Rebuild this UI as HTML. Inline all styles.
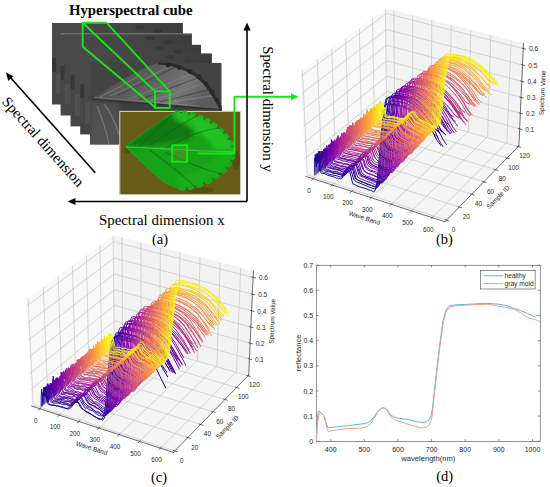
<!DOCTYPE html>
<html><head><meta charset="utf-8"><title>Figure</title>
<style>
html,body{margin:0;padding:0;background:#fff;}
body{width:550px;height:487px;overflow:hidden;position:relative;font-family:"Liberation Sans",sans-serif;}
svg{position:absolute;left:0;top:0;display:block;}
</style></head>
<body>
<svg width="550" height="487" viewBox="0 0 550 487">
<rect width="550" height="487" fill="#fff"/>
<defs>
<filter id="bl2" x="-20%" y="-20%" width="140%" height="140%"><feGaussianBlur stdDeviation="2"/></filter>
<linearGradient id="gl" x1="0" y1="0" x2="1" y2="0.35">
<stop offset="0" stop-color="#4a4a4a"/><stop offset="0.5" stop-color="#5e5e5e"/><stop offset="0.8" stop-color="#767676"/><stop offset="1" stop-color="#5c5c5c"/>
</linearGradient>
<linearGradient id="gd" x1="0" y1="0" x2="0" y2="1">
<stop offset="0" stop-color="#3c3c3c"/><stop offset="1" stop-color="#4a4a4a"/>
</linearGradient>
<radialGradient id="leafg" cx="0.6" cy="0.45" r="0.65">
<stop offset="0" stop-color="#2cb22c"/><stop offset="0.6" stop-color="#219a21"/><stop offset="1" stop-color="#1a861a"/>
</radialGradient>
<clipPath id="c5"><rect x="90" y="62.8" width="131.7" height="81.7"/></clipPath>
</defs>
<g id="layers">
<linearGradient id="gs" x1="0" y1="0" x2="1" y2="0.4"><stop offset="0" stop-color="#4a4a4a"/><stop offset="0.6" stop-color="#434343"/><stop offset="1" stop-color="#3a3a3a"/></linearGradient>
<rect x="52" y="23" width="130.9" height="81.5" fill="url(#gs)"/>
<rect x="60.6" y="33.5" width="131.3" height="82" fill="url(#gs)"/>
<rect x="70.5" y="44.8" width="130.5" height="81.6" fill="url(#gs)"/>
<rect x="80.2" y="53.4" width="131.7" height="81" fill="url(#gs)"/>
<path d="M60.6 33.8H191.9" stroke="#9a9a9a" stroke-width="0.7"/>
<g fill="#333" opacity="0.8">
<path d="M52 58h4v14h-4z"/><path d="M60.6 66h4v14h-4z"/><path d="M70.5 75h4v14h-4z"/><path d="M80.2 84h4v14h-4z"/>
</g>
<g fill="#5a5a5a" opacity="0.5">
<path d="M56 74h4v20h-4z"/><path d="M65 84h5v20h-5z"/><path d="M75 94h5v22h-5z"/><path d="M85 102h5v22h-5z"/>
</g>
<g fill="#2e2e2e" opacity="0.45">
<ellipse cx="140" cy="27" rx="5" ry="2"/><ellipse cx="158" cy="31" rx="5" ry="2"/><ellipse cx="150" cy="38" rx="5" ry="2"/><ellipse cx="168" cy="42" rx="5" ry="2"/><ellipse cx="160" cy="48" rx="4" ry="2"/><ellipse cx="178" cy="52" rx="4" ry="2"/><ellipse cx="170" cy="57" rx="4" ry="2"/><ellipse cx="188" cy="60" rx="4" ry="2"/>
</g>
<g clip-path="url(#c5)">
<rect x="90" y="62.8" width="131.7" height="81.7" fill="#434343"/>
<path d="M92 99 C110 88 135 70 158 63 C180 64 200 74 210 90 C216 99 219 104 222 110 C180 106 130 102 92 99Z" fill="url(#gl)"/>
<path d="M92 99 C130 102 180 106 222 110 L222 145 L90 145Z" fill="url(#gd)"/>
<g stroke="#8a8a8a" stroke-width="1.3" opacity="0.55" fill="none">
<path d="M110 96 C130 88 150 76 168 67"/><path d="M128 99 C150 92 170 83 190 74"/><path d="M150 101 C168 96 186 90 202 84"/><path d="M168 103 C185 100 200 97 212 96"/><path d="M100 97 C115 90 125 84 140 75"/>
</g>
<g stroke="#383838" stroke-width="1.2" opacity="0.6" fill="none">
<path d="M118 95 C140 85 158 75 176 67"/><path d="M138 100 C160 93 178 85 197 78"/><path d="M160 102 C178 98 194 93 208 90"/>
</g>
<path d="M158 63 C180 64 200 74 210 90 C216 99 219 104 222 110" stroke="#2c2c2c" stroke-width="3.2" fill="none"/>
<g fill="#262626">
<circle cx="168" cy="65" r="2.4"/><circle cx="179" cy="67.5" r="2.4"/><circle cx="190" cy="71.5" r="2.4"/><circle cx="199" cy="77" r="2.4"/><circle cx="206" cy="84" r="2.4"/><circle cx="212" cy="92" r="2.4"/><circle cx="217" cy="100" r="2.2"/>
</g>
<path d="M92 99 C130 102 180 106 222 110" stroke="#2f2f2f" stroke-width="1.4" fill="none"/>
<path d="M94 97.5 C130 100 160 103 200 106" stroke="#9a9a9a" stroke-width="0.8" fill="none" opacity="0.5"/>
<path d="M90 100 L120 104 L120 145 L90 145Z" fill="#5a5a5a" opacity="0.6" filter="url(#bl2)"/>
<g stroke="#7a7a7a" stroke-width="1.4" fill="none" opacity="0.8">
<path d="M97 106 C102 118 106 130 109 144"/><path d="M104 104 C111 113 116 123 119 135"/>
</g>
</g>
</g>
<g id="cimg">
<rect x="119.3" y="110.9" width="121" height="83.5" fill="#675b17"/>
<path d="M119.8 194.4V111.4H240" stroke="#d8d8c8" stroke-width="1" fill="none"/>
<g fill="#4f4512" opacity="0.6"><ellipse cx="236" cy="160" rx="4" ry="10"/><ellipse cx="200" cy="190" rx="14" ry="3"/><ellipse cx="128" cy="150" rx="4" ry="4"/></g>
<clipPath id="leafclip"><path d="M125.5 146.8 C135 139 150 128 157.7 123.5 C162 120 168 114.5 173.2 113.5 Q176.2 108.6 181 112.5 Q185.0 108.7 189 113.8 Q193.7 110.3 196.5 115.6 Q202.3 113.2 204.3 118.9 Q210.4 117.2 211 122.6 Q217.7 122.2 217.6 127.6 Q224.7 128.0 224 132.8 Q230.6 134.6 228.7 139.2 Q234.9 142.2 232.2 146.6 Q237.4 150.2 233.6 153.8 Q236.9 158.2 231.4 161.2 Q233.5 166.0 227 167.9 Q227.6 173.3 220.3 174.3 Q220.2 179.5 213.2 179 Q211.5 184.8 204.3 183.4 Q201.6 189.1 195.4 186.6 Q191.7 191.9 186.5 188.3 Q181.8 192.6 177.7 188 C170 186 163 182 159.9 179 C150 171 140 161 125.5 146.8Z"/></clipPath>
<path d="M125.5 146.8 C135 139 150 128 157.7 123.5 C162 120 168 114.5 173.2 113.5 Q176.2 108.6 181 112.5 Q185.0 108.7 189 113.8 Q193.7 110.3 196.5 115.6 Q202.3 113.2 204.3 118.9 Q210.4 117.2 211 122.6 Q217.7 122.2 217.6 127.6 Q224.7 128.0 224 132.8 Q230.6 134.6 228.7 139.2 Q234.9 142.2 232.2 146.6 Q237.4 150.2 233.6 153.8 Q236.9 158.2 231.4 161.2 Q233.5 166.0 227 167.9 Q227.6 173.3 220.3 174.3 Q220.2 179.5 213.2 179 Q211.5 184.8 204.3 183.4 Q201.6 189.1 195.4 186.6 Q191.7 191.9 186.5 188.3 Q181.8 192.6 177.7 188 C170 186 163 182 159.9 179 C150 171 140 161 125.5 146.8Z" fill="#17a217" stroke="#1fb01f" stroke-width="0.8"/>
<g clip-path="url(#leafclip)"><g filter="url(#bl2)">
<path d="M125 147 L160 118 L200 112 L190 140 L150 146Z" fill="#0e6e0e" opacity="0.8"/>
<path d="M175 110 C200 112 225 125 236 150 L215 150 C205 135 190 125 175 120Z" fill="#26c626" opacity="0.85"/>
<path d="M236 150 C230 170 210 185 180 192 L175 178 C200 172 215 162 220 150Z" fill="#20b020" opacity="0.7"/></g>
<g stroke="#136413" stroke-width="1.2" fill="none" opacity="0.55">
<path d="M150 145 C170 132 185 122 200 114"/><path d="M165 148 C185 138 205 128 222 128"/><path d="M150 150 C170 165 185 176 196 188"/><path d="M165 152 C185 162 205 170 222 174"/><path d="M140 146 C150 136 160 126 172 115"/>
</g>
<path d="M126 147 C160 148 195 151 233 152" stroke="#4fd04f" stroke-width="1.3" fill="none" opacity="0.7"/>
</g>
<g fill="#0f5a0f" opacity="0.6"><circle cx="181" cy="112.5" r="1.1"/><circle cx="189" cy="113.8" r="1.1"/><circle cx="196.5" cy="115.6" r="1.1"/><circle cx="204.3" cy="118.9" r="1.1"/><circle cx="211" cy="122.6" r="1.1"/><circle cx="217.6" cy="127.6" r="1.1"/><circle cx="224" cy="132.8" r="1.1"/><circle cx="228.7" cy="139.2" r="1.1"/><circle cx="232.2" cy="146.6" r="1.1"/><circle cx="233.6" cy="153.8" r="1.1"/><circle cx="231.4" cy="161.2" r="1.1"/><circle cx="227" cy="167.9" r="1.1"/><circle cx="220.3" cy="174.3" r="1.1"/><circle cx="213.2" cy="179" r="1.1"/><circle cx="204.3" cy="183.4" r="1.1"/><circle cx="195.4" cy="186.6" r="1.1"/><circle cx="186.5" cy="188.3" r="1.1"/></g>
<path d="M174 147h12v13h-12z" fill="#6a8a2a" opacity="0.45"/>
</g>
<g fill="none" stroke="#14e814" stroke-width="1.9" stroke-linejoin="miter">
<path d="M82.7 46.8V22.8H106.7"/>
<path d="M82.7 22.8L155 91.4"/><path d="M82.7 46.8L155 107.3"/><path d="M106.7 22.8L169.7 91.4"/>
<rect x="155" y="91.4" width="14.7" height="16.5"/>
<rect x="172.2" y="145.2" width="14.9" height="16.5"/>
<path d="M197.7 153.5H234.4V96.8H292"/>
</g>
<path d="M298.5 96.8l-7.5-3.5v7z" fill="#14e814"/>
<g stroke="#000" stroke-width="1.6" fill="none">
<path d="M247 201.5V28"/><path d="M247 201.5H73"/><path d="M95.3 172.7L10 77"/>
</g>
<g fill="#000">
<path d="M247 22.5l-3.6 8h7.2z"/>
<path d="M67.5 201.5l8-3.6v7.2z"/>
<path d="M6 72.5l2.2 8.5 5.2-4.7z"/>
</g>
<g font-family="Liberation Serif" fill="#000">
<text x="130.8" y="14.5" font-size="14.8" font-weight="bold" text-anchor="middle">Hyperspectral cube</text>
<text x="161.8" y="225.3" font-size="14.9" text-anchor="middle">Spectral dimension x</text>
<text transform="translate(263.2,109) rotate(90)" font-size="14.9" text-anchor="middle">Spectral dimension y</text>
<text transform="translate(39.5,145) rotate(48.2)" font-size="14.9" text-anchor="middle">Spectral dimension</text>
<text x="160" y="243.5" font-size="14.5" text-anchor="middle">(a)</text>
</g>

<g id="pb"><g font-family="Liberation Sans"><path d="M305.6 176.3l81.9-68.7-1.2-98.9-85.8 62.6" fill="#f2f2f2" stroke="#f2f2f2" stroke-width="0.54" stroke-linejoin="miter" opacity="0.5"/>
<path d="M387.5 107.6l131.4 38.2 4.6-102.4-137.2-34.7" fill="#e6e6e6" stroke="#e6e6e6" stroke-width="0.54" stroke-linejoin="miter" opacity="0.5"/>
<path d="M305.6 176.3l139.3 45.5 74-76-131.4-38.2" fill="#ececec" stroke="#ececec" stroke-width="0.54" stroke-linejoin="miter" opacity="0.5"/>
<path d="M313.1 178.8l81.5-69.1-0.8-99.1" fill="none" stroke="#b8b8b8" stroke-width="0.55"/>
<path d="M332.2 185l80.5-70-0.1-99.7" fill="none" stroke="#b8b8b8" stroke-width="0.55"/>
<path d="M351.6 191.3l79.4-71 0.8-100.1" fill="none" stroke="#b8b8b8" stroke-width="0.55"/>
<path d="M371.3 197.8l78.3-72.1 1.6-100.6" fill="none" stroke="#b8b8b8" stroke-width="0.55"/>
<path d="M391.3 204.3l77.2-73.1 2.3-101.1" fill="none" stroke="#b8b8b8" stroke-width="0.55"/>
<path d="M411.6 210.9l76-74.2 3.2-101.6" fill="none" stroke="#b8b8b8" stroke-width="0.55"/>
<path d="M432.2 217.6l74.7-75.2 4.2-102.1" fill="none" stroke="#b8b8b8" stroke-width="0.55"/>
<path d="M302.4 69.9l4.9 104.9 139.2 45.3" fill="none" stroke="#b8b8b8" stroke-width="0.55"/>
<path d="M317.2 59.1l4.3 103.8 137.8 44.1" fill="none" stroke="#b8b8b8" stroke-width="0.55"/>
<path d="M331.7 48.5l3.5 102.9 136.5 42.8" fill="none" stroke="#b8b8b8" stroke-width="0.55"/>
<path d="M345.7 38.3l2.9 101.9 135.2 41.6" fill="none" stroke="#b8b8b8" stroke-width="0.55"/>
<path d="M359.3 28.4l2.3 100.9 134 40.4" fill="none" stroke="#b8b8b8" stroke-width="0.55"/>
<path d="M372.5 18.7l1.8 100 132.7 39.3" fill="none" stroke="#b8b8b8" stroke-width="0.55"/>
<path d="M385.4 9.3l1.2 99.1 131.5 38.2" fill="none" stroke="#b8b8b8" stroke-width="0.55"/>
<path d="M519.6 128.9l-132.3-37.6-82.6 67.6" fill="none" stroke="#b8b8b8" stroke-width="0.55"/>
<path d="M520.3 113.3l-133.2-37.2-83.1 66.8" fill="none" stroke="#b8b8b8" stroke-width="0.55"/>
<path d="M521.1 97.4l-134.2-36.6-83.7 65.9" fill="none" stroke="#b8b8b8" stroke-width="0.55"/>
<path d="M521.8 81.3l-135.1-36.1-84.3 65" fill="none" stroke="#b8b8b8" stroke-width="0.55"/>
<path d="M522.6 65l-136-35.5-85 63.9" fill="none" stroke="#b8b8b8" stroke-width="0.55"/>
<path d="M523.3 48.5l-136.9-35-85.6 63" fill="none" stroke="#b8b8b8" stroke-width="0.55"/>
<path d="M305.6 176.3l139.3 45.5" fill="none" stroke="#222" stroke-width="0.65" stroke-linecap="square"/>
<path d="M313.8 178.2l-2.1 1.8" fill="none" stroke="#222" stroke-width="0.65" stroke-linecap="square"/>
<text x="309.1" y="191.4" font-size="6.39" text-anchor="middle" fill="#262626" dy="1.2">0</text>
<path d="M332.9 184.4l-2.1 1.8" fill="none" stroke="#222" stroke-width="0.65" stroke-linecap="square"/>
<text x="328.2" y="197.7" font-size="6.39" text-anchor="middle" fill="#262626" dy="1.2">100</text>
<path d="M352.3 190.7l-2.1 1.9" fill="none" stroke="#222" stroke-width="0.65" stroke-linecap="square"/>
<text x="347.6" y="204.1" font-size="6.39" text-anchor="middle" fill="#262626" dy="1.2">200</text>
<path d="M372 197.1l-2.1 1.9" fill="none" stroke="#222" stroke-width="0.65" stroke-linecap="square"/>
<text x="367.3" y="210.6" font-size="6.39" text-anchor="middle" fill="#262626" dy="1.2">300</text>
<path d="M392 203.6l-2.1 2" fill="none" stroke="#222" stroke-width="0.65" stroke-linecap="square"/>
<text x="387.3" y="217.2" font-size="6.39" text-anchor="middle" fill="#262626" dy="1.2">400</text>
<path d="M412.2 210.3l-2 1.9" fill="none" stroke="#222" stroke-width="0.65" stroke-linecap="square"/>
<text x="407.6" y="223.9" font-size="6.39" text-anchor="middle" fill="#262626" dy="1.2">500</text>
<path d="M432.8 217l-1.9 1.9" fill="none" stroke="#222" stroke-width="0.65" stroke-linecap="square"/>
<text x="428.2" y="230.7" font-size="6.39" text-anchor="middle" fill="#262626" dy="1.2">600</text>
<text x="364.1" y="218.9" font-size="6.39" text-anchor="middle" transform="rotate(-341.9 364.1 218.9)" fill="#262626" dy="1.2">Wave Band</text>
<path d="M518.9 145.8l-74 76" fill="none" stroke="#222" stroke-width="0.65" stroke-linecap="square"/>
<path d="M445.3 219.7l3.5 1.2" fill="none" stroke="#222" stroke-width="0.65" stroke-linecap="square"/>
<text x="453.5" y="231.5" font-size="6.39" text-anchor="middle" fill="#262626" dy="0.6">0</text>
<path d="M458.1 206.6l3.5 1.1" fill="none" stroke="#222" stroke-width="0.65" stroke-linecap="square"/>
<text x="466.2" y="218.3" font-size="6.39" text-anchor="middle" fill="#262626" dy="0.6">20</text>
<path d="M470.6 193.8l3.4 1.1" fill="none" stroke="#222" stroke-width="0.65" stroke-linecap="square"/>
<text x="478.5" y="205.4" font-size="6.39" text-anchor="middle" fill="#262626" dy="0.6">40</text>
<path d="M482.7 181.4l3.4 1.1" fill="none" stroke="#222" stroke-width="0.65" stroke-linecap="square"/>
<text x="490.5" y="192.9" font-size="6.39" text-anchor="middle" fill="#262626" dy="0.6">60</text>
<path d="M494.4 169.4l3.4 1" fill="none" stroke="#222" stroke-width="0.65" stroke-linecap="square"/>
<text x="502.2" y="180.7" font-size="6.39" text-anchor="middle" fill="#262626" dy="0.6">80</text>
<path d="M505.9 157.7l3.3 1" fill="none" stroke="#222" stroke-width="0.65" stroke-linecap="square"/>
<text x="513.5" y="168.9" font-size="6.39" text-anchor="middle" fill="#262626" dy="0.6">100</text>
<path d="M517 146.3l3.3 1" fill="none" stroke="#222" stroke-width="0.65" stroke-linecap="square"/>
<text x="524.5" y="157.4" font-size="6.39" text-anchor="middle" fill="#262626" dy="0.6">120</text>
<text x="499.2" y="198.3" font-size="6.39" text-anchor="middle" transform="rotate(-45.7 499.2 198.3)" fill="#262626" dy="0.6">Sample ID</text>
<path d="M518.9 145.8l4.6-102.4" fill="none" stroke="#222" stroke-width="0.65" stroke-linecap="square"/>
<path d="M518.5 128.6l3.4 0.9" fill="none" stroke="#222" stroke-width="0.65" stroke-linecap="square"/>
<text x="529.6" y="131.6" font-size="6.39" text-anchor="middle" fill="#262626">0.1</text>
<path d="M519.2 113l3.4 0.9" fill="none" stroke="#222" stroke-width="0.65" stroke-linecap="square"/>
<text x="530.4" y="116.0" font-size="6.39" text-anchor="middle" fill="#262626">0.2</text>
<path d="M519.9 97.1l3.4 0.9" fill="none" stroke="#222" stroke-width="0.65" stroke-linecap="square"/>
<text x="531.2" y="100.2" font-size="6.39" text-anchor="middle" fill="#262626">0.3</text>
<path d="M520.7 81l3.4 0.9" fill="none" stroke="#222" stroke-width="0.65" stroke-linecap="square"/>
<text x="532.0" y="84.1" font-size="6.39" text-anchor="middle" fill="#262626">0.4</text>
<path d="M521.4 64.7l3.4 0.9" fill="none" stroke="#222" stroke-width="0.65" stroke-linecap="square"/>
<text x="532.8" y="67.8" font-size="6.39" text-anchor="middle" fill="#262626">0.5</text>
<path d="M522.2 48.2l3.4 0.9" fill="none" stroke="#222" stroke-width="0.65" stroke-linecap="square"/>
<text x="533.6" y="51.3" font-size="6.39" text-anchor="middle" fill="#262626">0.6</text>
<text x="544.6" y="92.9" font-size="6.39" text-anchor="middle" transform="rotate(-87.4 544.6 92.9)" fill="#262626">Spectrum Value</text></g>
<g fill="none" stroke-width="1.00" stroke-linecap="square" stroke-linejoin="round"><path d="M314.8 175l-0.2-12.9 0.1-3 0.3-1.3 0.3 3.6-0.1-6.9 0.3 1.7 0.2-0.2 0.2 2.4 0.2-1.9 0.2 1.3 0.2-0.4 0.2 1.8 0.4 3-0.1-5.5 0.5 6.8 0-3.7 0.2 0 0.3 1.9 0-3.6 0.3 2 0.2 0.6 0.1-2.1 0.3 2.4 0-4 0.4 4.4 0.6 4.8 0.5 3.3 0.5 2.8 0.2 0.6 0.4 0.3 0.4 0.2 0.3 0 1.9 0.1 1 0.3 1 0.5 0.9 0.6 1 0.4 2.9 0.8 0.9 0.3 1 0.1 1.9 0.9 1 0.4 0.9 0.3 1 0 1 0.3 0.9 0.1 1 0.4 1-0.2 0.9-1 0.8-3.1 0.9-2.6 0.9-1.7 1.9-1.3 2 0.9 1.1 2.5 1 3.9 1.2 5.4 1 2.4 1 0.2 1.9 0.9 1 0.7 1 0.5 1 0.4 1 0.2 1 0.2 0.9 0.1 1 0.4 1 0.3 1 0.5 1 0.1 1 0.5 1 0.4 0.9 0.5 2 0.4 1 0.4 1.6 1 0.6 0 0.6-0.7 0.6-1.4 0.5-1.5 1.1-5.7 0.5-4.2 1.1-10.7 1-12.4 1-13.3 0.5-6.4 1.1-10.2 1.7-14.4 0.5-3.6 0.6-1.7 0.7-1 2.2-0.6 1.5 0 4.4 0.6 2.9 0.6 4.5 0.8 1.5 0.4 1.4 0.5 1.5 0.7 1.5 0.9 4.5 2.4 1.5 0.9 1.5 1 2.9 2.6 4.5 4 1.5 1.3 3 3.3 3 3.6 4.5 6.2 1.5 1.2 1.5 0.9 0.8 0.7 0 0" stroke="#0d0887"/>
<path d="M316 174l-0.1-11.7 0-3.4 0.5 8-0.2-10.2 0.2 0 0-2.7 0.4 5.2 0.2-1.2 0.3 1.9 0.2 1.1 0.3-1.6 0-3.7 0.3 3.1 0.3 1.9 0.1-2 0.2-0.1 0.3 2.1 0-4 0.5 6.9 0-3.6 0.1-1.9 0.4 4.6 0-3.7 0.2-1.6 0.6 6.4 0.8 4.9 0.5 2.4 0.2 0.6 0.4 0.4 0.3 0.2 0.4-0.1 1 0.4 0.9 0.1 1 0.3 0.9 0.1 1 0.6 1 0.5 1.9 0.4 1.9 0.4 0.9 0.2 2.9 0.6 1 0.4 1 0.4 0.9 0.3 1 0 1.9-0.1 0.9-0.5 1.8-4.5 0.9-1.8 1-0.8 0.9-0.6 1 0.2 1 0.3 1 1.9 1.1 2.9 1 4.1 1.1 2.3 2 1.4 0.9 0.5 1 0.4 1 0.2 1 0.6 1 0.3 1 0.5 1.9 0.7 1 0.6 1 0.1 1 0.6 1 0.2 1 0.7 1 0.1 1 0.5 0.9 0.3 1 0.5 1 0.1 0.6 0.2 0.6 0.5 0.6-0.4 0.6-1.2 0.5-1.8 0.6-2.6 0.5-3 0.6-3.8 1-11 1-13.5 1.5-20.7 1.1-11.6 1.7-15.2 0.6-3.7 0.6-1.7 0.6-1.1 0.6-0.2 0.6-0.2 0.6-0.3 0.5-0.1 1.4-0.1 3 0.4 1.4 0.1 1.5 0.2 2.9 0.6 4.5 1.2 1.5 0.5 3 1.5 1.4 0.8 3 1.8 1.5 1 1.5 1.1 3 2.6 1.5 1.3 4.5 4.5 3 3.4 1.5 1.8 1.5 1.9 4.4 6.7 1.5 1.4 1.5 0.9 0.9 0.7 0 0" stroke="#19068c"/>
<path d="M317.2 173l-0.2-12.9 0.1-6.7 0.3 4.2 0.1-2.8 0.2-1.1 0.3 4.3 0.2-1.2 0.2 1.3 0.2 0.6 0.1-3 0.3 2 0-3 0.3 1.6 0.1-0.9 0.3 1.7 0.2 0.9 0.2-1.1 0.1-0.1 0.3 1.6 0.1-2.4 0.1-0.6 0.3 1.4 0-3.3 0.5 5.7 0.1-0.7 0.3 3 0.8 5.3 0.5 2.6 0.2 0.6 0.4 0.4 0.4 0.2 0.4 0.1 1.9 0.8 2.8 0.3 1 0.4 1 0.3 1.9 0.7 1.9 0.3 0.9 0.1 1 0.4 1 0.1 0.9 0.4 1 0.1 2.9 1 1 0.1 0.9-1 0.9-3 0.8-2.9 1-1.5 0.9-0.8 0.9-0.7 1 0.2 1 0.4 1 1.8 1.1 3.4 1.1 4.7 1 2.6 1 0.3 1 0.6 1 0.7 1 0.4 2.9 1.2 1 0.3 1 0.5 1 0.4 1 0.7 1.9 0.5 1 0.2 1 0.3 4 1.7 1 0.2 1.1 0.5 0.6-0.5 0.6-1.4 0.6-1.6 1.1-5.2 0.5-4 1-11.4 1.6-20.3 1-13.5 1.1-11.2 1.1-10 0.6-4.2 0.5-3.2 0.7-1.8 0.6-1.1 2.2-1 1.5 0 1.5 0.2 2.9 0.3 1.5 0.2 2.9 0.6 1.5 0.3 1.5 0.5 1.5 0.4 1.4 0.5 3 1.6 3 1.8 3 2 1.5 1.2 2.9 2.7 3 3 3 3 6 7.6 3 4.7 1.4 2.5 1.5 1.2 1.5 1 0.9 0.8 0 0" stroke="#220690"/>
<path d="M318.3 172l-0.1-13.2 0-3.4 0.1-1.5 0.1-2.7 0.3 2.5 0.2-0.4 0.1-0.9 0.2-1.4 0.2 1 0.3 2 0.2 0.5 0.3 3.3 0-3.3 0.4 3.1 0.1 0 0.1-3.6 0.2 1.8 0.2-1.2 0.3 2.5 0-3.9 0.3 2.4 0.1-2.2 0.5 2.5 0.2 1.8 0.3 0.8 0.8 6 0.7 4.2 0.2 0.6 0.4 0.4 0.8 0.5 0.9 0.2 1 0.3 0.9 0.1 1 0.4 0.9 0.1 1 0.5 2.9 0.9 0.9 0 1 0.3 0.9 0 1 0.5 3.8 1 1 0.4 1 0.2 0.9 0 1-0.7 1.7-6 0.9-2 1-0.7 0.9-0.5 1 0.3 1 0.5 1 2.3 1.1 3.7 1.1 5 1 2.4 1 0.4 1 0.4 1 0.7 0.9 0.4 1 0.7 1 0.2 1 0.4 1 0.1 4.9 1.9 1 0.6 1 0.3 1 0.3 0.9 0.3 2 0.7 1.6 0.5 0.6 0.1 0.6-0.6 0.6-1.2 0.5-1.5 1.1-5.7 0.6-4 1-11 2.6-32.3 0.5-5.3 1.7-14.1 0.6-4.1 0.6-3.3 0.6-1.6 0.6-1 0.6-0.2 0.6-0.3 1.1-0.4 1.4 0 1.5 0.2 1.4 0.3 1.5 0.1 4.4 0.9 1.5 0.3 1.5 0.4 2.9 1.2 3 1.9 1.5 1 2.9 2.3 1.5 1.3 1.5 1.5 3 3.4 2.9 3.6 1.5 1.8 1.5 1.9 3 4.6 1.5 2.3 1.4 2.4 4.5 8.3 1.4 2 1.5 1.7 0.9 1.2 0 0" stroke="#2c0594"/>
<path d="M319.5 171l-0.1-11.2 0.1-3.5 0.1-1.1 0.2 0.1 0.1-1.2 0.2 0 0.2 0.6 0.4 3.1 0-3 0.2-1 0.3 3.3 0-5.5 0.4 5 0.2 1 0.1-2 0.2 1.4 0.3 2.5 0.1-6.4 0.2-0.8 0.4 5.9 0.1-3.2 0.2 1.8 0.2-0.2 0.1-1.7 0.3 2.6 0.4 3.6 0.7 4.8 0.5 2.3 0.2 0.6 0.4 0.4 0.4 0.2 0.3-0.2 1 0.2 1 0.4 0.9 0.6 1.9 0.7 1 0 1.9 0.4 0.9 0 1 0.2 0.9 0.2 1 0.5 1 0.4 0.9 0.1 1 0.4 1 0.2 0.9 0.5 1 0.2 0.9 0 1-0.3 0.9-0.8 1.8-4.8 0.9-1.7 1-0.7 0.9-0.5 1 0.4 1 0.4 1 1.7 1 2.8 1.1 4.1 1 2.2 1 0.7 1 0.4 1 0.7 1 0.3 0.9 0.6 1 0.3 1 0.5 1 0.2 1 0.6 1 0.3 1 0.5 1.9 0.4 2 0.9 1 0.6 1 0.6 1 0.4 1 0.2 0.9 0.4 0.6 0.1 0.6 0 1.2-1.8 0.6-1.4 0.5-2 0.6-3.1 0.5-3.5 1.1-11.2 3.1-39.7 1.1-10.4 0.5-5.4 0.6-4.3 0.6-3.4 0.6-1.7 0.6-1.1 0.6-0.2 1.7-0.5 1.5 0 1.4 0.1 2.9 0.4 5.9 1.1 1.5 0.4 1.5 0.3 1.5 0.6 1.4 0.7 1.5 0.9 1.5 0.7 3 1.9 1.5 1.1 1.5 1.2 2.9 2.7 1.5 1.5 4.5 4.6 3 3.7 2.9 3.7 3 4.6 1.5 2.4 1.5 1.4 1.5 1.1 0.8 0.9 0 0" stroke="#330597"/>
<path d="M320.7 170l-0.1-16 0.4 6.2-0.1-9.1 0.2 1 0.3 3.3 0.2-0.6 0.3-2.4 0.2 1.9 0.1-3.3 0.2 1.7 0.3 2.8 0.2-0.6 0.3-2.5 0.2 0.2 0.2 1.9 0.2-0.4 0.2 0.5 0.1-1.8 0.4 4.1 0-3.4 0.4 5.6 0.1-4.6 1 8.1 0.5 2.9 0.2 1.1 0.2 0.5 0.2 0.3 0.2 0.2 0.4 0.2 0.4 0 0.9-0.1 1 0.5 1 0.3 2.8 0.6 1 0.6 0.9 0.2 1 0 0.9 0.3 1 0.1 0.9 0.3 1 0.3 1.9 1.1 1 0.2 1.9 0 1.9-0.1 1-0.8 1.7-5 1-1.6 0.9-0.9 0.9-0.7 1 0 1 0.4 1 1.5 1 2.6 1.1 4.1 1 2.7 1 0.9 1 0.8 1 0.4 1 0.5 1 0.1 0.9 0.5 1 0.3 2 1.5 1 0.5 1 0.2 1 0.1 0.9 0.5 1 0.6 1 0.6 1 0.3 1 0.2 1 0.4 1 0.5 1.6 0.6 0.5 0 0.6-0.6 1.2-2.6 0.5-2.4 0.6-3 0.5-4 1.6-17.3 2.6-33.1 0.6-5 1.7-13.4 0.6-3.1 0.6-1.7 0.6-1.1 0.6-0.2 0.6-0.3 1.1-0.3 1.4 0.1 1.5 0.2 2.9 0.2 7.4 1.7 1.4 0.5 1.5 0.7 1.5 1 1.5 1.1 1.5 1.2 2.9 2.6 1.5 1.4 1.5 1.8 4.4 6 3 4.2 1.5 2.3 1.5 2.5 4.4 8.2 1.4 3.1 3 6.5 1.4 2.2 1.5 2 0.8 1.4 0 0" stroke="#3a049a"/>
<path d="M321.9 169l0-13.2 0.2-0.6 0.1-0.8 0.3 1.6 0.1-1.5 0.2-0.1 0.1-1 0.3 1.6 0.1-0.3 0.2-2.2 0.3 5.1 0.1-2.1 0.2-0.8 0.1-1.2 0.3 2.6 0.2-0.3 0.2 1.1 0.1-3.4 0.3 3.6 0.1-2.2 0.3 1.9 0.2-0.2 0.3 2.9 0.1-2.3 0.9 5.8 0.5 2.4 0.2 0.9 0.2 0.5 0.2 0.2 0.2 0.2 0.4 0.2 0.4-0.1 0.9 0.2 1 0.3 0.9 0.4 1.9 0.3 1 0.3 0.9 0 1 0.5 2.9 0.6 1.9 0.9 1 0.4 0.9 0.2 1 0.4 0.9 0 1 0.2 1 0.1 0.9 0 0.9-0.6 1.9-3.7 0.9-1.1 0.9-0.7 1-0.8 0.9-0.5 1 0.1 1 1.4 1 2.3 1.1 3.2 1 2.1 1 0.7 1 1 1.9 1 2 0.8 1 0.4 3.9 1.6 1 0.6 1 0.2 1 0.6 1 0.2 0.9 0.5 1 0.3 1 0.6 1 0.4 1.6 0 0.6 0.2 0.6-0.2 0.5-1.1 0.6-1.4 0.6-2.1 0.5-2.6 0.6-3.2 1-10.4 1.1-13.2 1.6-20.6 0.5-6.7 1.1-10.9 0.6-5.4 0.5-4.6 0.6-3.5 0.6-1.7 0.6-1.1 0.7-0.3 1.2-0.4 0.4-0.1 1.5 0 4.4 0.4 2.9 0.6 2.9 0.5 1.5 0.4 1.5 0.5 1.5 0.6 1.5 0.8 2.9 1.8 3 2.1 1.5 1.1 1.4 1.4 3 3.1 1.5 1.5 4.4 5.1 1.5 2 3 4.4 1.5 2.2 1.4 2.5 3 5.2 1.5 1.7 1.5 1.2 0.8 1 0 0" stroke="#43039e"/>
<path d="M323 168l0-11.3 0-3.2 0.2 0.5 0.1-1.8 0.3 1.5 0.1-1.3 0.1-3.2 0.4 5.1 0.2 1.9 0-6.7 0.5 5.2 0.2-0.8 0.2 1.6 0.1-4.1 0.2 0.6 0.2 0.3 0.2 1 0.4 5.1 0.1-1.8 0.1-3.1 0.4 6.6 0-5.6 0.3 2.2 0-3.3 0.4 3.5 0.2 1.3 0.7 4.7 0.5 2.3 0.2 0.6 0.4 0.3 0.4 0.2 0.4 0 0.9 0.4 1 0.3 0.9 0.5 1 0.1 0.9 0.1 0.9-0.1 1 0.2 1 0.3 0.9 0.5 1 0.4 0.9 0.3 1 0.2 0.9 0.1 1 0.4 1 0.3 0.9 0.4 1 0 1 0.4 0.9 0.2 1 0 0.9-0.7 0.9-2.7 0.9-2.2 0.9-1.8 1-0.4 0.9-0.6 1 0.3 1 0.6 1 1.7 1 2.9 1.1 4.2 1 2.4 1 0.7 1 0.3 0.9 0.5 3 1 0.9 0.3 1 0.6 1 0.3 1 0.5 2 0.6 0.9 0.3 1 0.7 1 0.5 2 0.9 1 0.1 1 0.2 0.9 0 0.6 0.5 0.6 0.2 0.6-0.4 0.6-1.3 0.6-1.5 0.5-2.3 0.6-2.8 0.5-3.8 1.1-10.7 1-12.7 1.6-19.5 0.6-5.9 1.7-15.3 0.5-4.5 0.6-3.6 0.6-1.6 0.6-1.1 1.9-0.7 0.4-0.1 1.5 0 1.4 0.1 1.5 0.2 4.4 0.9 1.4 0.2 3 0.6 1.5 0.6 1.4 0.6 4.5 2.6 2.9 2.1 1.5 1 1.5 1.3 2.9 3 3 3.3 1.5 1.6 1.5 1.7 1.4 1.9 4.5 6.4 2.9 4.9 1.5 2.5 1.4 1.7 1.5 1.3 0.9 0.9 0 0" stroke="#4903a0"/>
<path d="M324.2 167l-0.1-11.3 0.1-3.1 0.2 0.8 0-4.1 0.4 3.3 0.1-1 0.2 0.4 0-4.3 0.5 8 0.1-1.8 0.1-3.1 0.2-1.1 0.3 5 0-4.8 0.4 3.7 0.2 0.7 0.2-0.1 0.1-2.1 0.2-0.2 0.3 3.1 0.1-2.3 0.2 1.4 0.3 1.9-0.1-6.3 0.4 6.3 0.2-0.7 0.8 5.3 0.7 3.7 0.2 0.5 0.4 0.4 0.3 0.2 0.4 0.1 1 0.5 0.9 0.1 1 0.3 0.9 0.1 1 0.4 0.9 0.2 1 0.5 1.9 0.6 0.9-0.2 1 0.1 0.9 0.1 2 0.5 0.9 0.4 1 0.7 1 0.4 0.9 0.1 1-0.1 0.9 0.1 0.9-0.9 0.9-2.3 0.9-2.6 1-1.5 0.9-0.7 1-0.4 1.9 0.3 1 1.7 1 3.1 1.1 4.3 1 2.2 2 1.2 1 0.7 1 0.6 0.9 0.4 1 0.1 1 0.3 1 0.4 0.9 0.6 3 1 1 0.4 0.9 0.2 2 0.7 1 0.7 2 0.9 1-0.1 1.1 0.4 0.6-0.3 0.6-1 0.6-1.5 0.5-2.5 0.6-2.9 0.5-3.8 1.1-10.5 1.1-12.4 1.6-19.4 1.1-11 0.6-4.8 0.5-5.2 0.6-4.4 0.6-3.5 0.6-1.6 0.6-0.9 1.2-0.5 1.1-0.4 4.3 0.4 1.5 0.1 2.9 0.6 4.4 1 1.5 0.5 1.5 0.8 1.4 0.9 1.5 1.1 3 2.5 2.9 2.7 1.5 1.6 2.9 3.8 3 3.9 1.5 2.1 1.4 2.1 1.5 2.5 4.4 7.9 4.4 9.1 1.4 2.2 1.5 2.1 0.8 1.3 0 0" stroke="#5002a2"/>
<path d="M325.4 166l0-14.2 0-2.9 0.4 3.1 0-2.4 0.4 5.5 0-5.2 0.1-1.9 0.4 3.7 0.2 1.1-0.1-7.3 0.4 6 0.1-2.9 0.4 4.6 0.2 1.3 0.2 0.8 0-5.5 0.4 6 0.2 0.9 0.1-3 0.2-0.3 0.2-0.2 0.2 2.3 0.2-0.9 0.1-1.3 0.4 5.8 0.1-2.7 1 5.6 0.2 0.9 0.2 0.5 0.2 0.3 0.2 0.2 0.4 0.2 0.4-0.1 0.9 0.4 1 0.6 0.9 0.2 1.9 0.1 1 0.3 0.9 0.4 1 0.3 1.9 0.2 0.9 0.3 1 0.1 0.9 0.1 1 0.4 1 0.2 0.9 0.4 1 0.2 0.9 0.3 1 0.1 0.9-0.1 1-0.4 0.9-2.3 0.9-1.9 0.9-1.4 1-0.5 0.9-0.7 1-0.2 0.9 0.2 1 1.2 1.1 2.3 1 3.2 1 2 3 2.6 1.9 0.7 1 0.3 1 0.4 1 0.4 0.9 0.5 1 0.3 1 0.7 2.9 1 1 0.7 1 0.5 1 0.4 1 0.2 1 0.3 1 0.3 0.6 0.2 0.5 0.1 0.6-0.2 1.2-2.5 0.5-2.3 0.6-2.7 0.6-3.3 1-10.7 1.1-13.1 1.6-20.2 0.6-6.2 1.1-10.2 0.6-5.2 0.5-4.3 0.6-3.3 0.6-1.8 0.6-1 1.3-0.6 1-0.3 1.5 0 4.3 0.6 3 0.5 4.4 0.9 1.4 0.4 1.5 0.6 1.5 0.8 2.9 1.8 3 2 1.5 1.1 1.5 1.3 4.4 4.7 2.9 3.3 1.5 1.7 3 3.9 2.9 4.2 2.9 5.1 1.5 2.6 1.5 1.6 1.5 1.2 0.8 0.9 0 0" stroke="#5801a4"/>
<path d="M326.5 165l0-10.6 0.1-3.1 0.3 3.1 0.3-5 0.3 1.9 0.1-1.4 0.4 4.3-0.1-5.9 0.4 3.7 0.2 0.9 0.1-1.8 0.2-0.8 0.2 1.6 0.1-1.9 0.4 5.5 0.1-3.6 0.1-2 0.2 0.9 0.3 1.8 0.1-1.3 0.1-3 0.4 6.5 0.1-2.7 1 6.9 0.5 2.4 0.2 1 0.2 0.5 0.4 0.4 0.4 0.2 0.3-0.1 1 0.3 1.9 0.4 1.9 0.8 0.9 0.3 1 0.1 0.9 0.3 1.9 0.5 2 0.5 0.9 0.4 1 0.3 0.9 0 1 0.1 0.9 0.2 1 0.6 1 0.2 0.9-0.2 0.9-0.7 0.9-2.2 0.9-1.9 1-1.5 1.9-1.4 0.9 0.3 1 0.3 1 1.8 1 2.7 1.1 3.9 1 2.1 1 0.3 2.9 1.9 1 0.3 1 0.2 0.9 0.4 3 1.1 1 0.4 0.9 0.3 2 0.9 1 0.4 1 0.3 0.9 0.3 1 0.5 2 0.6 0.6 0.3 0.6 0.2 0.6-0.6 0.5-1.1 0.6-1.4 0.6-2.2 0.5-2.7 0.6-3.7 1.1-10.6 1-12.8 1.7-20.6 0.5-6.4 1.1-10.8 0.6-5.6 0.6-4.9 0.6-3.9 0.6-1.7 0.6-1.2 0.6-0.3 1.2-0.4 0.5 0 1.4-0.1 4.4 0.5 1.4 0.3 1.5 0.4 5.9 1.2 1.5 0.5 1.4 0.7 5.9 3.5 1.5 0.9 1.5 1.3 4.4 4.3 1.5 1.3 3 3.1 2.9 3.8 3 3.7 2.9 4.6 1.5 2.4 1.5 1.3 1.4 1.1 0.9 0.8 0 0" stroke="#5e01a6"/>
<path d="M327.7 164.1l-0.1-12.1 0-3.8 0.3 0.8 0.2 0.4 0.2-3.6 0.2-1 0.1-0.1 0.5 2.3 0.3 2.1 0.2-4.4 0.3 3.1 0.1-1.3 0.3 1.7 0.1-0.9 0.3 3.2 0.2 0.9 0.2-0.6 0.3 2.3-0.1-6.1 0.1-3.3 0.4 5.9 0.3 1.8 0.1-0.8 0.6 4.2 0.5 3.3 0.4 2.4 0.2 0.5 0.2 0.3 0.2 0.1 0.8 0.5 0.9 0.1 1.9 0.6 2.8 0.4 1 0.6 1 0.4 0.9 0.3 1 0.1 0.9 0.2 1 0 1.9 0.3 0.9 0.4 1 0.4 1.9 0.4 1-0.1 0.9-0.2 0.9-0.6 1.8-4.8 1-1.7 0.9-1 0.9-0.6 1 0.1 1 0.3 1 1.5 1 2.7 1.1 4 1 2.3 1 0.9 1.9 1.6 2 0.8 1.9 0.3 1 0.5 1 0.6 1 0.7 1.9 0.9 1 0.5 1 0.2 1 0.5 1 0.3 0.9 0.5 2 0.5 1 0.1 0.6 0.2 0.6 0.4 0.6-0.3 0.5-1.2 0.6-1.5 0.6-2.5 0.5-2.8 0.6-3.8 1.1-11.1 1-12.8 1.7-20.1 0.5-5.9 0.6-5.1 1.7-13.4 0.6-3 0.6-1.7 0.6-1 1.3-0.6 0.6-0.3 0.4-0.1 1.5 0 2.9 0.4 1.4 0.1 3 0.6 4.4 0.9 1.4 0.5 1.5 0.7 4.4 2.9 3 2.2 1.4 1.2 1.5 1.4 1.5 1.6 5.9 7 1.4 1.9 3 4.4 2.9 4.8 4.4 8.1 1.4 1.8 1.5 1.5 0.8 1.1 0 0" stroke="#6400a7"/>
<path d="M328.8 163.1l0.1-13 0.3 2 0.2-0.2 0.1-1.5 0.2 0 0.1-1.3 0.3 3.2 0.1-1.5 0.4 0.7 0.1-4.4 0.2 2.3 0.1-4 0.3 3.1 0.2 1 0.1-1.9 0.2 0.3 0.4 6.3 0.3-2.9 0.2-1 0.2 0.1 0.3 4.1 0-3.6 0.3 1.1 0.2 2.3 1 5.1 0.2 0.8 0.2 0.5 0.2 0.3 0.2 0.1 0.4 0.2 0.3-0.2 1 0.3 0.9 0.6 1 0.2 0.9 0 1.9 0.6 1 0.4 0.9 0.2 1 0 0.9 0.1 1 0.1 2.8 1.3 1 0.3 1.9 0.2 1 0.4 0.9 0 1-0.2 0.9-0.6 0.9-1.6 0.9-1.5 1-1.2 0.9-0.8 1-0.9 0.9-0.4 1 0.3 1 1.2 1 2.6 1 3 1 2.1 1 0.4 2 1.5 0.9 0.6 3 0.9 0.9 0.3 2 0.9 2 1.3 1.9 0.6 2 0.2 1 0.6 0.9 0.6 1 0.4 1 0 0.6 0.1 0.6 0.3 0.6-0.2 1.1-2.2 0.6-2.1 0.6-2.5 0.5-3.3 1.1-10 1.1-12.4 1.6-19.8 0.6-6.3 1.1-10.4 0.6-5.1 0.6-4.3 0.6-3.4 0.6-1.7 0.6-1.1 2.3-0.7 1.4 0 1.5 0.1 2.9 0.4 1.4 0.4 3 0.5 1.4 0.3 1.5 0.3 1.5 0.5 1.4 0.6 1.5 0.9 2.9 2 1.5 1 2.9 2.4 1.5 1.4 1.5 1.6 2.9 3.4 4.4 5.6 3 4.3 2.9 4.6 2.9 5.4 1.4 2.7 1.5 1.8 1.5 1.5 0.8 1 0 0" stroke="#6c00a8"/>
<path d="M330 162.1l-0.1-12.5 0-3.9 0.3 2.7 0.1-2.8 0.3 3.9 0-6 0.5 4.3 0.1-3.5 0.3 3.3 0-4.5 0.2 0.7 0.1-3.3 0.4 6.7 0.1-3.6 0.3 3.2 0.3 1.7-0.1-6.6 0.4 6.5 0-5.9 0.4 4.6 0.1-2.3 0.2 2.7 0.7 2.4 0.2 0.8 0.7 5 0.5 2.4 0.2 0.5 0.2 0.3 0.2 0.2 0.4 0.2 0.3-0.2 1.9 0.5 1 0.3 1.9 0.7 0.9 0.3 1 0.1 0.9 0 3.8 1.1 1 0.1 0.9 0.4 1 0.4 1 0.4 0.9 0 1.9 0.2 1-0.1 0.9-0.6 0.9-2.6 0.9-2.4 0.9-2 1-0.9 0.9-0.7 1-0.1 0.9 0.5 1 1.7 1.1 2.8 1 4 1 2.4 1 0.8 1 0.6 1 0.8 0.9 0.2 3 1.1 0.9 0.7 1 0.1 1 0.6 1 0.3 1 0.7 0.9 0.5 2 0.8 1 0.4 1 0.6 1 0.3 0.9 0.1 2.2 0.6 0.6-0.5 0.6-1.2 0.5-1.4 0.6-2.6 0.6-2.9 0.5-3.4 1.1-10.7 3.3-39.1 0.6-5.1 1.7-13.3 0.6-3 0.6-1.6 0.6-1.1 1.9-0.7 0.4-0.1 1.5 0 4.3 0.4 1.5 0.4 1.4 0.2 3 0.6 1.4 0.5 3 1.1 2.9 1.9 2.9 2.1 3 2.4 1.4 1.4 3 3.4 2.9 3.7 1.5 1.9 1.4 2 3 4.6 1.4 2.2 1.5 2.5 4.3 8.3 3.8 4.8 0 0" stroke="#7201a8"/>
<path d="M331.1 161.1l-0.1-12.9 0.1-4.1 0.2 0.3 0-4.9 0.2 0.4 0.5 4.8 0.2 0.6 0.2-1.3 0.2-0.2 0.2 2 0.2 0.1 0.1-3.3 0.1-1.5 0.3 2 0.2 0.8 0.1-2.7 0.4 5.8 0.1-2.2 0.2 0.7 0.2 0.4 0.2 1 0.1-4.2 0.2 1 0.3 2.5 0.1-2.2 0.3 5.1 0.8 5.3 0.4 2.3 0.2 0.6 0.2 0.3 0.2 0.2 0.8 0.5 0.9 0 1 0.4 0.9 0.1 1-0.1 0.9 0.2 1 0.2 0.9 0.5 1 0.3 0.9 0.4 1 0.2 2.8 0.3 1.9 0.6 1 0.2 1.9 0.6 1 0.3 0.9-0.4 0.9-0.8 1.8-4.8 0.9-1.7 1-1.2 0.9-0.7 1-0.2 1 0.5 1 1.4 1 2.9 1 4 1 2.7 1 0.9 1 0.4 1 0.8 1 0.2 0.9 0.5 1 0.2 2.9 1.4 1 0.5 1 0.4 1 0.4 0.9 0.4 1 0.3 3 1.2 1 0.6 0.9 0.6 1.6 0.1 0.6-0.1 0.6-0.4 0.6-1.1 0.5-1.5 0.6-2.1 0.6-2.7 0.5-3.4 1.1-11.4 1.6-20.5 1.2-13.5 0.5-5.7 1.2-9.5 0.6-4.8 0.6-3.8 0.6-2.7 0.6-1.8 0.6-1.1 1.2-0.6 1-0.2 5.9 0.4 5.8 1.2 4.4 1.3 2.9 1.3 3 1.4 2.9 1.7 3 2.2 2.9 2.4 1.5 1.3 2.9 2.4 1.5 1.5 4.4 5 4.4 5.9 1.5 1.1 1.5 0.8 0.8 0.5 0 0" stroke="#7801a8"/>
<path d="M332.3 160.2l0.1-13.8 0.2 1.7 0-4.8 0.5 2.4 0.2 1.4 0-5.1 0.4 4.8 0.1-2.3 0.3 4.3 0-5 0.3 1 0.3 3.5 0.1-2 0.3 2.6 0.1-1.5 0.3 2.2 0-3.1 0.2-1.7 0.3 3.8 0.2-0.5 0.1-1.4 0.3 4.7 0.1-3.6 0.3 2.7 0.2 0.2 0.9 5.3 0.2 0.8 0.4 0.8 0.2 0.1 0.4 0.2 0.4 0.1 0.9 0.2 1 0.5 0.9 0.1 0.9 0.2 1 0 0.9 0.3 1 0 0.9 0.3 1 0.3 2.8 0.4 1 0.6 0.9 0.4 1 0.1 0.9 0.2 1 0.1 0.9 0.3 1-0.1 0.9-0.1 1-0.4 1.8-3.6 0.9-1.2 1-0.8 0.9-0.6 1-0.3 1 0.1 0.9 1 1 2.1 1.1 3 1 2.2 1 0.8 0.9 0.6 1 0.4 1 0.6 3.9 2 1 0.4 0.9 0.2 1 0.6 2 1 0.9 0.4 1 0.3 1 0.4 1 0.3 1 0.4 0.9 0.3 1 0.2 0.6 0.3 0.6 0.2 0.6-0.7 1.1-2.2 0.6-1.5 0.6-2.6 0.6-3 1.1-10.7 1-12.9 1.7-20.4 0.6-6.3 0.5-5.5 1.8-14.1 0.6-3.2 0.6-1.6 0.6-1.1 1.3-0.7 1-0.3 1.4 0 5.8 0.8 4.4 0.9 1.5 0.4 1.4 0.5 1.5 0.7 2.9 2 1.5 1 1.5 1.2 2.9 2.5 1.5 1.6 1.4 1.7 4.4 5.7 2.9 4 1.5 2.3 2.9 5 1.5 2.7 2.8 5.8 1.5 2.9 1.4 2.1 1.5 1.7 0.8 1.2 0 0" stroke="#8004a8"/>
<path d="M333.4 159.2l0.1-13.5 0.1-3 0.3 2.9 0-4.6 0.6 6 0.2 0 0.2-0.1 0.2 2.1 0.2-6.6 0.2 2.3 0.2-1.7 0.3 4.1 0.2 0.6 0.2-0.8 0.2 1.2 0-6.3 0.3 5.1 0.1-2.8 0.5 3.7 0.1-3.3 0.5 3.3 0.2 2.3 0.7 4.3 0.5 2 0.2 0.4 0.2 0.3 0.2 0.1 0.7 0.5 1 0.3 0.9-0.2 1 0.4 2.8 1 0.9 0.2 1 0.1 0.9 0 3.8 0.8 1 0.5 0.9 0.2 1 0.4 0.9 0.1 1 0.2 1.9-0.3 0.9-0.4 0.9-1.9 1-1.7 0.9-1.2 1.9-1.6 0.9-0.2 1 0.3 1 1.2 1 2.4 1 3.3 1 2.3 1 0.6 1 0.8 0.9 0.3 1 0.4 1 0.4 1 0.7 0.9 0.6 1 0.5 2 0.6 1.9 0.9 1 0.2 1 0.4 0.9 0.1 1 0.6 1 0.2 1 0.7 1.9 0.4 0.6 0 0.6 0.3 0.6-0.3 0.6-1 0.6-1.5 0.5-2 0.6-2.3 0.6-3.1 1.1-10.1 1.1-12.3 1.7-19.3 0.5-6 1.2-10.1 0.6-4.8 0.6-4 0.6-3.1 0.6-1.6 0.6-0.9 1.2-0.6 0.6-0.3 0.4 0 1.5 0 1.4 0.2 2.9 0.4 2.9 0.5 1.5 0.4 1.4 0.2 1.5 0.4 1.5 0.4 2.9 1.2 1.4 0.8 1.5 0.6 2.9 1.7 1.5 1 1.5 1.1 5.8 5 3 2.7 2.9 3.3 2.9 3.4 4.4 6.3 1.5 1.2 1.4 0.8 0.9 0.7 0 0" stroke="#8606a6"/>
<path d="M334.6 158.2l0.1-13.8 0-4.7 0.3 3.2 0.2 1.2 0.2-0.3 0.3 4.3 0-5.6 0.2 0.9 0.2 0 0.3 2.6 0.2 0 0.2 1.4 0.1-3.1 0-6.1 0.3 5.4 0.1-3.5 0.4 6.4 0.3-3.8 0.1-0.3 0.4 6.6 0.2-5.8 0.2-0.9 0.4 6.6 0.2-0.2 0.9 5.4 0.2 0.9 0.2 0.5 0.2 0.2 0.2 0.2 0.4 0.2 0.3-0.1 3.8 1.1 1 0.3 0.9 0 0.9 0.1 1 0.3 0.9 0.4 1 0.3 1 0.5 0.9 0.1 1 0.2 0.9 0.1 2.9 0.8 0.9 0.1 1 0 0.9-0.1 0.9-0.6 1.9-3.7 0.9-1.2 0.9-0.9 1-0.8 0.9 0.3 1 0.3 1 1.3 1 1.9 1 3.1 1 2 1 0.8 1 0.9 1 0.6 0.9 0.5 1 0.2 1 0.4 0.9 0.2 1 0.4 2 1.3 0.9 0.5 1 0.4 1 0.2 1.9 0.6 1 0.6 3 1 0.9 0.2 0.6-0.1 0.6 0.4 0.6-0.3 0.6-0.7 0.6-1.4 0.5-2.1 0.6-2.4 0.6-3.4 1.1-10.3 0.5-5.8 2.3-26 0.5-5.9 0.6-5.3 1.8-13.5 0.6-3.2 0.6-1.6 0.6-1 0.6-0.1 1.3-0.4 0.4-0.2 1.4 0 5.8 0.7 5.8 1.3 1.5 0.5 1.4 0.6 1.5 0.9 2.9 2.1 2.9 2.3 1.5 1.2 1.5 1.6 4.3 5 1.5 1.8 1.5 1.8 1.4 1.9 1.5 2.2 4.3 7.2 2.9 5.4 1.4 2.8 1.5 1.9 1.4 1.7 0.9 1.2 0 0" stroke="#8b0aa5"/>
<path d="M335.7 157.3l0-15.7 0.3 2.2 0.1-2.9 0.3-1.2 0.3 2.4 0.1-0.7 0.3 2.1 0.2-0.2 0.2-4.3 0.4 5.2 0-5.1 0.3 3 0.2 1.4 0.1-3.4 0.3 2.4 0.1-1 0.2 1 0.4 0.2 0.1-1.5 0.3 3.1 0.1-3.9 0.3 2.4 0.3 3.6 0.9 6.3 0.2 1 0.2 0.5 0.2 0.3 0.2 0.2 0.8 0.4 0.9 0.4 1 0.1 0.9 0.3 0.9 0.1 1 0.2 0.9 0 1.9 0.5 1.9 0.1 1 0.2 0.9 0.5 1.9 0.7 1 0 0.9 0.3 1.9 0.3 1.9-0.4 1-0.5 0.9-1.9 0.9-2.3 0.9-1.7 0.9-1.1 1-0.5 0.9-0.1 1 0.4 1 1.2 1 2.4 1 3.6 1 2.4 1 0.9 1 0.8 1 0.7 0.9 0.2 1 0.2 1 0.5 0.9 0.6 1 0.4 1 0.2 1 0.6 0.9 0.3 1 0.8 2.9 1.3 1 0.3 1 0.6 1 0.3 1 0.4 0.9 0.1 0.6 0.2 0.6 0 0.6-0.4 0.6-1 0.5-1.3 0.6-2.2 0.6-2.7 0.6-3.8 1.1-11.7 3.3-39.2 0.6-5.1 1.2-9.4 0.6-3.9 0.6-2.7 0.6-1.7 0.6-1 1.3-0.5 1-0.5 1.4 0 5.8 0.8 4.4 0.9 1.5 0.4 1.4 0.4 1.5 0.7 2.9 1.8 1.5 1 1.4 1 2.9 2.5 1.5 1.4 5.8 6.7 1.5 1.8 1.5 2 4.3 6.6 1.5 2.3 4.3 8.2 1.4 1.8 1.5 1.6 0.8 1.2 0 0" stroke="#920fa3"/>
<path d="M336.9 156.3l0-16 0.2 0.1 0.1-0.5 0.2-0.1 0.1-2.5 0.2 0.7 0.2 0.3 0.1-2.9 0.3 3.3 0.2 1 0.2-1.3 0.2 0.3 0.3 5.1 0.2-1.3 0-3.9 0.2-0.1 0.3 2.6 0.2 0.5 0.2 2.1 0.1-3.1 0.2-0.3 0.2-0.6 0.2 2.4 0.3 1.1 0.1-1.9 0.3 3.7 0.9 6 0.2 0.9 0.2 0.5 0.2 0.4 0.2 0.1 0.4 0.2 0.4-0.2 1.9 0.7 1.8 0.4 2.9 0.7 0.9 0.2 1 0.4 1.9 0.5 1.9-0.1 0.9 0.2 1.9 0.9 1 0.2 0.9 0.2 1 0 0.9-0.1 1-0.7 0.9-2.2 0.9-2 0.9-1.5 1.9-2 0.9-0.4 1 0.1 1 1.4 1 2.2 1 3.4 1 2.1 1 1.1 1 0.7 0.9 1.1 1 0.3 1 0.6 1 0.3 0.9 0.6 1 0.4 1 0.7 0.9 0.2 1 0.4 1 0.3 1 0.5 0.9 0.3 1 0.3 1 0.6 1 0.7 1.9 0.8 1-0.1 0.6 0.1 0.6 0 0.6-0.2 0.6-0.9 0.5-1.2 0.6-2 0.6-2.7 0.6-3.1 1.1-10.7 2.8-31.5 0.6-5.6 0.6-4.7 1.1-8.5 0.6-3.2 0.6-2.4 0.7-1.5 0.6-1.1 1.2-0.4 1-0.4 1.5 0 2.8 0.3 1.5 0.2 2.9 0.6 1.4 0.4 1.5 0.3 1.5 0.3 1.4 0.3 1.5 0.5 4.3 2 1.5 0.8 4.4 2.7 2.9 2.3 4.4 3.8 1.5 1.2 2.9 3.1 2.9 3.3 2.9 3.8 1.4 2 1.5 1.1 1.5 0.9 0.8 0.6 0 0" stroke="#9814a0"/>
<path d="M338 155.4l0.1-14.1 0-4 0.4 4.8 0.1-1.2 0.2 0.2 0.3 2.3 0-5.2 0.5 5.4 0.2-1.3 0.2 0.4 0-4.6 0.3 1.7 0.1-1.1 0.3 2.3 0.1-0.5 0.3 3.1 0.1-3.4 0.3 2.4 0.1-1.7 0.2 1.4 0.3 2.2 0-5.6 0.3 4.8 0.1-4.2 0.4 6.2 0.9 5.5 0.2 0.8 0.2 0.5 0.2 0.3 0.2 0.1 0.4 0.2 0.4 0.3 0.9 0.2 0.9 0.1 1.9 0.6 2.8 0.8 1.9 0.4 1-0.2 0.9 0.3 1 0.1 0.9 0.4 1 0.3 1.9 0.4 0.9 0.1 1.9 0.5 1-0.1 0.9-0.4 1.8-4.1 1-1.3 1.8-1.3 1-0.4 1 0.2 0.9 1.3 1 2.4 1.1 3 1 2.1 0.9 0.9 1 1 1 0.5 1.9 0.6 1 0.6 4.8 2 1 0.3 1 0.6 1 0.2 0.9 0.4 3 1.4 0.9 0.1 1 0.3 0.6 0 0.6 0.5 0.6-0.6 0.6-0.7 0.5-1.4 0.6-2.2 0.6-2.6 0.6-3.3 1.1-10.6 1.1-12.6 1.7-20.2 0.6-6.1 0.6-5.5 1.8-14.2 0.6-3.3 0.6-1.7 0.6-1.1 1.8-0.7 0.4-0.1 1.5 0 2.9 0.4 1.4 0.1 1.5 0.2 2.9 0.5 1.4 0.4 1.5 0.3 1.4 0.3 1.5 0.5 2.9 1.6 5.9 3.3 1.4 1.2 4.4 4 2.9 2.8 1.5 1.4 2.9 3.4 2.9 3.5 2.9 4.3 1.5 2.3 1.4 1.2 1.5 0.9 0.8 0.7 0 0" stroke="#9d189d"/>
<path d="M339.1 154.4l0.1-14.1 0.2 0.2 0.2 1.2 0.2-0.1 0.1-4 0.3 3.1 0.2 0.4 0.1-0.2 0.3 1.4 0.1-1.1 0.2 0.8 0-5.6 0.2 0.9 0.3 2.9 0.1-2.4 0.3 1.2 0.2 2 0.2-0.2 0.2 0.4 0.1-4 0.2 1.7 0.3 3.1 0.2 1.5 0.2 0.5 0.2-0.9 0.9 6 0.4 1.9 0.4 0.8 0.2 0.1 0.4 0.2 0.4-0.1 0.9 0 0.9 0.5 1.9 0.8 1 0.1 0.9 0.4 2.8 0.3 1 0.2 0.9 0.3 1.9 0.2 1 0.2 0.9 0.3 1 0.4 1.9 0.5 1.9-0.4 0.9-0.5 1.8-3.4 1-1 0.9-0.7 1-0.9 0.9-0.5 1 0.1 1 1.2 0.9 1.9 1 2.7 1 1.7 1 0.8 1 1 1 0.9 0.9 0.7 1 0.2 1 0.4 0.9 0.3 2 1 1.9 0.6 1 0.5 1 0.6 1 0.8 0.9 0.3 1 0.5 1 0.2 1 0.8 0.9 0.1 1 0.2 0.6-0.2 0.6 0.3 0.6-0.2 0.5-0.9 0.6-1.2 0.6-2.2 0.6-2.5 0.5-3.1 1.2-10.6 1.1-12.5 2.3-25.8 0.6-5.3 1.8-12.8 0.6-2.8 0.6-1.7 0.6-1 1.9-0.7 0.4-0.1 1.4 0 2.9 0.5 1.4 0.1 2.9 0.5 1.5 0.3 2.9 0.6 1.4 0.3 1.5 0.5 2.9 1.4 1.5 0.7 4.3 2.4 1.5 1.1 2.9 2.4 5.9 5 4.3 4.8 1.5 1.7 4.3 6 1.5 1 2.3 1.4 0 0" stroke="#a31e9a"/>
<path d="M340.2 153.5l0.2-13.5 0.1-1 0.2-0.5 0.1-1.7 0.3 3.6 0.3-2.4 0.3 2.4 0.2-0.2 0.2 0.2 0.2 2.3 0.1-4.1 0.2 0.4 0.2 0.9 0.2 2.1 0.1-2.6 0.2 0.5 0.5 3.8 0.1-4 0.2 1.1 0.2-1.5 0.6 7.9 0-5 0.2 1.9 0.9 5 0.4 1.1 0.2 0.4 0.2 0.1 0.4 0.2 0.4 0 0.9 0.3 1 0.2 0.9 0.4 0.9-0.2 1 0.3 0.9 0.1 1 0.6 0.9 0.2 1 0.3 0.9 0.1 1 0.2 0.9 0.1 0.9 0.5 1 0.1 0.9-0.1 4.8 0.6 0.9-0.3 0.9-1.5 1-1.7 0.9-1.2 0.9-0.9 1-0.7 0.9-0.1 1-0.1 1 0.8 0.9 1.5 1 2.7 1 1.9 1 1.1 1 0.8 1 0.7 0.9 0.1 1 0.3 1 0.8 1.9 1.2 1 0.1 1.9 0.7 1 0.8 1 0.6 0.9 0.5 1 0.3 1 0.5 1 0.1 0.9 0.7 2 0.7 0.6 0 0.6 0 0.6-0.5 1.1-2.2 0.6-1.5 0.6-2.3 0.5-2.8 1.2-10.6 2.2-26 1.2-13.3 0.6-5.5 1.8-14.1 0.6-3.1 0.6-1.6 0.6-1.1 2.3-0.8 1.4-0.1 2.9 0.4 8.7 1.6 2.9 1 1.5 0.6 1.4 0.8 5.9 3.8 1.4 1.1 5.8 5.6 3 2.9 1.4 1.8 4.4 5.8 1.4 2.2 2.9 4.7 1.4 1.4 1.5 1 0.8 0.8 0 0" stroke="#a82296"/>
<path d="M341.4 152.5l0-16.2 0.1-3.2 0.3 4.1 0.1-3 0.2-0.5 0.3 3.7 0.1-1.2 0.1-2.4 0.2 0.4 0.5 4.5 0.2-0.7 0.1-2.8 0.3 2.7 0-4.7 0.9 10.6 0-7.1 0.1-1.2 0.3 2.1 0.2 0.2 0.2 1.2 0.2 0.6 0.2 2.2 0.2-0.8 0.9 6.2 0.2 0.8 0.4 0.9 0.2 0.2 0.8 0.4 0.9 0 1 0.2 0.9 0.2 0.9 0 1 0.4 0.9 0 1 0.4 0.9 0 1.9 0.2 0.9 0.3 1.9 0.6 1 0.3 0.9 0.1 1 0.2 1.9 0.3 0.9-0.2 1-0.1 0.9-0.3 0.9-1.7 0.9-2 1-1.6 0.9-1.3 0.9-1 1-0.5 0.9 0.3 1 1.1 1 2 1 2.8 1 2.1 1 1 1 0.7 0.9 1.2 1 0.4 1 0.6 0.9 0.2 1 0.4 1 0.4 1 0.6 0.9 0.6 4.9 2.2 1.9 1.3 1 0.5 1 0.2 1 0 0.6 0.2 0.5 0 0.6-0.5 0.6-1.2 0.6-0.9 0.6-1.9 0.5-2.6 0.6-3.3 1.1-11.3 1.2-13.6 1.1-13.8 1.2-12.5 0.6-4.9 1.2-8.6 0.6-3.4 0.6-2.4 0.6-1.7 0.6-1.2 0.7-0.3 0.6-0.1 1-0.3 1.4-0.1 5.8 0.6 1.5 0.4 4.3 0.9 2.9 1.1 2.9 1.7 2.9 2.1 2.9 2.5 1.5 1.4 5.8 6.8 2.9 3.7 2.9 4.4 1.4 2.3 1.5 2.4 4.2 8.3 1.5 1.8 1.4 1.5 0.9 1 0 0" stroke="#ad2793"/>
<path d="M342.5 151.6l0.1-13.6 0.2-0.4 0.2 0.8 0.1-3 0.2 0.3 0.1-1.7 0.4 5.6 0-6.8 0.3 5.3 0.2 0.1 0.2-0.5 0.1-0.8 0.3 2 0.2-0.2 0.2 0.3 0-3.9 0.4 6.5 0.2-0.9 0.1-1.6 0.2 0 0.3 2.5 0.1-1 0.2-0.4 0.1-2 0.7 5.2 0.5 2.8 0.2 1 0.4 1.1 0.2 0.3 0.2 0.2 0.7 0.4 1 0.3 0.9-0.1 1.9 0.5 0.9 0.3 1.9 0.1 0.9 0.2 1 0.5 0.9 0.1 1 0.3 0.9-0.1 1.9 0.6 1 0.2 0.9 0.3 1 0.2 0.9 0.4 1 0 0.9-0.2 0.9-0.5 1-1.6 0.9-1.3 0.9-1 0.9-1.2 1-0.9 0.9-0.2 1 0.1 1 0.8 1 1.4 0.9 2.2 1 2 1 1.1 1 1 1 0.6 0.9 0.3 2.9 1.4 1 0.3 1 0.6 1.9 1.2 1 0.1 0.9 0.6 1 0.5 1 0.6 1 0.4 1.9 0.6 2 0.3 0.5 0.2 0.6 0.3 0.6-0.1 0.6-0.8 0.6-1.1 0.6-1.8 0.5-2.3 0.6-2.7 1.1-10.4 1.8-18.6 1.1-12.5 0.6-5.9 0.6-4.9 1.2-9.1 0.6-3.6 0.6-2.6 0.6-1.5 0.7-1 2.2-0.8 1.4 0.1 2.9 0.3 1.5 0.2 1.4 0.2 5.8 1.2 1.4 0.4 1.5 0.6 1.4 0.9 1.5 0.8 2.9 1.9 2.9 2.1 1.4 1.3 2.9 2.9 1.5 1.5 4.3 4.9 2.9 3.9 2.9 4.1 4.3 7.4 1.4 1.5 1.5 1.4 0.8 0.8 0 0" stroke="#b32c8e"/>
<path d="M343.6 150.6l0.1-13.7 0.3 0.6 0.1-1 0.1-4.3 0.2 1.6 0.2 2.2 0.2 0.4 0.1-3.5 0.3 1.4 0.1-0.3 0.4 5.9 0-4.6 0.2-0.5 0.2 1.2 0.2-0.2 0.3 4.4 0.1-2.9 0.4 5.8 0-7.3 0.2 2.9 0.3-3.1 0.2 0.1 0.3 3 0.1-0.5 0.3 2.9 0.9 5.2 0.2 0.8 0.2 0.5 0.2 0.3 0.2 0.1 0.4 0.2 0.4 0 0.9 0.4 0.9 0.3 1 0.1 3.7 0.6 1-0.1 0.9 0.3 0.9 0.2 1 0.6 0.9 0.2 1 0.3 0.9 0.1 1 0.3 0.9 0.1 1 0.2 0.9 0.3 1.9 0.1 0.9-0.6 1-1.6 0.9-1.8 0.9-1.2 1.9-1.7 0.9-0.3 1 0.3 1 1.2 1 2 1 2.5 1 2 1.9 1.8 1 0.7 1.9 0.9 1.9 0.5 2.9 1.7 3.9 1.8 1 0.2 1 0.4 0.9 0.4 1 0.5 1 0.1 0.9 0 1.2 0.3 0.6-0.2 1.2-2.1 0.5-1.8 0.6-2.4 0.6-3 1.1-10.4 1.8-18.4 1.7-19.1 1.2-9.7 0.6-4.8 0.6-4.1 0.6-3 0.7-1.7 0.6-0.9 0.6-0.3 0.6-0.1 1-0.5 1.5 0.1 2.8 0.3 1.5 0 5.7 1.3 2.9 0.8 1.5 0.5 2.9 1.3 2.9 1.6 2.9 1.8 2.9 2.3 1.5 1.2 2.9 2.8 2.9 2.8 1.4 1.6 1.5 1.7 1.4 1.6 1.4 1.8 1.5 2.1 2.9 4.4 1.4 1.2 1.5 0.8 0.8 0.7 0 0" stroke="#b7318a"/>
<path d="M344.7 149.7l0.2-13.4 0.1-1.2 0.2-0.7 0.1-1.5 0.4 6.2 0.1-3.5 0.2 0.3 0.3 3.8 0.1-3.3 0.2 0.3 0.2 1.5 0.1-1.7 0.3 1.7 0.1-0.5 0.1-2.7 0.3 3.6 0.3 1.1 0-4.4 0.2-0.3 0.7 6.7 0.2-5.7 0.3 3.5 0.5 2.3 0.4 2.8 0.2 1 0.4 1.1 0.2 0.4 0.2 0.1 0.8 0.4 0.9 0.2 0.9 0 1.9 0.5 1 0.4 0.9 0.2 1.9 0.1 0.9 0.1 1 0.4 0.9 0.1 0.9 0.3 1 0.2 0.9 0.3 1 0 0.9 0.4 1 0 0.9 0.2 1-0.3 0.9 0 0.9-0.2 1-1.4 0.9-1.5 0.9-1.5 1.9-1.7 0.9-0.3 1 0.1 1 1 1 1.6 1 2.6 0.9 1.8 2 1.6 0.9 1 1 0.5 1 0.3 0.9 0.6 1 0.4 1 0.3 1.9 0.9 1 0.4 0.9 0.4 3.9 2.2 1 0.5 1 0.4 1 0.1 0.9 0 0.6 0.2 0.6 0.5 0.6-0.4 0.6-0.9 0.5-1.2 0.6-1.9 0.6-2.4 0.6-2.9 1.1-9.9 1.8-18.6 1.1-12.4 0.6-5.9 1.2-9.1 0.6-4.5 0.6-3.4 0.6-2.5 0.7-1.6 0.6-1 1.2-0.5 1-0.4 1.4 0.1 4.4 0.5 4.3 0.9 1.4 0.2 1.5 0.4 1.4 0.5 1.5 0.6 2.8 1.9 1.5 1 1.4 1.1 2.9 2.4 1.5 1.4 1.4 1.5 2.9 3.3 2.9 3.6 1.4 1.9 5.7 8.7 2.9 5.2 1.4 2.7 1.4 1.9 1.5 1.6 0.8 1.1 0 0" stroke="#bc3587"/>
<path d="M345.8 148.7l0.2-13 0.2-0.5 0.1-3.1 0.2 0.1 0.1-1.6 0.3 5.2 0.3 1.8 0.1-3.2 0.2 1.8 0.2-1.4 0.2 2.4 0.1-3 0.2-0.7 0.2 0.6 0.2-0.1 0.2 0.6 0.2 1.5 0.3 4 0.2-4.4 0.2-1.1 0.3 5.8 0-7.7 0.3 4.5 0.2-1.2 0.3 3.7 0.8 5 0.3 0.6 0.3 0.8 0.2 0.1 0.4 0.2 0.4 0.6 0.9 0.1 1.9-0.2 0.9 0.3 1.9 0.8 0.9 0 1.9 0.3 1 0.4 1.9 0.7 1.8 0.1 1 0.2 0.9 0.3 1.9 0.4 1 0 0.9-0.2 1-0.4 0.9-1.3 0.9-1.5 0.9-1.4 1-0.9 0.9-0.8 1-0.2 0.9-0.1 1 1.2 1 1.8 1 2.6 0.9 1.6 1 0.7 1 0.9 0.9 0.7 1 0.5 1.9 0.7 3.9 1.8 1 0.6 0.9 0.4 1 0.5 2.9 0.9 2.9 1.3 1 0.2 0.6 0.2 0.6 0 0.5-0.4 0.6-0.5 0.6-0.9 0.6-1.8 1.1-5.2 1.2-9.8 3.5-36.6 0.6-5.1 1.2-9 0.6-3.7 0.7-2.7 0.6-1.7 0.6-1 1.2-0.3 1-0.4 1.5 0 1.4 0.4 7.2 1 1.4 0.3 1.5 0.3 1.4 0.5 1.4 0.6 1.5 0.8 1.4 0.9 2.9 2.1 2.9 2.1 1.5 1.4 4.3 4.6 2.9 3.4 1.4 1.7 2.9 4.1 1.4 2.2 1.4 2.1 2.9 4.9 1.4 2.6 1.4 1.6 1.5 1.4 0.8 1 0 0" stroke="#c13b82"/>
<path d="M347 147.8l0-16.1 0.3-4.9 0.2 0.6 0.2 1.4 0.3 4.3 0.1-2 0.3 3.2 0.2-7 0.2 2.4 0.2 0.5 0.3 0.9 0.2 1.6 0-5.5 0.3 1.8 0.2 3.8 0.2 0 0.2 0.6 0.1-3.2 0.3 2.7 0.2 0.6 0-5.5 0.4 6.1 0.1-1.8 0.3 4.2 0.9 6.1 0.2 0.9 0.4 0.8 0.2 0.2 0.8 0.5 1.8 0.4 1.9 0.2 1 0.3 0.9 0 1.9 0.3 0.9 0.4 1 0.3 1.8 0.1 1 0.2 1.9 0.7 0.9 0.2 1 0.1 0.9 0.2 0.9-0.1 1-0.2 0.9-0.6 1.8-4.2 1-1.6 0.9-1.2 0.9-0.9 1-0.4 1 0.1 0.9 1.3 1 2.3 1 3.3 1 2.1 1 0.8 1.9 1.7 1 0.6 3.8 1.8 1 0.4 1 0.7 0.9 0.4 1 0.4 1 0.2 0.9 0.5 1 0.7 1 0.5 1.9 0.9 1 0.3 2.1 0.1 0.6-0.4 1.2-2.2 0.6-2 0.5-2.5 0.6-3.2 1.8-17 2.3-25.1 0.6-5.5 0.6-4.6 1.2-7.9 0.6-2.9 0.7-2 0.6-1.6 0.6-1 1.8-0.5 0.4-0.2 1.5 0.1 4.3 0.5 1.4 0.2 1.4 0.4 1.5 0.2 2.9 0.7 2.8 1.2 1.5 0.8 1.4 0.9 1.5 0.9 4.3 3.4 1.4 1.4 2.9 3.1 2.9 3.4 2.9 3.6 4.2 6.4 1.5 2.2 4.2 8.1 1.4 1.7 2.3 2.5 0 0" stroke="#c5407e"/>
<path d="M348.1 146.8l0-3.8 0.1-9.6 0.1-4.4 0.3 4.2 0.2 0.2 0.1-3.8 0.2 2 0.1-1.7 0.3 1.5 0.2 1.1 0.2 0.2 0.2 0.8 0.1-1.3 0.5 2.6 0-4.6 0.3 4.1 0.2-2 0.3 4.3 0.1-2.1 0.4 1.4 0.3-3.4 0.2 2.5 0.2-1.8 0.3 4.3 0.9 5.2 0.4 1.1 0.2 0.4 0.2 0.1 0.3 0.2 0.4 0.3 0.9 0.2 1 0.4 0.9-0.2 1.9 0.1 0.9 0.2 1 0.6 0.9 0 0.9 0.2 1-0.1 0.9 0.4 0.9 0.2 1 0.5 0.9 0.1 1 0.3 0.9-0.1 1 0.1 1.9 0.4 0.9 0.1 0.9-0.4 1.9-3.1 0.9-1.1 0.9-1 1-0.8 0.9-0.6 1 0.1 1 0.8 0.9 1.3 1 2.2 1 1.8 1 0.9 0.9 0.8 1 0.9 1 0.6 0.9 0.7 1 0.3 1 0.6 0.9 0.2 1 0.6 0.9 0.4 2 1.1 0.9 0.3 1 0.6 1 0.4 1 0.6 0.9 0.3 2 0.5 0.9 0.1 1.2 0.4 0.6-0.3 0.6-0.9 0.6-1 0.5-1.7 0.6-2.2 0.6-2.8 0.6-5.2 1.1-12.1 3-32.7 0.6-5.5 1.2-9.4 0.6-3.7 0.7-2.6 0.6-1.7 0.6-1.1 0.6-0.3 1.6-0.5 1.5 0 4.3 0.4 1.4 0.3 2.9 0.7 4.3 0.8 1.5 0.4 8.7 4.4 1.4 1.1 4.4 3.5 4.3 3.9 1.4 1.5 4.4 4.9 2.8 3.9 1.5 2 1.4 1.1 1.5 0.7 0.8 0.6 0 0" stroke="#c9447a"/>
<path d="M349.2 145.9l0-4.3 0.1-11 0.1-4.1 0.1-1 0.7 9.4 0.1-2 0.1-4 0.1-0.6 0.3 2.5 0.2 0.3 0.3-2.8 0.2 2.6 0.2 0.8 0.2-2 0.2-0.2 0.2 0.6 0.2 3.2 0.1-4.7 0.2 2.8 0.3 1.7 0.1-2.1 0.3 2.3 0.1-2 0.2 0.5 0.3 3.3 0.9 5.9 0.4 1.3 0.2 0.4 0.1 0.1 0.8 0.5 0.9 0.1 2.8 0.6 1-0.1 1.8 0.1 1 0.5 0.9 0.2 1 0.5 0.9 0 0.9 0.2 1 0 2.8 0.4 0.9 0.4 1 0 0.9 0 1-0.3 0.9-0.2 1.8-3.5 1-1.6 0.9-1.2 0.9-1.5 1-0.6 0.9 0 1 1.1 1 1.8 1 2.7 1 2.3 0.9 1.3 1 0.8 1 1 0.9 0.1 1 0.7 1 0.3 0.9 1 1 0.5 1 0.4 0.9 0.2 1 0.3 1.9 1 1 0.2 1 0.6 0.9 0.6 1 0.6 1 0.4 3.1 0.4 0.6-0.3 0.5-0.8 0.6-1 0.6-1.9 1.2-5.5 1.1-10.8 1.2-13.1 1.2-13 1.2-11.8 0.6-4.7 1.2-7.9 0.6-3 0.6-1.8 0.7-1.6 0.6-0.9 1.2-0.6 1-0.3 2.9 0.2 2.8 0.2 4.4 1 1.4 0.2 2.9 0.8 1.4 0.6 2.9 1.7 2.9 1.9 2.9 2.2 1.4 1.3 2.9 2.9 2.9 3.2 2.8 3.4 2.9 4 2.8 4.2 2.9 5.1 1.4 2.5 1.4 1.6 1.4 1.3 0.9 1 0 0" stroke="#cd4a76"/>
<path d="M350.3 145l0.1-16.7 0.1-2.2 0.3 3.5 0-4.4 0.2 0.1 0.3 1.6 0.3 5 0-6.3 0.2 1.2 0.2-0.9 0.4 7 0-3.5 0.2-1.7 0.2 2.3 0-7.3 0.4 8.6 0.1-4.1 0.3-2.4 0.3 2.4 0.2 0.5 0.2 2.7 0.2-0.6 0.3 5 0.3-1.9 0.9 6.1 0.4 1.3 0.2 0.4 0.2 0.2 0.4 0.2 0.4 0.4 2.8 0.5 0.9 0 0.9 0.3 1 0 0.9 0.5 1.9-0.1 0.9 0.1 1 0.2 0.9 0.2 0.9 0.2 1 0.1 0.9 0.2 1 0.1 0.9 0.5 1 0.2 0.9 0 1.9-0.7 1.8-4.1 0.9-1.7 1.9-2.1 1-0.5 0.9 0 1 1 1 1.9 1 2.9 0.9 2.2 2.9 3.1 1 0.6 1 0.5 0.9 0.2 2 0.8 1.9 1.1 0.9 0.5 2 0.8 1 0.5 2.9 1.8 1.9 0.4 1 0 0.6 0.3 0.5 0.1 0.6-0.4 0.6-0.9 0.6-1.1 0.6-1.9 1.1-5.6 1.2-11 3-32.5 0.6-5.9 0.6-4.8 1.2-8.2 0.6-3 0.6-2.1 0.7-1.7 0.6-1 1.2-0.4 1-0.4 1.4 0 2.9 0.3 1.4 0.2 5.8 1 2.9 0.9 1.4 0.6 2.9 1.8 4.3 3.2 1.5 1 1.4 1.3 1.4 1.6 5.8 6.7 1.4 1.8 2.9 4.2 2.8 4.5 2.8 5.2 1.4 2.6 1.5 1.8 1.4 1.5 0.8 1 0 0" stroke="#d14e72"/>
<path d="M351.4 144l0.3-16.4 0.2 1.4 0.2-0.7 0.2 2 0.3 3 0.2-4.8 0.3 4 0.1-4.2 0.2 2.6 0.2 0.4 0.3-3.5 0.2 2.2 0.2-1.6 0.3 5.1 0-6.6 0.3 3.3 0.1-2.3 0.2 1 0.3 2.3 0.1-3.8 0.3 5.8 0.1-1.5 0.3 2.5 0.9 5.2 0.4 1 0.2 0.4 0.1 0.2 0.4 0.2 0.4 0 1.9 0.4 0.9 0.4 1.9 0.4 0.9 0.1 1.9 0.4 0.9 0.2 0.9 0.4 1 0 0.9 0.1 1 0.1 0.9 0.3 2.8 0.4 1 0.4 0.9 0.1 1-0.3 0.9-0.5 0.9-1.8 1.9-2.6 0.9-0.7 0.9-0.8 1-0.3 0.9-0.1 1 0.7 1 1.4 1 2.2 0.9 1.9 2.9 2.7 1 0.5 3.8 1.7 1 0.4 1 0.6 0.9 0.4 1 0.6 1 0.5 0.9 0.7 2 0.8 1.9 0.1 1 0.1 0.9 0.4 0.6 0.6 0.6 0.1 0.6-0.3 0.6-1.2 0.5-0.8 0.6-1.7 0.6-2.2 0.6-2.7 1.2-10.2 1.2-12.6 1.2-13 1.2-12.3 0.6-5.1 1.2-8.8 0.6-3.3 0.6-2.4 0.6-1.6 0.7-1 0.6-0.2 0.6-0.2 0.6-0.1 0.4-0.2 1.4 0 1.5 0.1 2.8 0.3 2.9 0.5 1.4 0.3 1.5 0.3 1.4 0.3 1.4 0.5 1.5 0.6 1.4 0.8 2.9 1.9 2.9 2 1.4 1.1 1.4 1.4 2.9 3.1 4.3 5.1 1.4 1.7 2.9 4.2 2.8 4.3 2.8 5.1 1.5 2.6 1.4 1.8 1.4 1.4 0.8 1 0 0" stroke="#d5536f"/>
<path d="M352.5 143.1l0.1-3.8 0.1-8.9 0.1-2.3 0.2 1.2 0.2-1.2 0.3 3.4 0.1-2.7 0.3 5 0-6.1 0.3 4.4 0.1-3.2 0.2 1.2 0.2-2.8 0.3 5.7 0.2-4.3 0.2 0.3 0.3 3.9 0.1-3.5 0.2-1.3 0.3 4.4 0.1-3.5 0.3 5.2 0.1-1.7 0.1-5.1 0.3 5.8 0.7 3.7 0.4 2.3 0.4 1 0.2 0.3 0.2 0.2 0.3 0.1 0.4 0.1 1.9 0.4 1.8 0.4 1 0.3 0.9 0 0.9 0.3 1 0.2 0.9 0.4 1.9 0.3 0.9 0.1 1-0.1 0.9 0.1 0.9 0.4 1 0.4 0.9 0.3 1 0.3 1.8-0.4 1-0.4 0.9-1.2 1.9-2.3 0.9-0.8 0.9-1 1-0.6 0.9 0.2 1 0.8 1.9 3.4 1 1.8 1 0.7 0.9 0.9 1 0.8 1 0.5 2.8 1.2 1 0.3 1 0.7 0.9 0.5 1 0.7 1.9 0.9 1 0.2 1.9 1 1 0.7 1 0.4 0.9 0.3 1 0 0.6-0.3 0.6 0.2 0.5-0.2 0.6-0.6 0.6-1.2 0.6-1.6 1.2-4.9 1.1-10.4 1.2-12.5 1.8-19.6 0.6-6.5 0.7-5.4 1.2-9.5 0.6-3.9 0.6-2.9 0.6-1.7 0.7-1 2.2-0.8 1.4 0 1.5 0.2 1.4 0.1 2.8 0.5 1.5 0.3 1.4 0.3 1.5 0.3 2.8 0.7 1.5 0.5 1.4 0.6 2.9 1.5 4.3 2.6 1.5 1.2 1.4 1.3 1.4 1.4 5.8 5.4 1.4 1.6 1.5 1.6 2.8 3.6 2.9 4.4 1.4 2.2 1.4 1.3 1.5 1 0.8 0.8 0 0" stroke="#d9586a"/>
<path d="M353.6 142.2l0.1-4.1 0.1-9.6 0.1-3.4 0.2 2.9 0.1-2.7 0.3 3.4 0.2-1.7 0.5 5 0.1-2 0.2-0.7 0.1-1.2 0.2-0.1 0.2-1 0.2 3 0.2-1.3 0.2 1 0.1-2.9 0.2 1.4 0.2-1.2 0.3 5 0-4.5 0.3 2.6 0.1-2 0.3 3.9 0.2-1.4 0.2 2.2 0.9 5.2 0.4 1.1 0.2 0.4 0.2 0.1 0.3 0.2 0.4-0.3 0.9 0.3 0.9 0 1 0.5 0.9 0.1 1 0.6 0.9 0.1 1.9 0.3 1.8 0.6 1 0.1 0.9 0.4 1.9 0.6 0.9-0.3 1 0 1.8 0.5 1 0 1.9-0.5 2.7-4.2 1.9-2 1-0.4 0.9 0.1 1 0.8 0.9 1.7 1 2.3 1 2 1.9 1.6 1 0.9 0.9 0.4 1 0.5 1 0.3 0.9 0.5 1 0.5 0.9 0.6 1 0.3 1 0.6 1.9 0.7 1 0.2 0.9 0.4 1 0.7 1 0.5 0.9 0.4 2 0.5 0.5 0 0.6 0.3 0.6-0.2 0.6-0.8 0.6-1.1 0.5-1.8 0.6-2.5 0.6-2.8 1.2-10.1 1.2-12 1.8-18.4 0.6-5.8 0.6-4.8 1.3-8.4 0.6-3.3 0.6-2.2 0.6-1.6 0.6-0.9 0.6-0.2 0.6-0.1 0.6-0.2 0.5-0.3 1.4 0 1.4 0.2 1.4 0.3 1.5 0.1 8.6 1.8 1.4 0.5 1.4 0.6 2.9 1.5 4.3 2.4 1.5 1 8.6 7.4 4.3 4.7 1.4 1.7 4.2 6.1 1.5 1.1 1.4 0.9 0.9 0.6 0 0" stroke="#dc5d67"/>
<path d="M354.7 141.3l0.2-14.5 0.1-0.9 0.2-0.4 0.1-3.1 0.3 5.7 0.3-4.4 0.2-0.3 0.5 5 0.1-0.2 0.2-2.2 0.2 0.4 0.2 0.7 0.1-2.5 0.5 4.9 0.2-0.4 0.1 0.3 0.2-0.6 0.2-1.5 0.2 2 0.2 0 0.2-0.5 0.2 3.2 0.2-0.9 0.8 5.2 0.4 1.2 0.2 0.3 0.2 0.2 0.4 0.2 0.4 0.3 0.9 0.1 0.9 0 1.9 0.6 0.9 0.3 1 0 1.8 0.2 1 0.3 0.9 0.1 0.9 0.2 1-0.1 0.9 0.3 0.9 0.1 1 0.5 0.9 0.2 1 0.2 0.9-0.1 1.9-0.1 0.9-0.1 1-1.4 0.9-1.5 0.9-1.3 0.9-1.1 1-0.9 0.9-0.7 1-0.1 0.9 0.6 1 1.7 2 4.7 1.9 2.1 0.9 0.8 1 0.3 1.9 0.6 1.9 0.9 1 0.1 1 0.6 0.9 0.3 1 0.8 1.9 0.9 1 0.3 0.9 0.5 1 0.6 1 0.5 3.1 0.8 0.6-0.4 1.1-1.9 0.6-1.7 0.6-2.5 0.6-2.9 1.2-10 1.2-12.6 1.2-12.9 1.2-12.2 0.6-4.8 1.3-8.7 0.6-3.5 0.6-2.4 0.6-1.6 0.6-1 1.2-0.2 1.1-0.4 1.4-0.1 5.7 0.8 4.3 0.8 1.4 0.3 1.5 0.4 1.4 0.5 4.3 2.3 4.3 2.8 1.5 1 2.8 2.5 2.9 2.6 2.9 2.9 5.7 7 4.2 6.4 1.4 1.2 1.5 1 0.8 0.8 0 0" stroke="#df6263"/>
<path d="M355.8 140.3l0.1-3.6 0.1-9.7 0.2-0.6 0.1-2.1 0.2 1.4 0.1-4.4 0.3 6.8 0.2-2.5 0.1-0.4 0.2-0.1 0.2-1.3 0.3 6.4 0-8.2 0.4 8.2 0.2 0.3 0.1-3.6 0.2 1.1 0.1-4.5 0.3 6.5 0.1-4.4 0.2 1.3 0.2-0.3 0.3 4.3 0.1-1.5 0.3 2.7 0.2 1.5 0.1-2.5 0.4 2.6 0.5 2.4 0.3 1 0.2 0.3 0.2 0.2 0.4 0.2 1.3 0.3 0.9 0.2 1.9 0.3 0.9 0 1 0.3 0.9 0.3 0.9 0.3 1 0.2 1.8-0.1 1 0.1 0.9 0.3 1.9 0.4 0.9 0.4 1 0.2 0.9 0.3 0.9-0.3 1-0.2 0.9-0.6 1.9-2.3 0.9-1 0.9-1.2 1-0.8 0.9-0.5 1 0.1 0.9 0.4 1 1.2 1 2.1 0.9 1.8 1 1.1 0.9 0.9 1 1 1 0.3 0.9 0.7 1.9 1 1 0.3 1.9 0.9 1 0.4 0.9 0.4 1 0.4 1 0.5 0.9 0.3 2.9 1.6 1 0.3 1 0.2 0.5 0.2 0.6 0 0.6-0.3 0.6-0.7 0.6-1 0.6-1.6 1.1-4.8 1.2-10.2 1.2-12.5 1.2-12.9 1.3-12.2 0.6-5.2 1.2-8.7 0.6-3.3 0.7-2.3 0.6-1.6 0.6-1 1.2-0.5 1-0.4 1.4 0.1 5.8 0.8 4.2 0.9 2.9 0.5 1.5 0.5 4.3 2.5 1.4 0.9 2.9 1.9 1.4 1.2 1.4 1.4 1.5 1.3 2.8 2.7 2.9 3 2.8 3.7 1.4 1.9 1.5 1.8 4.2 6.7 1.4 1.3 1.5 1.1 0.8 0.7 0 0" stroke="#e3685f"/>
<path d="M356.9 139.4l0-4.2 0.1-10.9 0.1-3.9 0.3 3.9 0.1-3.9 0.4 9.3 0-6.7 0.2-1.9 0.2 0.9 0.1-2 0.4 6.6 0.1-0.9 0.1-3.3 0.2 1.8 0.4 7 0.2-8.7 0.3 5.6 0-8.9 0.3 7.9 0.1-3.2 0.2 0.3 0.3 1.7 0.2 0.8 0.1-0.4 0.3 4.8 0.2-2.4 0.4 2.9 0.4 2.6 0.4 1.1 0.2 0.4 0.2 0.2 0.4 0.2 0.3-0.2 1 0.1 0.9 0.4 2.8 0.7 0.9 0.3 1 0.2 0.9 0 0.9 0.2 1 0.1 0.9 0.2 2.8 0.3 1.9 0.3 2.8 0.5 0.9-0.2 1-0.3 2.7-4.9 1.9-2.2 1-0.4 0.9-0.1 1 0.6 0.9 1.3 2 4.1 0.9 1.2 1 0.9 1 0.8 0.9 0.5 1 0.5 0.9 0.7 1 0.5 1 0.4 1.9 1 0.9 0.6 2 1 0.9 0.6 1 0.8 2.9 1.2 0.9 0.6 1 0 0.6-0.1 0.6-0.1 0.6-0.5 1.1-1.9 0.6-1.6 1.2-4.9 1.2-10.6 3-31.8 0.6-6 0.7-4.8 1.2-7.9 0.6-2.9 0.6-1.9 0.7-1.5 0.6-0.9 1.8-0.8 0.4 0 1.4 0 1.4 0.2 1.5 0.1 2.8 0.4 1.5 0.3 4.3 0.8 1.4 0.4 1.4 0.4 2.9 1.6 1.4 0.7 1.5 0.7 2.8 1.6 1.5 0.9 2.8 2.4 2.9 2.6 2.9 2.6 2.8 3.2 2.9 3.4 2.8 3.8 1.4 2.1 1.4 1.1 1.5 0.9 0.8 0.7 0 0" stroke="#e66c5c"/>
<path d="M357.9 138.5l0.1-3.8 0.2-9.3 0.1-2.2 0.3 3.2 0.1-3.6 0.2 2.2 0.1-1.8 0.2-0.1 0.3 1.9 0.1-1.6 0.2 1.9 0.2 0.8 0.1-4.7 0.2 0.1 0.3 5.6 0.2-1.2 0.1-3.7 0.2 2.8 0.5 2.9 0.1-2.5 0.2-0.2 0.2 0 0.2 1.7 0.2 0 0.2 1.8 0.2 0.7 0.8 4.9 0.4 1 0.2 0.3 0.2 0.2 0.7 0.3 1 0.2 0.9 0.3 0.9-0.1 1.9 0.3 0.9 0.3 1 0.3 1.8 0.5 1 0.1 0.9 0 0.9 0 1 0.4 0.9 0.4 1.9 0.4 0.9 0 1 0.3 1.8-0.3 1-0.4 1.8-2.5 1.9-2.1 0.9-1.2 1-0.6 0.9 0.2 1 1 0.9 1.6 2 3.8 2.8 2.5 1.9 0.8 1 0.6 1 0.4 1.9 0.7 0.9 0.6 1 0.5 1 0.6 1.9 0.6 0.9 0.3 2 1.6 0.9 0.2 1 0.1 1-0.2 0.5 0.3 0.6 0 0.6-0.1 1.2-1.6 0.5-1.5 1.2-5.1 1.2-10.4 1.8-18.8 1.9-18.6 0.6-5.3 1.3-9.2 0.6-3.6 0.6-2.6 0.6-1.5 0.6-0.9 1.3-0.5 1-0.5 1.4 0.1 4.3 0.5 7.1 1.4 1.5 0.4 1.4 0.5 5.7 3.4 2.9 1.9 2.8 2.5 5.7 5.9 1.5 1.5 2.8 3.7 2.8 3.9 4.2 6.8 1.5 1.5 1.4 1.1 0.8 0.8 0 0" stroke="#e97158"/>
<path d="M359 137.6l0.1-4.5 0.1-10.5 0.3-2.9 0.2 1.3 0.2-0.7 0.2 1.6 0.2 0.2 0.2-1.6 0.2 3.1 0.1-5.9 0.4 9.2 0.2 0.2 0.2-5.5 0.3 3.5 0-4.7 0.7 5.9 0.1-6.7 0.2 1.9 0.2 2.5 0.1-3.1 0.4 5.2 0.2 0.8 0.1 0 0.9 5.5 0.4 1.2 0.2 0.4 0.2 0.1 0.7 0.4 0.9 0.3 1 0.1 0.9 0 1.9 0.2 0.9 0.2 0.9 0.3 0.9 0 1.9 0.3 0.9 0.3 1 0.4 1.9 0.5 0.9-0.1 1.9 0.3 0.9 0.3 1.9-0.1 0.9-0.3 0.9-1.8 1-2 0.9-1.4 0.9-1 1-0.9 0.9-0.4 1 0 0.9 0.6 1 1.3 0.9 2.5 1 2.1 1 1.2 0.9 0.9 1 1.1 0.9 0.5 2 0.5 2.8 1.6 1 0.3 0.9 0.3 3.9 2 1 0.5 1.9 1.2 0.9 0.4 1-0.2 0.6 0.1 0.6 0.2 0.5-0.3 0.6-0.9 0.6-1.1 0.6-1.7 0.6-2.5 0.6-2.7 1.2-11 3.7-38.4 0.6-5 1.3-8.7 0.6-3.2 0.6-2.3 0.6-1.6 0.6-1.1 1.9-0.5 0.4-0.2 2.8 0.1 2.9 0.3 4.2 0.9 1.5 0.2 2.8 0.8 1.5 0.5 1.4 0.7 1.4 0.8 5.8 3.9 1.4 1.2 2.8 3 2.9 3 1.4 1.6 1.4 1.7 4.3 5.9 1.4 2.1 2.8 4.7 1.4 2.5 1.4 1.5 1.4 1.3 0.8 0.9 0 0" stroke="#ec7754"/>
<path d="M360.1 136.7l0.1-4.6 0.1-10.5 0.2-0.5 0.2-0.3 0.2 0.4 0.1-1.9 0.2 2.7 0.5 3.6 0.1-2.5 0.2 1.5 0.1-4.8 0.3 4.5 0.3-3.3 0.2 2.3 0.2-2.2 0.4 1.1 0.2 1 0.2 1.7 0.2 2.9 0.3-6 0.3 5.9 0.1-1.8 0.2 0 0.4 2.8 0.5 2.6 0.4 1 0.2 0.4 0.1 0.2 0.8 0.5 0.9 0.1 0.9 0 1-0.1 1.8 0.4 1 0.4 0.9 0.2 0.9 0.3 1.9 0 0.9 0.1 0.9 0.3 1 0.1 0.9 0.2 1 0.3 0.9 0.4 0.9 0.1 1 0 0.9-0.1 0.9-0.3 1-0.4 1.8-2.9 1-1.1 0.9-1 0.9-1.3 1-0.9 0.9-0.3 1 0.7 0.9 1.6 2 4.4 0.9 1.1 1 0.9 0.9 1.1 2 0.9 0.9 0.3 1.9 1.2 1 0.9 0.9 0.3 1 0.4 1 0.2 0.9 0.5 1 0.3 1.9 1.1 1 0.6 0.9 0.4 1 0.1 2.1 0.6 0.6-0.6 1.2-1.8 0.5-1.6 1.2-5 1.2-10.7 2.5-25.6 1.2-12.2 0.7-4.9 1.2-8.2 0.6-3.1 0.7-2.1 0.6-1.6 0.6-1 0.6-0.2 1.6-0.5 1.4 0 4.3 0.4 4.3 0.8 5.7 1.3 1.4 0.7 4.3 1.9 1.5 0.8 1.4 0.7 1.4 0.8 1.5 1 2.8 2.2 4.3 3.4 4.3 4.1 1.4 1.5 2.9 3.6 1.4 1.8 1.4 0.9 1.5 0.6 0.8 0.4 0 0" stroke="#ef7c51"/>
<path d="M361.2 135.8l0.1-3.7 0.2-9 0.1-1.1 0.2-1.8 0.1-0.1 0.2 1.1 0.3 3.7 0.1-3.9 0.3 3.7 0.1-3.5 0.2 3.4 0.2-1.4 0.2 1.9 0.2 0.5 0.1-5.2 0.3 4.9 0.1-2.5 0.3 4.2 0.1-4 0.1-0.9 0.3 2.6 0.2 0.1 0.1-2.4 0.2 1.8 0.2-0.7 0.3 4.4 0.1-0.9 0.5 2.5 0.4 2.2 0.4 0.9 0.2 0.3 0.1 0.2 0.4 0.2 0.4-0.2 0.9 0.1 0.9 0.2 1 0.6 0.9 0.4 2.8 0 0.9 0.2 0.9 0.3 1 0.2 0.9 0.2 0.9 0 1 0.3 1.8 1 1.9 0.1 1-0.1 2.8-0.8 1.8-2.1 0.9-1 1-0.8 0.9-1.2 1-0.6 0.9 0.1 1 0.8 0.9 1.4 1.9 3.5 2.9 2.6 1 0.4 0.9 0.1 1.9 1 1 0.8 0.9 0.4 2 0.9 1.9 0.9 0.9 0.3 1.9 1.2 1 0.4 1 0.6 0.9 0.1 1 0 0.6-0.2 0.5 0.3 0.6-0.4 0.6-0.7 0.6-1 0.6-1.5 1.2-4.7 1.2-9.8 1.2-12.1 1.9-19.2 0.6-6.2 0.6-5.2 1.3-9 0.6-3.6 0.6-2.5 0.6-1.6 0.7-1 1.2-0.5 0.6-0.2 1.8 0 1.4 0.2 1.4 0 2.9 0.4 1.4 0.3 1.4 0.1 2.9 0.7 2.9 0.9 1.4 0.8 2.8 1.7 1.5 0.9 2.8 2 1.4 1.2 1.5 1.3 7.1 7.3 1.4 1.8 4.2 5.9 2.8 4.5 1.4 2.3 1.4 1.4 1.4 1.3 0.9 0.8 0 0" stroke="#f1814d"/>
<path d="M362.3 134.9l0.1-4.3 0.1-9.9 0.1-3 0.3 2 0.2 1.2 0.1-2 0.3 3.9 0.1-1.5 0.2-0.9 0.1-2.2 0.2-1.1 0.2 2.4 0.2-1.1 0.3 4.6 0.1-0.7 0.2-0.2 0.2-1.5 0.2 1.2 0.2 1.5 0.3 6.4 0-8.2 0.2 1.7 0.1-4.3 0.2 1.2 0.2-0.4 0.4 9.3 0.1-4.3 0.4 2.7 0.4 2.3 0.4 1 0.2 0.4 0.2 0.2 0.7 0.3 1.9 0.4 0.9 0.3 1.9 0.2 0.9 0 0.9 0.1 1 0 0.9 0.2 0.9 0.2 1 0.4 0.9 0.1 0.9 0.4 1 0 0.9 0.2 0.9 0.1 1 0.3 0.9 0.1 0.9-0.1 1-0.3 0.9-0.1 1.9-2.3 0.9-1.4 1.9-2.1 0.9-0.6 1-0.1 0.9 0.7 1 1.3 1.9 3.4 0.9 1 1 1.1 1 0.8 0.9 0.6 1 0.4 0.9 0.5 1.9 0.8 1 0.5 0.9 0.4 1 0.6 1 0.4 0.9 0.5 1 0.4 0.9 0.4 1 0.6 0.9 0.7 1 0.4 1 0.4 0.9-0.2 0.6 0.2 0.6-0.1 0.6-0.2 0.5-0.5 0.6-0.8 0.6-1.5 1.2-4.8 1.2-10.6 1.2-12.4 1.9-19.3 0.7-5.9 0.6-5.1 1.2-8.6 0.7-3.3 0.6-2.4 0.6-1.5 0.6-1 1.2-0.4 0.6-0.2 0.5-0.1 1.4 0 5.7 0.7 2.8 0.5 2.9 0.5 1.4 0.4 1.4 0.5 1.4 0.7 2.9 1.4 1.4 0.7 2.9 1.7 1.4 0.9 2.9 2.4 4.2 3.8 1.5 1.3 2.8 3.3 2.8 3.4 2.8 3.9 1.5 2 1.4 1.1 1.4 0.8 0.8 0.7 0 0" stroke="#f48849"/>
<path d="M363.3 133.9l0.1-4.3 0.2-11.3 0.1-1.9 0.1-2.8 0.3 5.4 0.2-2.3 0.2 4.1 0.2-2.7 0.2 1.7 0.1-4.4 0.2 4.6 0.2-2.5 0.2 0.2 0.1-1 0.5 4.3 0.1-2.8 0.2-1.7 0.2 1.5 0.2 3.5 0.1-8.1 0.5 9.7 0.1-5.9 0.3 6.1 0.1-2.5 0.5 3.3 0.4 3.3 0.2 1.1 0.4 1.1 0.2 0.4 0.2 0.2 0.3 0.2 3.2 0.7 0.9 0.1 2.8 0.7 2.8 0.2 0.9 0 0.9 0.1 1 0.2 0.9 0.5 1.9 0 0.9 0.2 1.9 0 0.9-0.2 1-0.1 0.9-1.5 0.9-1.6 0.9-1.5 1-1.3 0.9-1.4 0.9-0.9 1-0.1 0.9 0.8 1 1.5 1.9 4.5 1 1.2 0.9 0.7 1 0.9 0.9 0.3 1 0.6 1 0.8 0.9 0.6 1 0.6 0.9 0.4 1 0.3 1.9 0.8 1 0.7 0.9 0.3 1 0.6 0.9 0.5 1 0.6 1.9 0.7 1 0.1 1.1-0.1 0.6-0.4 0.6-0.8 0.6-0.9 0.6-1.5 0.5-2.4 0.6-2.8 1.3-10.9 3.7-36.3 0.6-4.4 1.3-7.3 0.6-2.6 1.2-2.9 0.7-1 2.2-0.7 1.4 0 2.8 0.3 2.9 0.5 1.4 0.3 1.4 0.2 4.3 0.9 1.4 0.5 1.4 0.7 1.5 0.6 1.4 0.7 1.4 0.6 1.4 0.9 1.5 0.6 2.8 2.1 4.3 3.4 2.8 2.4 1.5 1.4 4.2 4.5 1.4 1.8 2.8 3.9 1.5 1 1.4 0.6 0.8 0.6 0 0" stroke="#f68d45"/>
<path d="M364.4 133l0.4-16.8 0.2 2.3 0.2-0.6 0.2-0.8 0.2 0.6 0.2 1 0.1-1.1 0.2 0 0.2 0.7 0.2-0.2 0.2-0.4 0.1-1.2 0.5 3.8 0.1-2.8 0.2-0.7 0.2 2.2 0.2 1.5 0.2 2 0.1-4.3 0.3 5.9 0-8.9 0.6 9.9 0.1-2.1 0.5 2.6 0.4 2.3 0.4 0.9 0.2 0.4 0.1 0.1 0.4 0.2 0.4 0 2.8 0.9 5.5 0.7 1 0.3 0.9 0 0.9 0.1 0.9-0.1 1 0.1 2.8 1.1 0.9 0.2 1 0.1 0.9-0.2 0.9-0.5 1.9-2.7 0.9-1 0.9-0.8 1.9-1.7 1-0.2 0.9 0.6 1 1.3 0.9 2 1 1.7 0.9 1.1 2 1.7 2.8 1.7 1-0.1 0.9 0.3 1 0.4 0.9 0.9 1 0.6 1.9 0.8 1.9 1.1 1 0.4 0.9 0.5 1 0.3 0.9 0.3 1 0 1.2 0.3 0.5-0.3 0.6-0.5 0.6-0.9 0.6-1.5 1.2-4.9 1.2-9.9 1.2-12.1 1.3-12.4 1.3-12.2 0.6-5 1.3-8.3 0.6-3.2 0.6-2.3 0.6-1.6 0.6-0.9 2.3-0.8 2.8 0.2 1.4 0.2 1.4 0.1 10 2.1 5.7 2.8 2.8 1.6 2.9 2 4.2 3.5 2.9 2.6 5.6 6.1 2.9 3.7 1.4 2 1.4 1.1 1.4 0.8 0.8 0.6 0 0" stroke="#f79342"/>
<path d="M365.5 132.1l0.1-3.5 0.2-9.7 0.1-1.7 0.1-3 0.5 5.4 0.3-4.8 0.3 5.9 0.1-5.6 0.2 4.6 0.2 0.7 0.2-1.5 0.2 1.9 0.2-1.8 0.2 1.5 0.1-2.5 0.1-3.3 0.3 5 0.2-1.6 0.2 3.1 0.1-5.1 0.3 6.1 0.1-3.2 0.2-0.5 0.3 4.8 0.1-0.4 0.5 2.5 0.4 2.3 0.3 0.9 0.2 0.4 0.2 0.2 0.8 0.4 0.9 0.2 0.9 0 0.9 0.3 1 0 0.9 0.3 0.9-0.3 0.9 0.4 1 0.1 0.9 0.3 0.9 0 1 0.1 0.9 0.3 0.9 0.1 2.8 0.7 0.9-0.1 1 0.2 1.9 0.1 0.9-0.3 0.9-1.1 0.9-1.2 1-1 1.8-2.4 1-0.7 0.9 0.2 1 0.5 0.9 1.3 1 1.6 0.9 1.7 1.9 2.1 1 0.9 0.9 0.2 1 0.4 1 0.6 0.9 0.7 1 0.6 0.9 0.3 1 0.5 0.9 0.4 1.9 1 1 0.4 0.9 0.6 1 0.3 1 0.5 0.9 0.3 1 0.3 0.9 0 1.2 0.3 0.6-0.3 0.5-0.9 0.6-0.8 0.6-1.4 0.6-2.3 0.6-2.7 1.2-10.2 1.3-12.6 1.2-12.8 1.3-12.5 0.7-5.2 1.2-9 0.7-3.4 0.6-2.4 0.6-1.6 0.6-1.1 1.8-0.6 0.4-0.1 1.5 0 1.4 0.1 2.8 0.4 2.8 0.5 2.9 0.5 1.4 0.4 1.4 0.3 1.5 0.4 1.4 0.6 2.8 1.4 1.5 0.7 2.8 1.5 1.4 1 2.9 2.3 5.7 4.8 1.4 1.5 2.8 3.1 1.4 1.5 2.8 3.9 1.4 1.9 1.5 1 1.4 0.7 0.8 0.6 0 0" stroke="#f99a3e"/>
<path d="M366.6 131.2l0.3-20 0.3 6.4 0-8.3 0.3 4.1 0.2-0.5 0.2 4.4 0.2-1.1 0.1-1.9 0.3 3.2 0.1-3.7 0.2 0.8 0.2-0.2 0.2 2.8 0.1-3.6 0.2 1 0.2-0.8 0.2 1.3 0.1-3.3 0.2 1.3 0.3 6.3 0.2-2.8 0.2 3.9 0.1-3.6 0.2 0.2 0.3 2.2 0.4 2.8 0.2 1.6 0.2 1 0.6 1.5 0.2 0.1 0.3 0.2 2.2 0.4 1 0.3 1.8 0.3 0.9 0.2 1.9 0.2 0.9-0.1 1 0.1 0.9 0 0.9 0.2 2.8 0.9 0.9-0.1 1 0.2 1.9 0.1 0.9-0.1 0.9-0.5 3.7-5.2 1-1.4 0.9-0.8 1 0 0.9 0.8 1 1.2 0.9 1.7 1 2 0.9 1.2 1 0.8 0.9 0.8 1 0.4 0.9 0.8 1.9 0.8 1 0.3 0.9 0.6 1 0.5 1 0.7 1.9 1.1 0.9 0.4 1.9 0.9 2 1.3 0.9 0.6 1 0.1 1.1-0.5 0.6-0.8 0.6-0.4 0.6-0.7 0.6-1.3 1.1-4.7 1.3-10.2 2.5-25.2 1.3-11.8 0.6-4.6 1.3-7.2 0.6-2.5 1.2-3.2 0.6-1 1.2-0.5 0.7-0.2 0.4-0.1 1.4 0.1 1.4 0.3 4.2 0.5 4.3 0.8 1.4 0.3 2.9 0.8 2.8 1.5 2.8 1.7 2.9 1.9 1.4 1.1 2.8 2.6 1.4 1.3 4.3 4.4 2.8 3.4 2.8 3.7 4.2 6.6 1.4 1.3 1.4 1.2 0.8 0.8 0 0" stroke="#fb9f3a"/>
<path d="M367.6 130.3l0.1-4.5 0.2-11.5 0.1 0.5 0.2-1.8 0.3 5.7 0-6.7 0.3 1.7 0.2 4.2 0.1-6.1 0.2 3.4 0.2-0.2 0.1-3.2 0.3 1.5 0.1-0.1 0.2-1.1 0.3 3.9 0.2 0.6 0.1-1.7 0.1-3.2 0.3 4 0.1-2.7 0.2 1.9 0.4 1.2 0.3 2.7 0.1-1 0.2 0.9 0.4 2.9 0.3 1.6 0.2 1.1 0.5 1.5 0.2 0.1 0.4 0.2 0.4-0.1 0.9 0.1 0.9 0.1 0.9 0.3 1 0.1 0.9 0.3 0.9 0.3 0.9 0.1 1 0 0.9-0.1 0.9 0.3 0.9 0.1 1 0.4 0.9 0.2 0.9 0 1-0.1 0.9 0.1 0.9 0.3 1 0.2 0.9-0.3 0.9-0.4 1-0.1 1.8-2.5 1-1.7 0.9-1.3 0.9-1.3 1-0.7 0.9 0 1 0.5 0.9 1 1 1.9 0.9 2.2 1 1.1 0.9 1 1 1.1 0.9 0.7 1 0.5 0.9 0.2 1 0.6 0.9 0.2 1 0.7 0.9 0.4 1 0.9 1.9 1 1 0.3 4.7 2.7 1 0.3 0.6 0 0.6-0.2 0.5-0.3 1.2-2 0.6-1.7 0.6-2.2 0.6-2.5 1.2-10.8 1.3-12.9 1.2-12.9 1.3-11.8 0.7-4.5 1.2-7.5 0.7-2.5 1.2-3 0.6-1 0.6-0.2 1.6-0.6 1.4 0 4.3 0.3 2.8 0.6 1.4 0.4 2.9 0.5 1.4 0.4 1.4 0.5 1.4 0.7 2.9 1.2 1.4 0.7 2.9 1.7 1.4 1 7.1 6 1.4 1.2 5.6 6.2 4.2 6.1 1.4 1 1.5 0.8 0.8 0.6 0 0" stroke="#fca537"/>
<path d="M368.7 129.4l0.1-4.3 0.1-10.8 0.3 1.7 0.1-3.6 0.2 0.6 0.1-1 0.2 0.1 0.3 7.1 0.1-8.1 0.2 2.2 0.1-1.6 0.3 3.7 0.1-4.6 0.3 6.1 0.1-3.3 0.2 1 0.2 2.2 0.2-1 0.1-3.5 0.2 0.9 0.3 3.2 0.1-1.1 0.2-2.6 0.2 0 0.3 8.1 0.3-2.3 0.4 2.8 0.2 1.5 0.2 1 0.6 1.4 0.2 0.2 0.4 0.2 0.3 0.2 1-0.1 0.9 0.1 0.9 0.3 0.9 0.4 1.9 0.1 0.9 0 0.9 0 0.9 0.4 1 0.1 0.9 0.4 0.9 0 1 0.4 1.8 0.1 1.9 0.4 0.9 0.2 1-0.1 0.9-0.3 0.9-0.5 0.9-1.6 1-1.4 0.9-1.1 1.9-2 0.9-0.8 1-0.1 0.9 0.4 1 1.1 1.9 4 0.9 1.3 1.9 1.7 1 0.3 0.9 0.4 2.9 1.7 0.9 0.4 1 0.5 0.9 0.6 1 0.4 0.9 0.7 1.9 1.3 1 0.2 0.9 0.4 1 0.2 1 0.4 0.9 0 0.6 0.3 0.6-0.1 0.6-0.3 1.1-1.4 0.6-1.5 1.2-5 1.2-10.4 3.9-38.1 0.6-4.9 1.3-8.1 0.6-2.9 0.6-1.9 0.6-1.6 0.7-1 1.8-0.7 0.4-0.1 1.4 0.1 1.4 0.1 1.4 0.1 2.9 0.4 1.4 0.4 4.2 0.7 1.5 0.3 1.4 0.6 2.8 1.3 2.9 1.6 2.8 1.6 1.4 1.2 4.3 3.8 4.2 4.1 1.4 1.6 1.4 1.8 1.4 1.6 1.4 1.9 1.4 1.9 2.8 4.2 1.4 1.2 1.4 0.9 0.8 0.7 0 0" stroke="#fdac33"/>
<path d="M369.7 128.5l0.3-16.4 0.2 0.2 0.3 5.7 0-5.5 0.2-3.3 0.1-1 0.3 6.1 0.1-4.6 0.2 1.8 0.2 0.1 0.5 4.7 0.2 0 0.1-3.8 0.2 1 0.1-3 0.2 0 0.2 3 0.2-1.9 0.2 0.7 0.1-2.8 0.3 4.9 0.2 0.8 0.1-3.9 0.2 3.4 0.7 4.7 0.2 1.5 0.2 1.1 0.6 1.5 0.1 0.1 0.8 0.4 0.9 0.3 2.8 0.3 0.9 0.2 0.9-0.1 1.9 0.4 1.8 0.5 0.9 0 1 0.3 0.9 0.1 0.9 0.1 1 0.1 0.9 0.2 0.9 0 1 0.2 0.9-0.1 0.9 0 1-0.7 0.9-1.3 0.9-1.5 2.8-4 1-0.7 0.9-0.2 0.9 0.5 1 1.1 0.9 1.8 1 2.4 0.9 1.2 1 1.1 0.9 0.7 1 0.4 1.9 1.4 0.9 0.5 1 0.1 1.9 1.1 1 0.8 0.9 0.4 1 0.6 0.9 0.3 1 0.6 0.9 0.4 1 0.6 1.9 0.6 1-0.2 1.1 0.4 0.6-0.1 1.1-1.4 0.6-1.5 1.2-5.2 1.3-10.5 1.2-12.9 1.3-12.8 1.3-12 0.7-4.6 1.2-7.5 0.7-2.6 1.2-3.1 0.6-0.9 0.6-0.2 0.6-0.3 0.6-0.1 0.4-0.2 1.4-0.1 2.9 0.3 1.4 0.3 1.4 0.2 1.4 0.3 2.8 0.5 1.5 0.2 1.4 0.3 1.4 0.4 2.8 1.3 4.3 2 1.4 0.7 2.9 1.8 5.6 4.2 1.5 1.1 1.4 1.3 4.2 4.2 1.4 1.7 2.8 3.5 1.4 0.9 1.5 0.5 0.8 0.5 0 0" stroke="#fdb22f"/>
<path d="M370.8 127.6l0.3-15.3 0.1-1 0.2-0.5 0.2-1.3 0.2 4 0.2-1.1 0.1-4.3 0.3 5.1 0.1-5.2 0.5 8.5 0.1-4.5 0.2-0.2 0.2 1.1 0.1-1.4 0.2 1.5 0.2-0.5 0.2 0 0.1-1.7 0.2 0.6 0.3 2.3 0.1-3.7 0.3 6 0.1-3.8 0.2 0.8 0.2 3.4 0.4 2.7 0.2 1.5 0.2 1 0.6 1.3 0.2 0.2 0.4 0.2 0.3 0.1 1 0.2 1.8 0.4 0.9 0.2 1.9-0.1 0.9 0.3 1.8 0.4 1 0.1 0.9 0.3 0.9 0.1 1 0.1 0.9 0 0.9 0.4 0.9 0.1 1 0.1 0.9 0 1.9-0.1 0.9-0.5 0.9-1.2 1-1.4 0.9-1.3 0.9-1.1 1-1.1 0.9-0.5 0.9 0 1 0.6 0.9 1.1 1.9 3.1 2.9 3 0.9 0.5 1 0.5 0.9 0.3 1 0.7 0.9 0.5 1 0.8 2.8 1.4 1 0.3 0.9 0.6 1 0.3 0.9 0.4 1 0.4 1 0.5 0.9 0.4 1.5 0.2 0.6 0.2 0.6-0.3 1.2-1.6 0.5-1.4 0.6-2.1 0.6-2.4 1.3-10.5 1.3-12.7 1.3-13.1 1.3-12.2 0.6-4.8 1.3-8 0.6-2.9 0.6-2 0.6-1.5 0.7-1.1 0.6-0.3 0.6-0.3 1-0.4 1.4 0.1 1.4 0.1 2.8 0.4 1.4 0.4 5.7 0.8 1.4 0.5 1.4 0.4 8.6 4.4 1.4 1 1.4 1.2 7 6.4 4.3 4.6 1.4 1.6 2.7 4.1 1.4 2 1.5 1 1.4 0.9 0.8 0.7 0 0" stroke="#feb82c"/>
<path d="M371.9 126.8l0.3-14.1 0.1-1.6 0.2 1.8 0.2 0.9 0.2-2.1 0.2 1.6 0.1-5.8 0.2 4.4 0.2-2.2 0.2 2.3 0.2-0.9 0.2 3.1 0.1-5.3 0.2 2 0.2 0.1 0.1-1.9 0.5 3 0.2 1.9 0.1-0.4 0.2 0.5 0.4-0.3 0.1-2.7 0.3 6.6 0.2-1.1 0.4 2.4 0.2 1.4 0.2 0.9 0.6 1.2 0.2 0.2 0.3 0.2 1.3 0.1 0.9 0.4 1 0.2 0.9 0.3 3.7 0.5 0.9 0.3 2.8 0.2 0.9 0 0.9 0.1 1 0.3 0.9 0.3 2.8 0.3 0.9 0 1-0.3 0.9-1.2 0.9-1.3 2.8-3.2 0.9-0.7 1-0.2 0.9 0.7 1 1 0.9 1.5 1 1.7 0.9 0.9 1 1.1 1.9 1.5 0.9 0.4 1 0.6 0.9 0.1 1 0.4 0.9 0.7 4.8 2.7 0.9 0.3 2.9 1.3 0.9 0.3 1.6 0 0.5 0.3 1.2-1 0.6-0.9 0.6-1 1.1-4.4 1.3-9.7 1.3-12 1.9-17.9 0.6-5.9 0.7-4.7 1.3-7.9 0.6-2.9 0.6-1.8 0.6-1.5 0.6-1 1.2-0.4 1.1-0.2 1.4-0.1 2.8 0.3 2.8 0.5 1.4 0.4 1.4 0.2 2.8 0.5 1.5 0.4 1.4 0.6 1.4 0.7 2.8 1.6 2.8 1.6 1.4 1 1.5 1.1 2.8 2.5 4.2 4.2 1.4 1.5 2.8 3.4 2.7 3.6 4.2 6.5 1.4 1.2 1.4 1.1 0.8 0.8 0 0" stroke="#fec029"/>
<path d="M372.9 125.9l0.5-15.9 0.2 1.1 0.1-2.9 0.3 6.8 0.1-4.1 0.2 2.4 0.2-1.7 0.1-3.2 0.2 0.2 0.5 5.5 0.1-3.3 0.2 1.3 0.4 1.4 0.1-2.8 0.3 3.9 0.2 0 0.1-1.7 0.2 2.3 0.2-1.8 0.2 3.8 0.2-3.2 0.2 1.9 0.2 0 0.4 2.4 0.2 1.3 0.2 0.9 0.5 1.3 0.2 0.1 0.4 0.2 0.4 0 0.9 0 0.9 0.3 0.9 0.5 0.9 0 1 0.2 0.9 0 0.9 0.2 0.9 0.1 0.9 0.3 1.9 0.5 1.8-0.2 1 0.1 0.9 0.2 0.9 0.6 1 0.1 0.9 0.2 0.9-0.2 1 0 0.9-0.4 0.9-1.1 0.9-1.4 1-0.8 0.9-0.7 1.9-1.7 0.9-0.3 1 0.4 0.9 0.8 1 1.4 0.9 1.6 1 1.2 1.8 2.1 1 0.5 1.9 0.8 0.9 0.4 1 0.3 0.9 0.5 1 0.8 1.9 1 0.9 0.3 1 0.5 0.9 0.3 2.9 1.7 1.9 0.1 1.1 0.2 0.6-0.4 1.2-1.3 0.6-1.3 1.2-4.4 0.6-4.6 0.6-5.2 1.3-12.2 1.9-19 0.7-6.2 0.6-4.9 1.3-8.6 0.7-3.4 0.6-2.2 0.6-1.6 0.6-0.9 0.6-0.2 0.6-0.3 1-0.4 1.4 0.1 7.1 0.9 4.2 0.9 1.5 0.3 1.4 0.5 2.8 1.1 1.4 0.6 1.4 0.6 2.9 1.5 2.8 2 1.4 1 1.4 1 2.9 2.3 1.4 1.1 2.8 2.7 1.4 1.4 1.4 1.6 4.2 5.2 1.4 0.9 1.4 0.7 0.9 0.5 0 0" stroke="#fdc627"/>
<path d="M374 125l0.3-14.9 0.2 1.7 0.1-3.2 0.2-0.5 0.1-2.3 0.4 3.3 0.2-0.5 0.2 1.1 0.2-0.4 0.2 4.5 0.2-4.8 0.2 1.6 0.1-2.6 0.2-0.4 0.2 5 0.3 1.7 0.1-3.4 0.4 1.2 0.1-0.7 0.2 0.7 0.2-3.6 0.2 4.9 0.4 0.7 0.4 2.6 0.2 1.4 0.2 0.9 0.6 1.4 0.2 0.1 0.7 0.4 0.9 0.1 0.9 0.1 0.9-0.1 1 0.3 0.9 0 0.9 0.3 0.9 0.1 1 0.3 0.9 0 1.8 0.3 1 0.3 0.9 0.1 0.9 0.3 4.7 0.6 0.9-0.1 0.9-0.3 2.8-3.9 1.9-2.2 0.9-0.7 1 0 0.9 0.4 0.9 1.2 1 1.5 0.9 1.8 2.9 2.9 0.9 0.6 1 0.3 0.9 0.6 1 0.2 1.9 1 2.8 1.9 2.8 0.9 1 0.6 1 0.3 1.9 0.8 0.9 0.1 0.6 0.3 0.6-0.1 0.5-0.2 1.2-1.2 0.6-1.3 1.2-4.8 1.2-10 1.3-12.3 1.3-12.2 1.3-12 0.7-4.8 1.3-8 0.6-2.9 0.6-1.8 0.6-1.5 0.6-1 2.3-0.7 1.4-0.1 4.2 0.4 4.2 0.8 5.7 1.3 1.4 0.6 2.8 1.2 4.3 1.9 1.4 0.9 1.4 1 2.8 2.1 1.4 1.2 2.9 2.1 4.2 4.1 1.4 1.4 1.4 1.7 2.8 3.3 1.4 0.9 1.4 0.7 0.8 0.5 0 0" stroke="#fccd25"/>
<path d="M375 124.1l0.1-3.4 0.3-9.2 0.1-2.6 0.2 1.3 0.3 5.6 0-7.1 0.2 1 0.2 0.3 0.2 0 0.2 2.7 0.2 0.8 0.1-6.4 0.2 2.1 0.3 2.9 0.1-0.7 0.2-1.4 0.2 4.1 0.1-10.4 0.3 7.7 0.1 0.4 0.3 2.6 0.1-3.4 0.4 2.9 0.2-1.4 0.2 2.3 0.2 0.4 0.4 2.3 0.2 1.3 0.2 0.9 0.5 1.1 0.2 0.2 0.4 0.2 0.4 0.1 2.7 0.4 0.9 0 0.9 0.1 1 0.4 1.8 0.7 0.9-0.1 1 0.1 0.9 0.1 0.9 0.3 2.8 0.4 0.9 0.3 1 0.4 0.9 0.2 0.9-0.1 0.9-0.5 1-0.2 0.9-1 2.8-3.3 0.9-0.8 1-0.5 0.9 0 0.9 0.3 1 0.9 0.9 1.5 1 1.6 0.9 1.1 1.9 1.8 0.9 0.3 1 0.6 0.9 0.5 1 0.3 0.9 0.3 1.9 1.3 2.9 1.2 0.9 0.6 1 0.2 2.8 1.7 1 0.3 1.5 0 0.6 0.2 0.5-0.5 1.2-1.5 0.6-1.3 1.2-4.3 1.2-9.9 4.6-43 1.3-8.9 0.6-3.5 0.7-2.4 0.6-1.5 0.6-1 2.2-0.9 2.8 0.2 1.4 0.2 1.4 0.1 4.3 0.8 2.8 0.3 2.8 0.8 2.9 1.2 2.8 1.3 1.4 0.5 1.4 0.6 1.4 0.9 5.7 4 1.4 0.9 1.4 1 1.4 1.2 4.2 4.1 4.2 4.9 1.5 0.8 1.4 0.4 0.8 0.5 0 0" stroke="#fbd524"/>
<path d="M376.1 123.2l0.1-4.7 0.2-11.1 0.1-0.8 0.2-0.1 0.1-2.4 0.3 3.3 0.2 0.2 0.2 1.2 0.1-2 0.2 2.6 0.2-1 0.2 2.1 0.1-5.2 0.3 4.5 0.1-2 0.3 3.5 0.1-6.7 0.2 5 0.2 2 0.2-1.9 0.1-0.7 0.2-5.4 0.2 6.6 0.1-4.6 0.3 3.9 0.2 0.8 1 6.6 0.6 1.4 0.1 0.1 0.8 0.5 0.9 0.1 0.9 0.2 0.9-0.1 1 0.3 0.9 0 0.9 0 0.9 0.2 1.9 0.5 0.9-0.1 1.8 0.2 1 0.2 0.9 0.1 1.8 0.4 1 0.3 0.9 0 0.9-0.3 1-0.5 0.9-0.1 0.9-0.9 0.9-1 1-1.6 1.8-2.5 1-0.6 0.9-0.3 1 0.4 0.9 0.9 0.9 1.5 1 1.9 0.9 1.5 1.9 2.2 1 0.1 0.9 0.6 1 0.4 0.9 0.8 2.8 1.3 1 0.6 2.8 1.4 1 0.3 0.9 0.5 1 0.4 0.9 0.9 1 0.5 0.9 0 0.6-0.1 0.6 0 0.6-0.3 0.5-0.9 0.6-0.6 0.6-1.2 1.2-4.4 1.3-10.1 2.6-24.1 1.3-11.1 0.6-4.4 1.3-6.6 0.6-2.2 0.6-1.2 0.6-1.4 0.7-0.9 1.2-0.5 0.6-0.2 0.4-0.1 1.4 0.1 1.4 0.2 2.8 0.3 4.2 0.7 2.8 0.5 2.8 0.8 1.4 0.7 1.4 0.5 2.9 1.3 1.4 0.8 1.4 0.6 2.8 1.7 7 5 2.8 2.7 2.8 2.6 4.2 5 1.4 0.9 1.5 0.6 0.8 0.5 0 0" stroke="#f9dc24"/>
<path d="M377.1 122.3l0.1-3.5 0.2-9.6 0.2 0.4 0.4-2.6 0.2 2 0.1-0.4 0.2-1.7 0.1-3.7 0.3 8.3 0.1-7.3 0.3 5.6 0.1-3.3 0.2 3.1 0.3 4.6 0.4-7.8 0.2 1.7 0.2-0.7 0.4 5.2 0.2-3.3 0.2 2 0.1-1.9 0.3 2.6 0.4 2 0.4 2.7 0.2 0.9 0.5 1.2 0.2 0.1 0.7 0.3 1 0.1 0.9 0.3 1.8 0.4 1.8-0.3 1 0.2 0.9 0.2 0.9 0.5 1.9 0.4 0.9-0.1 2.8 0.7 0.9-0.1 0.9 0.1 0.9 0.2 1 0 0.9 0.1 0.9-0.3 1-1 0.9-1.2 0.9-1 0.9-1 1-1.1 0.9-0.8 1 0 0.9 0.4 0.9 1.1 1 1.5 0.9 1.7 1 1.1 0.9 0.6 0.9 0.9 1 0.4 0.9 0.6 1 0.2 1.9 1.2 0.9 0.8 0.9 0.4 1 0.4 0.9 0.2 1 0.5 0.9 0.4 1 0.7 0.9 0.4 2.9 1.3 0.9 0.2 1.2 0 0.5-0.3 0.6-0.9 0.6-0.8 0.6-1.3 1.2-4 1.3-9.7 3.9-36.2 0.6-4.9 1.3-8.2 0.7-3 0.6-1.9 0.6-1.5 0.6-0.9 0.6-0.2 1.6-0.6 1.4 0 2.8 0.2 2.8 0.5 1.4 0.3 2.9 0.6 2.8 0.6 1.4 0.4 1.4 0.5 2.8 1.2 4.3 1.9 1.4 0.8 1.4 0.9 2.8 2.2 2.8 2 1.4 1 1.4 1.3 4.2 4.2 4.2 4.8 1.4 0.8 1.4 0.6 0.8 0.5 0 0" stroke="#f7e225"/>
<path d="M378.1 121.4l0.4-15.2 0.3-1.8 0.3 6.4 0.1-6.7 0.2 3.2 0.1-5.8 0.2 4 0.2 2.6 0.1-6.4 0.3 2.6 0.1-0.2 0.2-0.4 0.2 1.2 0.2 2.6 0.2 1.5 0.2-4 0.2 4.1 0.2-2.3 0.1-0.4 0.2 0.8 0.3 5.9 0.1-4.4 0.2 2.1 0.2-1.1 0.2 0.5 0.4 2.6 0.2 1.5 0.2 1 0.5 1.3 0.2 0.2 0.4 0.2 0.4 0 0.9 0.2 0.9 0.1 0.9 0.3 0.9-0.1 0.9 0 1-0.2 0.9 0.2 0.9 0.3 0.9 0.5 1 0.1 0.9 0.3 0.9 0 1.9 0.8 1.8 0 0.9-0.2 1 0.2 1.8-0.3 0.9-0.6 1-1 0.9-1.3 0.9-1 1-1.2 0.9-1 0.9-0.7 1-0.4 0.9 0.4 1 0.9 1.8 3.5 1.9 2 1 1 1.8 0.8 1 0.6 0.9 0.8 1.9 1.2 1 0.4 0.9 0.5 1.9 0.8 0.9 0.5 1.9 0.9 1 0.4 0.9 0.6 1 0.4 0.9-0.1 0.6-0.1 0.6 0.2 0.6-0.2 0.5-0.6 0.6-0.6 0.6-1.3 1.2-4.4 1.3-9.9 3.2-29.3 0.7-5.5 0.7-4.2 1.2-6.8 0.7-2.3 1.2-2.7 0.6-0.9 2.2-0.8 1.4 0 2.8 0.3 1.4 0.2 1.4 0.2 2.8 0.6 1.4 0.3 2.8 0.5 1.4 0.4 4.3 1.9 4.2 2 1.4 0.9 4.2 2.8 1.4 1.1 1.4 1 1.4 1 4.2 4.1 1.4 1.2 4.2 5.1 1.4 0.8 1.4 0.5 0.8 0.5 0 0" stroke="#f5eb27"/>
<path d="M379.2 120.6l0.1-4.3 0.2-11 0.1-2.6 0.3 1.6 0.1-1.4 0.2 0.1 0.2 2.3 0.2-0.8 0.1-3.5 0.3 4 0.1-1.7 0.5 5 0.1-5.7 0.2 2 0.2 0.7 0.1-1.2 0.2 1.3 0.2 0.4 0.2 1.4 0.2-3 0.2 0.9 0.1-1.1 0.3 6 0.1-2.6 0.3 3 0.1-1 0.4 2.7 0.2 1.5 0.2 1 0.6 1.4 0.2 0.1 0.3 0.2 0.4 0 0.9 0.4 1.9 0.2 0.9-0.1 1.8 0.3 1.8 0.3 1 0 0.9 0.1 0.9 0.4 0.9 0.2 1 0.2 0.9 0.1 0.9 0.4 0.9 0.1 1.9 0.2 0.9-0.2 1.9-1 0.9-1.1 0.9-1.3 1.9-2.2 0.9-1 1-0.7 0.9-0.3 0.9 0.1 1 0.9 0.9 1.6 1 2.1 1.8 2.2 1 0.9 0.9 0.5 1 0.4 0.9 0.5 0.9 0.2 1 0.6 0.9 0.4 1 0.6 0.9 0.4 1 0.6 0.9 0.8 1 0.7 0.9 0.6 0.9 0.3 1.9 1.1 1 0.4 1.5-0.3 0.6-0.1 0.6-0.3 1.1-1.4 0.6-1.1 1.2-4.5 1.3-10.3 1.3-12.3 1.3-12.2 1.4-11.9 0.6-4.5 1.3-7.1 0.6-2.4 0.6-1.3 0.7-1.5 0.6-0.9 0.6-0.3 1.6-0.5 1.4-0.1 5.6 0.6 1.4 0.4 5.6 1.2 1.4 0.5 1.4 0.6 1.4 0.6 4.2 2.2 1.4 0.8 1.5 0.9 4.1 3.4 4.2 3.6 2.8 2.9 2.8 3.1 2.8 3.8 1.3 1.8 1.5 1 1.4 0.7 0.8 0.6 0 0" stroke="#f2f227"/>
<path d="M380.2 119.7l0.2-3.9 0.2-9.9 0.2 0.6 0.1-3.2 0.2 0.8 0.2 2.7 0.2-2.5 0.4 4.2 0.1-4.1 0.2 0.1 0.2 4.1 0.2-2.1 0.2 2.8 0.1-3 0.2-0.4 0.2-0.6 0.1-3 0.3 6.9 0.2 0.4 0.2-1.1 0.1-0.1 0.4-0.8 0.2 1.5 0.2-2.1 0.2 2.7 0.4 2.5 0.2 1.4 0.2 0.9 0.5 1.2 0.2 0.1 0.4 0.2 0.3 0 1 0.5 0.9-0.1 0.9 0.1 0.9 0 1.8 0.2 1 0 1.8 0.6 0.9 0.3 1.9 0.2 0.9 0.3 1.8 0.3 1 0.3 1.8 0.3 0.9-0.4 1 0 0.9-0.4 0.9-1 0.9-1.3 2.8-2.9 1-0.8 0.9-0.1 1 0.5 0.9 0.9 0.9 1.3 1 1.5 0.9 1.1 0.9 0.9 1 1.1 0.9 0.7 1 0.5 0.9 0.2 2.8 1.7 1 0.2 1.9 0.7 0.9 0.7 1 0.4 0.9 0.6 2.8 1.5 1 0.3 2.1 0.3 0.6-0.3 1.1-1.2 0.6-1.2 1.2-4.4 1.3-9.6 3.9-35.1 0.7-4.5 1.3-7.3 0.6-2.5 1.2-3.2 0.6-1 1.8-0.4 0.4-0.2 1.4 0 1.4 0.1 2.8 0.3 5.6 1.2 1.4 0.2 1.4 0.4 1.5 0.4 1.4 0.7 4.2 2.1 2.8 1.7 1.4 1 5.5 4.8 2.8 2.6 2.8 3 2.8 3.2 4.1 5.9 1.4 1.1 1.4 0.9 0.8 0.6 0 0" stroke="#f0f921"/></g></g>
<g id="pc"><g font-family="Liberation Sans"><path d="M31.7 406.1l83.3-69.8-1.2-100.7-87.2 63.7" fill="#f2f2f2" stroke="#f2f2f2" stroke-width="0.54" stroke-linejoin="miter" opacity="0.5"/>
<path d="M115 336.3l133.7 38.8 4.7-104.1-139.6-35.4" fill="#e6e6e6" stroke="#e6e6e6" stroke-width="0.54" stroke-linejoin="miter" opacity="0.5"/>
<path d="M31.7 406.1l141.7 46.3 75.3-77.3-133.7-38.8" fill="#ececec" stroke="#ececec" stroke-width="0.54" stroke-linejoin="miter" opacity="0.5"/>
<path d="M39.8 408.8l82.9-70.3-0.8-100.9" fill="none" stroke="#b8b8b8" stroke-width="0.55"/>
<path d="M59.2 415.1l81.8-71.2 0-101.4" fill="none" stroke="#b8b8b8" stroke-width="0.55"/>
<path d="M78.8 421.5l80.8-72.2 0.8-101.9" fill="none" stroke="#b8b8b8" stroke-width="0.55"/>
<path d="M98.8 428l79.6-73.3 1.6-102.3" fill="none" stroke="#b8b8b8" stroke-width="0.55"/>
<path d="M119 434.6l78.5-74.3 2.5-102.9" fill="none" stroke="#b8b8b8" stroke-width="0.55"/>
<path d="M139.6 441.3l77.3-75.4 3.3-103.3" fill="none" stroke="#b8b8b8" stroke-width="0.55"/>
<path d="M160.5 448.2l76-76.6 4.2-103.8" fill="none" stroke="#b8b8b8" stroke-width="0.55"/>
<path d="M28.1 298.2l5.1 106.7 141.5 46.1" fill="none" stroke="#b8b8b8" stroke-width="0.55"/>
<path d="M43.3 287.1l4.4 105.6 140.1 44.8" fill="none" stroke="#b8b8b8" stroke-width="0.55"/>
<path d="M58.1 276.3l3.6 104.7 138.9 43.5" fill="none" stroke="#b8b8b8" stroke-width="0.55"/>
<path d="M72.4 265.8l3 103.7 137.5 42.3" fill="none" stroke="#b8b8b8" stroke-width="0.55"/>
<path d="M86.4 255.7l2.3 102.6 136.3 41.2" fill="none" stroke="#b8b8b8" stroke-width="0.55"/>
<path d="M99.9 245.8l1.7 101.7 135 40" fill="none" stroke="#b8b8b8" stroke-width="0.55"/>
<path d="M113.1 236.2l1.1 100.7 133.8 38.9" fill="none" stroke="#b8b8b8" stroke-width="0.55"/>
<path d="M249.4 359l-134.6-38.3-83.9 68.9" fill="none" stroke="#b8b8b8" stroke-width="0.55"/>
<path d="M250.1 343.2l-135.5-37.9-84.5 68.1" fill="none" stroke="#b8b8b8" stroke-width="0.55"/>
<path d="M250.9 327.1l-136.4-37.3-85.2 67" fill="none" stroke="#b8b8b8" stroke-width="0.55"/>
<path d="M251.6 310.7l-137.3-36.7-85.8 66.1" fill="none" stroke="#b8b8b8" stroke-width="0.55"/>
<path d="M252.4 294.2l-138.3-36.2-86.4 65.1" fill="none" stroke="#b8b8b8" stroke-width="0.55"/>
<path d="M253.1 277.4l-139.2-35.6-87 64.1" fill="none" stroke="#b8b8b8" stroke-width="0.55"/>
<path d="M31.7 406.1l141.7 46.3" fill="none" stroke="#222" stroke-width="0.65" stroke-linecap="square"/>
<path d="M40.6 408.1l-2.2 1.9" fill="none" stroke="#222" stroke-width="0.65" stroke-linecap="square"/>
<text x="35.8" y="421.4" font-size="6.39" text-anchor="middle" fill="#262626" dy="1.2">0</text>
<path d="M59.9 414.5l-2.1 1.8" fill="none" stroke="#222" stroke-width="0.65" stroke-linecap="square"/>
<text x="55.1" y="427.8" font-size="6.39" text-anchor="middle" fill="#262626" dy="1.2">100</text>
<path d="M79.6 420.9l-2.2 1.9" fill="none" stroke="#222" stroke-width="0.65" stroke-linecap="square"/>
<text x="74.8" y="434.3" font-size="6.39" text-anchor="middle" fill="#262626" dy="1.2">200</text>
<path d="M99.5 427.4l-2.1 1.9" fill="none" stroke="#222" stroke-width="0.65" stroke-linecap="square"/>
<text x="94.8" y="440.9" font-size="6.39" text-anchor="middle" fill="#262626" dy="1.2">300</text>
<path d="M119.7 434l-2 1.9" fill="none" stroke="#222" stroke-width="0.65" stroke-linecap="square"/>
<text x="115.0" y="447.6" font-size="6.39" text-anchor="middle" fill="#262626" dy="1.2">400</text>
<path d="M140.3 440.7l-2.1 2" fill="none" stroke="#222" stroke-width="0.65" stroke-linecap="square"/>
<text x="135.6" y="454.3" font-size="6.39" text-anchor="middle" fill="#262626" dy="1.2">500</text>
<path d="M161.1 447.5l-2 2" fill="none" stroke="#222" stroke-width="0.65" stroke-linecap="square"/>
<text x="156.5" y="461.2" font-size="6.39" text-anchor="middle" fill="#262626" dy="1.2">600</text>
<text x="91.4" y="449.1" font-size="6.39" text-anchor="middle" transform="rotate(-341.9 91.4 449.1)" fill="#262626" dy="1.2">Wave Band</text>
<path d="M248.7 375.1l-75.3 77.3" fill="none" stroke="#222" stroke-width="0.65" stroke-linecap="square"/>
<path d="M173.5 450.6l3.6 1.2" fill="none" stroke="#222" stroke-width="0.65" stroke-linecap="square"/>
<text x="181.7" y="462.4" font-size="6.39" text-anchor="middle" fill="#262626" dy="0.6">0</text>
<path d="M186.7 437.2l3.5 1.1" fill="none" stroke="#222" stroke-width="0.65" stroke-linecap="square"/>
<text x="194.7" y="448.9" font-size="6.39" text-anchor="middle" fill="#262626" dy="0.6">20</text>
<path d="M199.4 424.1l3.5 1.1" fill="none" stroke="#222" stroke-width="0.65" stroke-linecap="square"/>
<text x="207.4" y="435.7" font-size="6.39" text-anchor="middle" fill="#262626" dy="0.6">40</text>
<path d="M211.8 411.4l3.5 1.1" fill="none" stroke="#222" stroke-width="0.65" stroke-linecap="square"/>
<text x="219.7" y="422.9" font-size="6.39" text-anchor="middle" fill="#262626" dy="0.6">60</text>
<path d="M223.8 399.1l3.4 1.1" fill="none" stroke="#222" stroke-width="0.65" stroke-linecap="square"/>
<text x="231.6" y="410.4" font-size="6.39" text-anchor="middle" fill="#262626" dy="0.6">80</text>
<path d="M235.5 387.1l3.4 1.1" fill="none" stroke="#222" stroke-width="0.65" stroke-linecap="square"/>
<text x="243.2" y="398.4" font-size="6.39" text-anchor="middle" fill="#262626" dy="0.6">100</text>
<path d="M246.8 375.5l3.4 1" fill="none" stroke="#222" stroke-width="0.65" stroke-linecap="square"/>
<text x="254.4" y="386.6" font-size="6.39" text-anchor="middle" fill="#262626" dy="0.6">120</text>
<text x="228.4" y="428.2" font-size="6.39" text-anchor="middle" transform="rotate(-45.7 228.4 428.2)" fill="#262626" dy="0.6">Sample ID</text>
<path d="M248.7 375.1l4.7-104.1" fill="none" stroke="#222" stroke-width="0.65" stroke-linecap="square"/>
<path d="M248.3 358.7l3.4 1" fill="none" stroke="#222" stroke-width="0.65" stroke-linecap="square"/>
<text x="259.4" y="361.8" font-size="6.39" text-anchor="middle" fill="#262626">0.1</text>
<path d="M249 342.8l3.4 1" fill="none" stroke="#222" stroke-width="0.65" stroke-linecap="square"/>
<text x="260.1" y="345.9" font-size="6.39" text-anchor="middle" fill="#262626">0.2</text>
<path d="M249.7 326.7l3.4 1" fill="none" stroke="#222" stroke-width="0.65" stroke-linecap="square"/>
<text x="261.0" y="329.8" font-size="6.39" text-anchor="middle" fill="#262626">0.3</text>
<path d="M250.4 310.4l3.5 1" fill="none" stroke="#222" stroke-width="0.65" stroke-linecap="square"/>
<text x="261.8" y="313.5" font-size="6.39" text-anchor="middle" fill="#262626">0.4</text>
<path d="M251.2 293.9l3.5 0.9" fill="none" stroke="#222" stroke-width="0.65" stroke-linecap="square"/>
<text x="262.6" y="297.0" font-size="6.39" text-anchor="middle" fill="#262626">0.5</text>
<path d="M252 277.1l3.5 0.9" fill="none" stroke="#222" stroke-width="0.65" stroke-linecap="square"/>
<text x="263.4" y="280.2" font-size="6.39" text-anchor="middle" fill="#262626">0.6</text>
<text x="274.4" y="321.3" font-size="6.39" text-anchor="middle" transform="rotate(-87.4 274.4 321.3)" fill="#262626">Spectrum Value</text></g>
<g fill="none" stroke-width="1.00" stroke-linecap="square" stroke-linejoin="round"><path d="M41.2 406.3l0-9.3 0.1-3.2 0.1-2.1 0.1-0.4 0.1-2.3 0.4 3.3 0.2 1.5 0.2-0.7 0.2 0 0.1-0.3 0.2 0.4 0.2-0.3 0.4 3.4 0-4.4 0.3 2.6 0.2 1.2 0.1-3.1 0.1-1.1 0.3 1.5 0.2 0.7 0.3 2.1-0.1-6.7 0.7 7.4 0.1-0.6 0.2-1.3 1.2 6.1 0.2 1.5 0.3 0.8 0.4 0.7 0.4 0.4 0.4 0.6 0.9-0.1 1 0.3 1 0.1 1.9-0.1 1 0.5 0.9 0.2 1 0.3 1-0.2 0.9 0.7 1-0.1 1 0.4 1 0.3 0.9 0.5 1 0.3 1-0.1 1 0.4 1 0.5 0.9-0.1 1-0.3 0.9-0.4 1-1.5 0.9-1.1 1-1.4 0.9-1.2 0.9-1.4 1-0.5 1 0.1 1 0.3 1 0.5 1 2 1.1 2.6 1 1.5 1 1.1 2 1.1 1 0.8 1.1 1 1 0.4 1 0.1 1 0.5 1 0.9 1 0.7 2 1 1 0.7 1 0.7 1 0.7 1 0.4 1 0.9 2.1 0.8 0.6-0.1 0.6-0.1 0.6-0.1 0.5-1.2 0.6-0.6 0.6-1.5 1.1-4.3 1.1-10.3 3.1-38.3 1.1-10.6 0.6-5 0.5-3.8 0.6-2.4 0.7-1.7 0.6-1 0.6-0.1 0.6 0.1 0.7 0 0.4-0.4 1.5 0 2.9 0.9 3 0.6 1.5 0.4 1.5 0.3 4.5 1.2 1.5 0.4 1.5 0.8 3 1.8 4.5 3.5 1.5 1.3 1.5 1.5 3 3.4 3 3.6 1.6 1.9 3 5.3 3 5.6 2.9 6.2 1.5 2.9 3 6.2 0.9 2.1 0 0" stroke="#0d0887"/>
<path d="M42.4 405.3l0.2-10.4 0.1-1 0.3-1.1 0.3 2.3 0.2-0.6 0.1-1.3 0.2-0.8 0.2 1.2 0.1-3.7 0.4 4.8 0.1-1.9 0.1-0.4 0.3 2.6 0.3 1.3 0.2 0.8 0.2-3.9 0.3 1.6 0.2 0.2 0.2 1.1 0.2-1.5 0.3 4.8 0.1-4.1 0.2 0.6 0.9 4 0.5 2.7 0.2 0.7 0.4 0.7 0.8 0.8 1 0 1 0.5 0.9-0.2 1 0.1 0.9 0.2 2 0.8 0.9-0.3 1 0 1 0.6 1 0.4 0.9 0.2 1-0.5 1 0.8 1 0.5 0.9 0.4 1 0.2 1 0.4 1 0.1 0.9-0.6 1-0.2 0.9-1.2 1-1 0.9-1.7 1-0.8 0.9-1.1 1-0.1 1 0 1 0.7 1 0.4 1 1.4 1 2.1 1 1.3 1.1 1 1 0.8 2 1.5 1 0.9 4 1.8 1 1.1 1 0.5 1 1 1-0.1 1 0.7 1 0.3 1 0.7 1 0 1 0.3 1 0.6 0.7 0.6 0.6 0.2 0.6-0.3 0.5-1.1 0.6-0.4 0.6-1.6 1.1-4.4 1.1-10.5 1.6-18.6 1.5-19.6 0.6-5.9 1.1-10.9 0.6-4.2 0.5-3.1 0.7-1.5 0.6-1.1 0.6 0 0.6-0.1 0.7 0 0.4-0.1 1.5 0.1 1.4 0.3 1.5 0.5 3 0.6 3 0.5 1.5 0.3 1.5 0.4 3 1 1.5 0.6 1.5 0.6 1.5 0.7 1.5 0.8 4.5 3 3 2.1 1.5 1 4.5 3.4 3.1 3.7 3 4 4.5 6.4 3.9 5.4 0 0" stroke="#19068c"/>
<path d="M43.7 404.2l-0.1-9.7 0.1-3.2 0.1-0.7 0.1-3.5 0.4 5.1 0.1-1.6 0.2-0.5 0.1-2.2 0.1-0.7 0.4 4.5 0.5 2.2-0.1-5.4 0.4 2.6 0.2 1.1 0.1-0.9 0.4 4.5 0.2-1.4 0-4.6 0.2 1.1 0.2 0.5 0.3 2.2 0.2-4.8 0.4 5.5 0.1-2 0.7 3.1 0.5 2.8 0.2 1.6 0.3 0.7 0.4 0.8 0.4 0.4 0.4 0.1 0.9 0.7 1 0.3 1 0.2 0.9 0 1 0.1 1.9 0 1 0.1 1 0.5 0.9-0.1 1 0.7 1-0.1 1 0.6 0.9-0.3 1 0.3 0.9-0.3 1 0.8 1 0.4 1 0 1 0.3 0.9-0.1 1-1.4 0.9-2.1 0.9-1.9 1-0.8 0.9-1.1 1-0.4 1 0.2 2 1.8 1 1.6 2.1 3.9 1 1.4 1 1.1 1-0.3 1 0.3 1 0.6 1 1.2 1 0 1 0.7 1-0.2 1 0.8 1 0.4 1 1.2 1.1 1 1 0.8 1 0.4 1 0.5 1 0.1 1 0.3 1-0.3 0.6 0.3 0.6 0.1 0.6 0.2 0.6-0.6 0.6-0.4 0.6-1.2 1.1-4.8 2.6-29.7 1.6-19.1 0.5-5.6 1.2-10 0.5-3.7 0.6-2.5 0.7-1.5 0.6-1.1 0.6-0.2 0.6-0.3 0.7 0 0.4 0 1.5 0.3 1.4 0.4 3 0.3 1.5 0.3 5.9 1.7 1.5 0.4 1.5 0.4 1.5 0.6 3 1.7 3 1.9 1.6 1 3 2.2 3 2.9 1.5 1.5 1.5 1.3 1.5 1.5 6 9.2 1.5 2.6 1.5 2.4 1.5 2.6 3.8 6.2 0 0" stroke="#220690"/>
<path d="M44.9 403.2l-0.1-9.6 0.1-3.3 0.2-0.2 0.3-2.3 0.2 1.8 0.1-3 0.4 4.4 0-3.8 0.3 3.9 0.3-2 0.1-2.9 0.6 4.6 0.1-3 0.3 2.8 0.2 1.1 0.1-2.1 0.2 0.8 0.2-1.4 0.3 2.7 0.1-1.5 0.2-0.4 0.4 1.6 0.7 3.1 0.5 2.8 0.3 1.6 0.2 0.8 0.4 0.7 0.4 0.5 0.4 1 0.9-0.3 1-0.1 0.9-0.2 1 0.1 1 0.3 1.9 1.1 1-0.3 0.9-0.3 1-0.1 1 0.8 1.9 0.9 1 0.3 1 0.7 1 0.2 1 0.2 0.9-0.3 1-0.1 0.9-0.5 1-0.1 0.9-1.5 1-0.8 0.9-1.2 1.9-2.7 1-0.9 1 0.1 1 0.4 1 0.7 1 2.3 1 2.4 1.1 1.8 1 1.1 1 0.7 1 0.4 1 0.1 1 0.8 1-0.1 1 0.7 1 0.4 1 1.2 1 0.7 2 1.6 1 0.5 1 0.2 1 0.4 2 1.6 1 0.2 1 0 0.6-0.2 0.7 0.4 0.5-0.7 0.6-0.3 0.6-0.5 0.6-1 0.6-2.3 0.6-1.8 1-11.1 2.1-26.7 1.1-13 0.5-5.8 1.1-10.3 0.6-4 0.6-2.7 0.6-1.5 0.6-1 0.7-0.1 0.6-0.3 0.6-0.2 0.5 0.1 1.4 0.1 1.5 0.4 1.5 0.1 1.5 0.3 1.5 0.1 2.9 0.8 1.5 0.5 1.5 0.5 3 0.7 1.5 0.7 1.5 0.9 4.5 2.3 4.5 3 1.5 1.1 1.6 1.4 3 2.5 1.5 1.1 3 3.7 1.5 2.1 1.5 2.1 6 8.8 2.4 3.5 0 0" stroke="#2c0594"/>
<path d="M46.1 402.2l0-11.8 0.3 0.7 0.1-1.5 0.2-0.3 0.2-0.1 0.2 0.6 0.1-0.7 0.2-0.1 0.2-0.8 0.3 2.4 0.4 1.3 0.1-2.8 0.2 1.2 0.2-1 0.2 0.2 0.1-2 0.3 2.7 0.1-0.8 0.4 3.5 0.1-0.1 0.2-1.2 0.2 1.7 0.1-3.3 0.3 3.8 0.2-1.4 0.7 3.2 0.5 3 0.2 0.7 0.4 0.7 0.4 0.4 0.4 0 0.9-0.2 1 1 1 0.2 0.9 0 1-0.5 0.9 0.1 2 1 1.9 0.4 1 0.1 1 0.4 0.9 0 1 0.6 1 0.1 1 0.8 0.9-0.3 1 0 1-0.5 0.9-0.1 1 0.5 1-1.4 0.9-1.3 0.9-1.6 1-0.6 1.9-1.6 1-0.1 1 0.4 1 1.5 1 1.8 1.1 1.9 1 0.6 2 2.1 1 0.4 1 0.7 1 0.3 1 1.2 1 0.7 1 1.1 1 0.8 1 0.6 1 0.3 1-0.2 2 0.9 1 0.7 1 0.6 1 0.8 1 0.5 1-0.1 0.6 0.4 0.6-0.1 0.6-0.1 0.6-1.2 0.6-0.2 0.6-1.3 0.6-1.8 0.5-2.5 0.6-5.2 1.5-18.3 2.2-26 0.5-5.8 1.2-10.1 0.5-4 0.6-2.7 0.6-1.6 0.7-0.9 0.6-0.1 0.6-0.4 0.6 0 0.5-0.1 1.4 0.4 1.5 0 3 0.6 3 1 1.4 0.5 1.5 0.2 3 0.6 1.5 0.5 1.5 0.8 4.5 2 1.5 1 1.5 1 3 2.3 1.5 1.4 1.5 1.3 1.5 1.1 1.5 1.3 1.5 1.4 1.5 2 1.5 1.8 3 4.1 1.5 2.4 1.5 2 1.5 2.5 1.5 2.2 1.5 2.6 0.9 1.2 0 0" stroke="#330597"/>
<path d="M47.3 401.2l0-13.6 0-3 0.3 2.6 0.2-0.9 0.1-2.7 0.6 5.4 0.2-3.4 0.3 1.6 0.1-2.3 0.2-0.1 0.3 3.5 0.2-0.2 0.1-0.6 0.3 2.1 0.1-2.7 0.2 1.1 0.2-1.6 0.2 2.5 0.3 0.6 0-4.7 0.4 4.9 0.1-0.4 0.2 0.5 0.2-0.1 0.7 3.6 0.5 3.4 0.3 0.8 0.4 0.8 0.4 0.5 0.4 0.6 1 0.6 0.9 0.1 1 0 0.9-0.5 1 0.4 0.9 0.1 1 0.2 1 0.3 1 0.7 0.9 0.2 1 0 0.9-0.4 1-0.2 1 0.2 1 0.6 0.9 0.7 1-0.1 1 0.4 1.9-0.7 1-0.6 0.9-1.1 1.9-3.2 0.9-1.1 1-1.5 0.9-0.6 1-0.4 1 1 1 0.8 1 1.7 1.1 2.5 1 1.8 1 1.5 1 1.3 1 0.4 1 0.5 1 0.3 1 0.2 1 0.7 1 0.6 1 1.1 2 0.5 1 0.6 1 0.6 1 1.2 1.1 1 1 1.1 1 0.8 1 0.2 1-0.1 0.6-0.5 0.6-0.3 0.6-0.5 1.1-0.9 0.6-1.2 1.2-4.6 1.6-17.5 1-12.7 1.1-13 0.5-6.4 0.6-5.3 1.1-9.4 0.6-3.2 0.6-1.9 0.6-1.6 0.7-1.1 0.6-0.2 1.7-0.5 1.4 0.3 3 0.7 1.5 0.2 1.5 0.5 2.9 0.9 3 0.6 3 0.7 3 1.6 1.5 0.8 1.5 0.6 1.5 0.8 1.5 0.9 1.5 1 1.5 0.9 3 1.5 1.5 1 3 2.3 1.5 1.6 1.5 1.8 6 7.8 3 3.7 2.4 3.1 0 0" stroke="#3a049a"/>
<path d="M48.5 400.2l0.1-11.6 0.1-0.3 0.3 2.3 0-5.6 0.4 4.7 0.1-1.6 0.2 0.1 0.2 0.1 0.2 0 0.2 2.2 0.1-3.4 0.2 1 0.2 0 0.1-1.7 0.2 0.1 0.2-0.4 0.2-0.8 0.3 2.6 0.3 3.6 0.1-3 0.2 0.5 0.2 0 0.2 1.3 0.2 0.6 0.1-2.8 0.3 2.5 0.7 3.1 0.5 3 0.2 0.7 0.4 0.7 0.8 0.8 1.9 0.7 1-0.2 0.9 0.4 1-0.3 1 0.1 0.9-0.2 2 0.8 0.9 0.5 1 0.5 1 0 1.9 0.5 1 0.1 0.9 0 1 0.2 1 0.4 1 0 0.9-0.7 1 0.2 0.9-0.7 1-1.1 1.9-2.7 0.9-1 1-0.9 0.9 0 1 0.5 1 0.3 1.1 1.6 2 3.8 1 0.9 1 1.4 1 0.5 1 0.6 2 0.4 1 0.5 1 0.6 1 1.4 1 0.7 2 0.9 2 1.7 1 0.5 1 0.4 1 0.6 1-0.1 1 0.3 0.6 0.1 0.6 0.6 1.2-1.5 1.2-2.2 0.6-2.1 0.5-1.6 1.1-11.5 3.2-39.7 0.6-6.2 1.1-11.1 0.6-4.3 0.6-3.1 0.6-1.8 0.6-0.9 0.6 0 1.3-0.2 0.4-0.2 1.5 0.1 1.5 0.2 1.4 0.2 3 0.7 1.5 0.5 3 0.7 1.5 0.3 1.5 0.4 1.4 0.6 1.5 0.8 1.5 0.6 4.5 2.9 1.5 1 1.5 1.1 3 3 1.5 1.4 1.5 1.6 1.5 1.6 1.5 2 3 4.8 1.5 2.4 1.5 2.6 4.5 8.5 1.5 2.6 2.3 4.5 0 0" stroke="#43039e"/>
<path d="M49.7 399.2l0-12.1 0.2 0.3 0.2-0.4 0.2 0.1 0-4 0.3 2.7 0.2-0.3 0.3 1.3 0.2 0.5 0.2 0.7 0-4.1 0.4 5.8 0.1-3.5 0.4 1.2 0.3 2.4 0.2-0.5 0-3.8 0.3 3.1 0.1-2.7 0.2 0.5 0.2 0.2 0.2-0.2 0.3 3.6 0.2-1.1 0.2 0.2 0.7 3.2 0.5 3 0.2 0.7 0.4 0.7 0.4 0.4 0.4 1 1 0.3 0.9-0.4 1.9 0.6 1 0.2 0.9-0.2 1 0.2 1.9-0.3 1 0.1 1.9 1.4 1 0.5 1 0 1.9 0.3 1 0.5 1-0.1 0.9-0.3 1-0.6 1 0.1 0.9-1.2 0.9-1 1-1.1 0.9-0.8 1-1.4 0.9-0.8 1 0 1 0.6 1 0.7 1 1.5 1.1 2.2 1 1.4 1 1.1 1 1 1 0.6 1 0.3 1 0.1 1 0.2 1 0.6 2 2.1 1 0.9 1 0.4 1 1.2 1 0.5 1 1.2 1-0.1 2 0.5 1 0.9 1 0.1 0.6-0.4 0.6-0.5 0.6-0.3 0.6-0.2 0.6-0.9 0.5-1.3 0.6-2.2 0.6-1.9 1.1-11.1 1-12.2 2.2-26 0.6-5.8 1.1-10.5 0.6-3.9 0.6-2.7 0.6-1.4 0.6-0.9 0.7-0.2 1.6-0.6 1.5 0.1 2.9 0.7 3 0.6 7.4 1.9 1.5 0.2 3 1.5 1.5 1.1 1.5 0.8 1.5 1.1 1.5 0.9 3 2.5 6 5.9 1.5 1.6 1.5 2.2 4.5 7.1 4.4 8.2 1.5 2.5 2.3 4.2 0 0" stroke="#4903a0"/>
<path d="M50.9 398.2l0-8.7 0.1-2.9 0.2 0.5 0.1-1.9 0.2 0.9 0.1-2.3 0.2 1 0.3 1.5 0-3.4 0.3 2.1 0.2 0.2 0.3 2.3 0.1-2.1 0.3 3.4 0.1-3.3 0.3 2.6 0.1-1.9 0.2 0.9 0.2-0.8 0.2-0.1 0.2 0.8 0.2 0.1 0.3 2.7 0.2 0.8 0-5.5 0.2 1.4 0.3 2 0.7 3.1 0.5 2.8 0.2 0.7 0.4 0.7 0.4 0.4 0.4 0.1 0.9 0.5 1 0 1 0.5 0.9-0.1 1 0.2 0.9-0.2 1.9 0.6 1-0.1 1 0.4 0.9 0 1 0.7 4.9 1.5 0.9-0.2 2-0.7 0.9 0.1 1-1.3 0.9-1.4 0.9-1.2 1-0.9 1-0.8 0.9-0.1 1 0 1 0.5 1 0.3 1 1.7 1 1.9 1 1.5 1.1 1 1 0.8 1 0.7 0.9 0.5 1.1 1 0.9 0.2 1 0.7 1 0.4 2 1.7 2 1.4 1 0.3 1 0.6 1 0.4 1 0.6 1 0.5 2 0.4 0.6 0.1 0.6 0.5 1.2-0.8 0.6-1 0.6-1.2 0.6-2.7 0.5-2.3 1.1-10.7 1.6-18.2 2.2-25.9 1.2-11.2 0.6-4.3 0.6-2.7 0.6-1.7 0.6-0.9 0.6-0.3 1.3-0.4 0.4 0 2.9 0.4 1.5 0.3 1.5 0.2 1.5 0.5 4.4 1 1.5 0.3 1.5 0.3 1.5 0.5 1.5 0.8 3 1.8 4.5 3.3 1.5 1.3 4.4 4.2 4.5 5.1 3 4.8 3 4.9 1.5 2.8 1.4 3.1 5.3 10.2 0 0" stroke="#5002a2"/>
<path d="M52 397.1l0.1-8.3 0.1-2.9 0.1-0.6 0.2 0.4 0.2-0.8 0-5.6 0.6 6.4 0.2-1 0.1-1.4 0.4 2 0.3 0.5 0.2 1.7 0.1-3.1 0.1-0.6 0.2-1.9 0.3 5 0.2-2 0.2 1.3 0.1-2.1 0.3 2.4 0.2 1.1 0.3 1.9 0-4.1 0.7 3.4 0.5 2 0.5 2.8 0.2 0.7 0.4 0.7 0.4 0.4 0.4 0.3 0.9 0.4 1 0.6 1 0.1 0.9-0.3 0.9 0 1 0.4 1 0.2 1 0.5 0.9-0.1 1 0.3 0.9-0.1 1 0.5 1 0 1 0.7 1.9 0.6 1-0.1 0.9-0.2 1 0 1-0.2 0.9 0 1-1.1 0.9-1.5 1.9-1.7 0.9-1 1-0.8 1 0 2 1.5 1 1.1 1 2 1 1.2 1 2 1 1.1 1 0.5 1-0.4 1 0.2 1 0.6 1 0.8 1 0.4 1 1 1 0.6 1 0.9 1 0.5 1 0.8 1 0.4 3 1.8 2.6-0.2 0.6 0.1 0.6-0.4 0.6-0.9 0.6-0.2 0.6-1.1 0.5-1.9 0.6-2.3 1.1-10.4 1.1-12.6 0.5-6.5 1.1-12.2 0.6-6.7 0.5-6 1.2-10.8 0.6-4.2 0.6-2.8 0.6-1.6 0.6-0.8 0.6-0.1 0.6-0.3 0.7-0.1 0.4-0.1 1.5 0.3 2.9 0.6 3 0.6 2.9 0.4 1.5 0.4 1.5 0.6 1.5 0.3 1.5 0.5 1.5 0.7 1.4 0.9 1.5 0.6 1.5 1 1.5 1.1 6 5.4 1.5 1.5 1.5 1.7 1.5 1.8 1.5 1.7 1.4 2.4 4.5 7.8 5.9 11.3 2.3 4.5 0 0" stroke="#5801a4"/>
<path d="M53.2 396.1l0.1-12.7-0.1-7.4 0.4 4.9 0.3 2.7 0.1-1.3 0.2 0.8 0.2-1.9 0.1-0.3 0.7 3.2 0.1-4 0.2 1 0.5 7.2 0-5.2 0.2 1.7 0.2-0.7 0-3.5 0.4 5.1 0.2-0.1 0-6.1 0.3 5.3 0.2-0.3 0.1-2.4 0.3 3.2 0.2 0.1 0.7 3.5 0.5 3.1 0.2 0.8 0.4 0.8 0.4 0.4 0.4 0.2 1 0.2 0.9 0 1-0.2 0.9 0.2 1 0.4 1 1 1 0.3 0.9 0.3 1-0.1 1 0.5 0.9 0.2 1.9-0.1 1-0.4 1 0.5 0.9 0.2 1 0.9 1 0.2 1-0.1 0.9-0.5 1-0.2 0.9-1.6 0.9-1.2 1-1.9 0.9-0.9 1-1.5 0.9-0.7 1 0 1 0.5 1 1.4 1 2 1.1 2.4 1 0.7 1 1 1 1.1 1 0.5 1.9 0.9 1 1.1 2 1.1 2 1 1 0.8 1 0.5 2 1.3 1 0.5 1 0.3 1 0.4 1 0.9 1 0.4 0.6 0.2 0.6-0.8 0.6-0.4 0.6-0.5 0.6-0.3 0.6-1.4 1.1-4.3 0.6-5.3 1.6-19 2.2-26.5 1.1-11.2 0.6-5.4 0.6-3.9 0.6-2.6 0.6-1.7 0.6-1.1 1.3-0.2 0.6-0.1 0.4-0.2 1.5 0.2 1.5 0.3 1.5 0.2 1.4 0.4 1.5 0.3 1.5 0.5 1.5 0.3 1.5 0.4 2.9 0.5 1.5 0.4 1.5 0.7 3 1.7 1.5 1 4.5 2.5 3 2.2 4.5 3.7 1.5 1.1 1.5 1.9 1.4 2.3 3 4.2 3 4.2 1.5 2.2 1.5 2.1 2.3 3.6 0 0" stroke="#5e01a6"/>
<path d="M54.4 395.1l0-9.6 0.1-3.4 0.1-2.2 0.2 0.8 0.2 0.1 0.3 2.2 0.2-0.2 0.1-0.4 0.3-2.9 0.4 4.7 0.1-2 0.2 0 0-4.4 0.4 4.4 0.2 0.7 0.1-2.1 0.3 3.3 0.1-2.8 0.3 4 0-6.4 0.3 3.8 0.2 0.7 0.3 1.7 0.1-1.9 0.2-0.2 0.9 4.5 0.5 3.2 0.2 0.8 0.4 0.7 0.4 0.5 0.4 1.3 1 0 0.9-0.2 1-0.5 0.9-0.3 1.9 0.6 1 0.6 1 0.3 0.9 0.1 1-0.1 1 0 0.9 0.8 2 0.6 0.9-0.1 1 0.4 1.9 0.1 1 0.1 1-0.7 0.9-0.1 0.9-1.6 1-1.1 0.9-1.3 1-1.2 0.9-0.7 1-0.9 1 0.2 0.9-0.1 1.1 1.2 1 1.5 1 2.6 1 1.5 1 0.8 1 1.2 1 0.2 1 0.9 4 2.6 1 0.5 1 0.4 1 0.7 2 2.1 1 0.2 1 0 1 0.7 1 1.1 1 0.4 1-0.3 0.6-0.8 0.6 0.5 0.6-0.3 1.1-1.2 0.6-1.4 0.6-2.3 0.6-2.5 1.1-11.4 1.6-19.2 2.2-26.4 1.2-10.7 0.6-4.2 0.6-2.6 0.6-1.9 0.6-0.9 0.6-0.2 0.7 0 1-0.5 1.5 0.1 2.9 0.6 1.5 0.4 1.5 0.2 1.5 0.6 1.4 0.3 1.5 0.4 1.5 0.3 1.5 0.5 1.5 0.5 1.5 0.6 1.5 0.6 1.5 0.7 1.5 0.9 1.4 1 1.5 1 3 2.1 4.5 3.6 3 2.7 3 4.1 3 4.3 4.4 7.1 3.8 5.7 0 0" stroke="#6400a7"/>
<path d="M55.6 394.1l0-10 0.1-3.3 0.1-0.2 0.1-2.2 0.3 1.4 0.2 0.4 0.2-0.2 0.1-1.4 0.3 3.4 0.2-0.3 0.1-3.3 0.3 3.1 0.1-1.5 0.3 2.8 0.2-4.2 0.3 1.9 0.2-0.1 0.2 1.2 0.2-0.8 0.3 3.4 0.2-0.1 0-3.5 0.4 3.9 0-5.3 0.2 1.1 0.3 2.5 0.7 3.4 0.5 3.2 0.2 0.8 0.4 0.7 0.4 0.5 0.4 1.3 0.9 0 1 0.1 0.9-0.5 1.9 0 1 0.5 1 0.4 0.9 0.2 2 0.7 1.9-0.2 1 0.5 0.9 0.2 1 0.3 1-0.1 0.9 0.4 1 0 1-0.5 0.9-0.2 1 0 0.9-0.7 1-1.5 0.9-1.6 0.9-1.5 1-1.3 0.9-0.6 1-0.1 1 0.3 1 0.8 1 2.2 1.1 2.5 1 2.1 1 0.6 1 1.2 1 0.1 0.9 0.2 1 0.4 1 0.2 1 0.7 1 0.4 1 1 1 0.9 1 1.1 1 0.1 1 0.7 1 0.5 1 0.7 1 0.3 1 0.6 1 0.3 1 0.2 0.6-0.4 0.6 0.3 0.6-0.3 0.6-0.3 0.6-0.9 0.6-0.9 1.1-4.3 1.1-11.5 1.1-12.6 1.1-12.9 1.7-18.6 1.2-10.2 0.6-3.8 0.6-2.4 0.6-1.5 0.6-1.2 0.6-0.1 0.7-0.3 0.6 0 0.4-0.1 1.5 0.2 2.9 0.7 4.4 0.9 4.5 0.7 1.5 0.5 1.4 0.6 3 1.4 1.5 0.9 1.5 1 3 2.2 1.5 1.4 1.5 1.2 1.4 1.6 1.5 1.4 3 3.2 1.5 1.9 1.5 2.4 2.9 5.3 4.4 7.9 5.3 10.1 0 0" stroke="#6c00a8"/>
<path d="M56.8 393.1l0.1-10.7 0.3 1.1-0.1-6 0.3 3.1 0.2-0.9 0.2-0.1 0.3 2.5 0.3-1.3 0.2 0.9 0.1-2.7 0.2 1.1 0.3 1.5 0.1-1.8 0.3 2.2 0.1-1.1 0.7 3.3 0.2-0.3 0.1-1.3 0.2-0.5 0.4 4.6 0-2.9 0.2-1.6 0.2 2.2 0.7 3 0.5 2.8 0.2 0.7 0.4 0.6 0.8 0.9 0.9-0.1 1-0.3 1 0.8 0.9 0.5 1 0.3 0.9 0 1-0.4 0.9 0 1 0 1 0.5 0.9 0.6 2.9 0.8 1 0.1 1.9 0.6 1 0.4 1 0 0.9-0.2 1-0.3 0.9-1.8 1-0.9 0.9-0.8 1-0.5 0.9-1.3 1-0.9 0.9-0.5 2 1.7 1.1 2.3 1 1.7 2 2 1 0.7 1 0.9 0.9 0.4 1 1.1 2 1 1 0.1 1 0.8 1 0.4 1 0.7 1 0.4 1 0.5 1 0.8 1 0.4 1 0.7 1-0.2 1 0.6 1 0.1 0.6 0.5 0.6 0.1 0.6-0.4 0.5-0.7 0.6-1 0.6-1.2 1.2-3.9 1.1-11.4 1.1-12.6 1.6-20.2 0.6-6.7 1.1-11.6 0.6-5.7 0.6-4.7 0.6-3 0.6-1.8 0.7-0.9 0.6-0.5 0.6 0 0.6-0.2 0.5 0.1 1.4 0.1 1.5 0.3 4.4 0.4 1.5 0.4 3 1 2.9 0.9 1.5 0.3 3 1.4 4.4 3 1.5 1.1 1.5 1.3 4.5 4.8 1.5 1.5 1.5 1.7 1.4 1.8 3 4.9 2.9 5.4 3 5.5 2.9 5.8 2.3 4.6 0 0" stroke="#7201a8"/>
<path d="M57.9 392.1l0.1-8.5 0.1-2.8 0.5 2.1 0-4.6 0.2 1.8 0.2-0.1 0.2 1 0.1-2.6 0.3 3.2 0.1-4.3 0.2 1.1 0.3 3.2 0.2-0.8 0.3-2.3 0.3 3.7 0.2-0.5 0-5.1 0.3 2.8 0.2 0.2 0.1-1.7 0.3 2.7 0.2 1.7 0.3 2.3 0-4.4 0.3 2.5 0.7 3 0.4 2.7 0.3 0.7 0.4 0.7 0.4 0.4 1.3 0.1 0.9 0.4 1 0.5 1 0.5 0.9-0.2 1 0.3 1.9 0.1 1 0.4 0.9 0.1 1 0.5 0.9-0.2 1 0.8 2 0.8 0.9-0.6 1 0.3 1.9 0.7 1-0.4 0.9-0.3 1-1.2 0.9-0.8 1-1.7 0.9-0.9 1-1.3 0.9-0.8 1 0 1 0.7 1 1.6 1 1.1 1 1.8 1 1.1 1 1.4 1 0.9 1 0.2 1 0.3 1 0.5 1 0.6 1.9 1.8 1 0.7 2 0.7 4 2.7 1 0.8 1 0.6 1 0.2 1 0 0.6-0.4 0.6 0 0.6-0.1 0.6-0.9 0.6-0.6 0.5-1.5 1.2-3.8 1.1-10 4-43 1.1-10.6 0.6-4 0.6-3 0.6-1.5 0.7-1.1 1.2-0.2 0.6-0.2 0.4-0.2 1.5 0 2.9 1 1.5 0.3 1.5 0.2 1.5 0.3 1.4 0.2 3 0.8 2.9 1 4.5 2.2 1.5 0.8 2.9 2 1.5 1.1 6 5 1.5 1.4 1.4 1.4 6 8.4 1.4 2.4 1.5 2.7 1.5 2.4 3.8 5.9 0 0" stroke="#7801a8"/>
<path d="M59.1 391.2l0.2-11.5 0.2 0.5 0-3.4 0.3 0.5 0.3 3.1 0.1-1.1 0.2-0.7 0.2 1.7 0.1-2.5 0.3 2.7 0.2-0.7 0.2 0.1 0.2 2.7 0.2 0 0.2-1.5 0-3.5 0.3 1.1 0.2 0.4 0.2 2 0.2-0.2 0.2-0.8 0.2-0.3 0.3 3.2 0.1-1.3 0.2 0.3 0.2-0.3 0.6 3.1 0.5 2.9 0.2 0.7 0.4 0.7 0.4 0.5 0.4 0.5 1.9 0 1-0.3 0.9 0.4 1 0.2 1 0.4 0.9-0.1 1 0.2 1.9 0.9 1 0 0.9-0.2 1 0.7 0.9 0.3 1 0.4 1 0 1 0.4 0.9 0.1 1-0.1 0.9-0.2 1-0.5 0.9-1.3 1-1.1 0.9-0.6 1.9-1.8 1-1.1 0.9-0.6 1 0.2 1 0.9 2.1 4.3 1 1.8 1 0.9 0.9 0.6 1-0.1 1 0.4 1 0.9 1 0.5 1 0.3 1 0.7 1 0.9 1 1 1 0.7 1 1 1 0.8 1 0.3 0.9 0.2 2 0.5 1 0.6 1 0.4 0.6 0.6 0.6-0.1 0.6-0.5 0.6-0.6 0.6-0.9 0.6-1.6 0.6-2.3 0.5-2 0.6-4.7 0.5-5.4 1.2-12.4 1.1-12.8 1.7-18.4 1.2-10.3 0.6-3.9 0.6-2.7 0.6-1.5 0.6-1 0.6 0 0.7-0.1 0.6 0 0.4-0.4 1.5 0.2 7.3 1.3 1.5 0.4 2.9 0.9 3 0.7 1.5 0.7 1.5 0.8 2.9 1.9 3 2.1 1.5 1.1 2.9 2.5 3 3.1 1.5 1.5 1.5 1.4 1.4 2.1 3 4.6 1.5 2.4 1.4 2.5 3 5.4 3.7 6.4 0 0" stroke="#8004a8"/>
<path d="M60.3 390.2l0-10.4 0.1-3.5 0.2 0.8 0.1-1.6 0.2-0.1 0.2-0.6 0.1-2.9 0.3 5.7 0.1-5 0.2 2.6 0.3 1 0.3 3.4 0-3.3 0.2-1.5 0.3 3.1 0.2 0.9 0.2-0.3 0.1-2.5 0.2 0.4 0.1-2.7 0.3 3.8 0.1-2.2 0.3 3.7 0.2-1.7 0.1-2.2 0.3 2.7 0.2 0.5 0.7 3.6 0.4 3.3 0.3 0.8 0.4 0.7 0.4 0.5 0.4 0.7 1.9 0.1 0.9 0.1 1 0.6 0.9 0.5 1 0.1 0.9-0.6 1 0 0.9 0.3 1 0.4 1-0.1 0.9-0.3 1 0.2 1 0.4 0.9 0.8 1 0.2 1 0.3 0.9 0 1 0.2 1-0.6 0.9-0.1 2.8-4 1-1.6 0.9-1.5 1-1.1 0.9 0 1 0.9 1 1.2 1 1.3 1 1.9 1 1.5 1.1 1.8 1 1.2 1.9 0.7 1 0.5 2 1.6 1 0.6 1 0.4 1 0.6 1 0.9 3 1.9 1 0.9 1 0.4 1 0.6 0.9-0.3 1 0.5 0.6-0.1 0.6 0.3 1.2-1.7 0.6 0 0.6-1.1 0.6-1.8 0.6-2.5 0.5-5.9 3.9-46 1.2-11.2 0.6-5.2 0.6-3.9 0.6-2.4 0.6-1.7 0.7-1.1 0.6-0.1 0.6-0.1 1 0 1.5 0.1 4.4 0.8 1.5 0.2 7.4 2 2.9 0.9 3 1.4 1.5 1.1 1.5 0.9 2.9 2.2 6 5.4 1.5 1.6 1.5 1.4 4.4 6.4 1.5 2.3 8.1 14.2 0 0" stroke="#8606a6"/>
<path d="M61.5 389.2l0-10 0.1-3.4 0.2 1.7 0.1-1.4 0.4-1.5 0.1-1.3 0.3 3.7 0.1-4.6 0.2 1.3 0.2 0.3 0.3 4.6 0.1-3.9 0.3 2 0.1-2.5 0.2 1.5 0.2 0.7 0.2 1 0.2-1.1 0.1-1.5 0.4 4.1 0.1-1.4 0.2-0.8 0.2 0 0.2 0.6 0.1-0.9 0.5 2.5 0.4 2.3 0.5 3.3 0.2 0.8 0.4 0.7 0.4 0.5 0.4 0.8 1-0.2 0.9-0.1 1-0.2 0.9 0.1 1 0.3 1.9 1.1 1 0.2 0.9 0.1 1 0.1 0.9 0.3 1-0.1 1 0.4 0.9 0.3 1 0.1 1-0.2 0.9-0.1 1 0.5 0.9-0.3 1-0.3 0.9-0.5 1.9-2.7 1.9-1.6 1-1.2 0.9-1 1-0.3 1 0.6 1 0.4 1 1.9 1 2.2 1 1.6 1 0.7 1 1.4 1 0.7 1 0.8 1 0.1 0.9 0.4 1 0.7 1 1.1 1 0.5 1 0.9 1 0.6 1 1 1 0.3 3 2 1 0.3 1 0.5 1.6 0.5 0.6-0.2 0.6-0.4 0.5-1.2 0.6-0.8 1.2-3.5 0.6-2.1 1.1-11.3 1.1-12.4 2.3-26.3 1.2-10.6 0.6-5.1 0.6-3.8 0.6-2.4 0.6-1.7 0.6-1 0.6-0.1 0.7 0 1-0.4 1.5 0.1 4.4 1.3 1.4 0.3 3 0.2 1.5 0.3 1.4 0.5 1.5 0.3 1.5 0.5 5.9 2.8 3 1.6 1.5 0.9 1.5 0.7 2.9 2 3 2.2 1.5 1 3 3.4 7.4 8.9 3.8 5 0 0" stroke="#8b0aa5"/>
<path d="M62.6 388.2l0.2-12.6 0.1-2.5 0.2 2.1 0.1-3.6 0.2 0.1 0.2-0.4 0.2 1 0.3 2.9 0-3.1 0.4 4.8 0.3-2.6 0.3 3.5 0-4.8 0.5 2.5 0.3 3.6 0.2-4.9 0.2 0.4 0.3 2.8 0.2 0.8 0.1-2.2 0.3 2.2 0.2 1 0.1-1.6 0.7 3.3 0.5 3.1 0.2 0.8 0.4 0.7 0.4 0.4 0.4 0.1 0.9 0.3 1.9 0.2 1.9 0.2 1 0.3 1 0.2 1.9 0.1 0.9 0.2 1 0.4 1 0 0.9 0.4 1 0.2 0.9 0.3 1-0.1 1 0.6 1 0.5 0.9 0 1-0.7 0.9 0.2 1-1.1 0.9-1.1 0.9-2 1.9-2.8 1-0.6 1.9 0.6 2 2.8 1.1 2.4 1 0.7 1.9 2.3 1 0.5 1 0.7 1 0.5 1 0.7 1 0.4 1 1.3 1 1 1 0.7 1.9 0.5 1 1 1 0.1 1 0.5 1 0.1 2 1.7 1 0.4 0.6 0.1 0.6-0.2 0.6-0.7 1.2-1.9 0.5-1.3 1.2-3.5 1.1-11 2.3-24.7 1.2-12.4 1.7-15 0.6-3.8 0.7-2.2 0.6-1.5 0.6-0.7 0.6-0.1 1.3-0.5 0.4 0 1.4 0.3 1.5 0.5 2.9 0.3 1.5 0.3 1.5 0.4 1.4 0.3 1.5 0.4 1.5 0.2 1.4 0.4 1.5 0.2 1.5 0.7 2.9 1.8 1.5 0.8 1.5 1.2 1.5 1.3 1.4 1.5 3 2.4 1.5 1.4 1.5 1.6 1.4 1.6 1.5 1.6 2.9 4.6 4.4 7.8 2.9 5.3 3.8 7.2 0 0" stroke="#920fa3"/>
<path d="M63.8 387.2l0-10.2 0.1-3.5 0.1-0.7 0.3 1.1 0.2-0.4 0.1-0.6 0.2 0.3 0.2-0.5 0.1-1.9 0.2 0.1 0.2-1 0.3 4.2 0.2-0.8 0.4 0.7 0.1-1.7 0.2-0.2 0.2 1.6 0.2-0.4 0.1-1.8 0.3 2.5 0.1-2 0.3 1.9 0.1-0.7 0.2-2.3 0.3 4.4 0.2 0.2 0.7 3.5 0.4 3.3 0.3 0.8 0.4 0.8 0.3 0.5 0.5 0.8 0.9 0.1 1.9-0.4 0.9 0.1 1 0.4 1 0.5 0.9 0 1 0.4 0.9-0.1 1 0.3 0.9-0.5 1 0 0.9 0.1 1 0.1 1 0.9 1.9 1.1 1 0.3 1 0 0.9-0.4 1-0.6 0.9-1.8 0.9-1.5 0.9-1.9 1.9-2.3 1-0.7 1 0.2 1 0.2 1 1.2 1 1.8 1 2.6 1 1.6 1 0.5 1 0.7 0.9 0 1 1.2 1 1 1 0.7 1 0.5 1 0.8 3 2 2 1.7 1.9 1.2 1-0.1 1 0.4 1 0.2 1 0.4 1.2 0.2 1.2-0.6 0.6-0.7 0.6-1.2 0.5-2.5 0.6-1.9 1.1-11.5 3.5-38.4 1.2-10.3 0.6-5 0.6-3.6 0.6-2.2 0.6-1.6 0.6-0.9 2.3-0.5 2.9 0.4 3 0.5 4.4 1 1.4 0.2 1.5 0.5 1.5 0.4 2.9 1.1 1.5 0.9 1.5 0.8 1.5 0.8 1.4 0.7 1.5 1 1.5 0.8 4.4 3.5 4.5 3.8 2.9 3.7 4.4 6.5 1.5 1.9 1.5 2.1 1.5 2 1.4 2.3 0.9 1.2 0 0" stroke="#9814a0"/>
<path d="M64.9 386.2l0.2-12.3 0.2 1.2 0.4-1.3 0.1-1.6 0.2 1.5 0.2-0.5 0.2 0.8 0.2-1.7 0.2 0.3 0.1-0.1 0.3 2.7 0.2-0.3 0.2 1 0.1-3.4 0.4 6-0.1-7.2 0.3 3.3 0.2 0.7 0.2-1.4 0.2 0.9 0.2 0.3 0.2-1.2 0.1-0.3 0.3 2.2 0.2 0.1 0.7 3.4 0.4 3.1 0.2 0.8 0.4 0.7 0.4 0.5 0.4-0.1 1 0.2 0.9 0.4 1 0.2 0.9 0.2 1.9 0 1 0.5 0.9 0.3 1 0.1 1 0 0.9 0 1 0.7 0.9-0.1 1 0.1 0.9 0.1 2 0.8 0.9 0.2 1-0.2 1 0 0.9-0.1 1-0.9 0.9-1.6 0.9-2.3 1-1.2 0.9-1.1 1-0.1 1-0.3 0.9-0.1 1 1.1 1 1.6 1 2.4 1 1.3 1 1.7 1 1 1 0.4 1 0.5 1 0.6 1 0.1 0.9 0.1 1 0.8 1 1.3 2 1.6 1 1 1 1.1 1 0.6 1 0.4 2 0.7 0.9 0.2 1.6-0.1 0.6 0.3 0.6 0 0.6-1.1 0.6-0.8 0.6-1.3 1.1-4.2 1.2-11.4 3.4-38.6 1.2-10.5 0.6-5.2 0.6-3.8 0.6-2.2 0.7-1.6 0.6-1 0.6 0 1.2-0.4 0.5-0.1 1.4 0 1.5 0.3 1.4 0.2 4.4 1.1 3 0.6 4.4 1.3 2.9 1.2 1.5 0.8 3 1.8 1.5 1 1.4 1.1 1.5 0.9 7.4 6 4.4 6.1 1.5 1.8 1.4 2.2 5.9 9.2 0.8 1.5 0 0" stroke="#9d189d"/>
<path d="M66.1 385.2l0.1-9.6 0-3.2 0.2-0.2 0.1-2.6 0.2 0.5 0.2-2.1 0.4 3.5 0.2-1 0.2 1.5 0.4 0.6 0.2-0.5 0.2 0.8 0.2-1 0.3 2.7 0.2-3.4 0.3 2.5 0.2 0.5 0-4.8 0.4 4.1 0-3.8 0.3 3.3 0.2-0.9 0.2-0.5 0.2 2.7 0.7 3.3 0.5 3.1 0.2 0.8 0.4 0.7 0.4 0.4 0.4 0.6 0.9 0 0.9-0.3 1 0.2 1 0.6 0.9 0.1 1-0.2 0.9-0.2 1.9 0.4 1 0.3 0.9 0.8 2 0.4 0.9-0.3 1 0.2 0.9 0.3 1 0.7 1 0 0.9 0.3 1-0.2 1 0 4.7-7 0.9-0.9 1 0 1 0.5 1 1.2 1 1.9 1 2.3 3.9 3.7 1 0.3 1 0.8 1 0.5 1 0.9 1 0.4 0.9 0.5 1 0.4 1 0.8 1 0.8 1 1.3 1 0.1 1 0.4 1 0.3 1 1.2 1 0.5 1 0.1 0.5-0.4 0.6-0.3 0.6-0.7 0.6-0.4 0.6-0.6 0.6-1.4 1.2-4.5 1.1-11.2 1.1-12.8 3-32 1.2-10.7 0.6-3.9 0.6-2.6 0.6-1.5 0.6-1.1 0.6-0.2 1.3-0.5 0.4-0.1 4.4 0.5 2.9 0.8 1.5 0.4 1.5 0.2 1.4 0.4 3 0.7 1.4 0.3 3 1.4 1.5 0.8 1.4 0.9 1.5 1.1 1.5 0.8 3 2.1 1.4 1.3 1.5 1 1.5 1.2 1.5 1.3 1.5 1.4 1.4 2 1.5 2.2 1.5 1.9 2.9 4.1 1.5 2.6 1.4 2.2 1.5 2.5 2.3 3.5 0 0" stroke="#a31e9a"/>
<path d="M67.3 384.3l0.1-12.4 0.2-0.3 0.2 0.7 0.1-2.2 0.3 1.5 0.1-2.6 0.1-1.4 0.3 4 0.4-1.7 0.2 2.6 0.3 1.5 0-3.3 0.2 0.4 0.4 3.9 0-3 0.3 0.8 0.2 0.3 0.1-1 0.3 2.6 0.2 0 0-4.4 0.5 2.5 0.2-0.1 0.9 4.4 0.4 3.1 0.2 0.8 0.4 0.7 0.4 0.4 0.4-0.2 1 0.4 0.9 0.6 1 0.1 0.9 0.2 1 0 0.9 0.3 1 0.2 0.9-0.1 1 0.3 0.9-0.1 1 0.3 2.9 0.7 0.9 0.1 1 0.8 1-0.1 0.9 0.2 1-0.4 0.9 0.1 1-0.2 0.9-1 1-1.4 0.9-1.1 1.9-2.6 1-0.9 0.9-0.1 1 0.5 1 0.4 1 1.6 1 2.6 1 1.3 1 1.6 1 1 1 0.8 0.9-0.1 1 0.4 1 0.8 1 1 1 0.4 1 0.2 1 0.5 0.9 0.8 1 1.1 1 0.7 1 0.3 2 1.2 1 0.4 1-0.3 1 0 1.2 1.3 0.5-0.3 1.8-3.3 0.6-2.2 0.6-1.9 1.1-10.8 1.2-12.1 1.7-19 1.2-11.8 1.2-10.2 0.6-3.4 0.6-2.3 0.7-1.5 0.6-1 2.3-0.6 2.9 0.4 1.4 0.6 1.5 0.3 1.4 0.4 1.5 0.1 2.9 0.8 1.5 0.3 2.9 0.8 3 1.4 2.9 1.5 1.5 0.8 1.5 1 2.9 2.1 3 2.2 1.4 1.2 3 2.7 4.4 5.9 2.9 4 2.9 4.5 2.9 4.6 0.9 1.2 0 0" stroke="#a82296"/>
<path d="M68.4 383.3l0.2-10.9 0.2 1 0.2-2.2 0.1-1.3 0.2 1.1 0.1-3.1 0.6 6.8 0.1-2.8 0.2 1.1 0.1-2.6 0.3 2.1 0.2-0.9 0.2 3.2 0.3-2.6 0.3 1 0.1-0.6 0.1-2.7 0.4 5.1 0.2 0.1 0-4.3 0.5 3.7 0.2-1.7 0.2 1.5 0.6 2.9 0.5 2.8 0.2 0.7 0.4 0.6 0.4 0.4 0.4-0.1 0.9 0.6 1 0 1.9 0.8 0.9-0.1 1 0.1 0.9 0 1 0.2 0.9 0 1 0.3 1 0.7 0.9 0.4 2.9-0.1 0.9 0.6 1 0 1-0.1 0.9-0.2 1 0.4 1 0.5 0.9-1.6 0.9-2 1-1.3 0.9-0.5 1 0.1 0.9-0.6 1-0.4 1-0.2 0.9 0.5 1.1 2 1 2.4 1 1.4 1.9 1.3 1 0.3 1 0.6 1 0.8 1 0.6 0.9 0.9 1 0.7 1 0.5 1 0.7 1 0.1 2 1.4 0.9 0.9 1 0.7 1 0 1 0.2 1 0.2 1-0.1 1.8 0.6 0.5-0.4 0.6-0.9 0.6-1.6 1.2-4.2 0.6-5.1 1.1-12 1.8-19.5 2.3-25.3 0.6-6.1 0.6-4.4 0.7-3.2 0.6-1.6 0.6-1 0.6-0.4 0.6-0.2 0.7-0.1 0.4 0 4.4 0.9 1.4 0.1 3 0.5 1.4 0.5 1.5 0.3 1.5 0.4 1.4 0.3 1.5 0.5 1.5 0.6 1.5 0.6 1.4 0.8 1.5 0.7 1.5 0.9 1.5 0.6 1.4 0.8 1.5 1 1.5 1.2 1.5 1.3 4.4 3.2 5.9 7.3 8.1 11.5 0 0" stroke="#ad2793"/>
<path d="M69.6 382.3l0.1-8.6 0.1-3 0.1-1.1 0.2 1.5 0.2-2.3 0.3-0.7 0.2 0.3 0.3 4.8 0.3-2.9 0.2-0.4 0.3 2.6 0-3.9 0.3 1.1 0.3 4.1 0.1-0.9 0.1-4.2 0.4 5.4-0.1-6.7 0.3 0.8 0.3 5.2 0.1-2.8 0.2-1 0.3 4.4 0.2 1.1 0.1-2.5 0.7 3.1 0.4 2.8 0.2 0.8 0.4 0.6 0.4 0.4 0.4 0.6 1 0.1 0.9 0.3 1 0 0.9 0 1 0.1 0.9-0.3 0.9 0 1 0.6 1 0.8 0.9 0.4 1-0.3 0.9 0 1.9 0.3 1 0.8 1 0.1 0.9 0.4 1-0.2 1 0.1 0.9-0.1 1 0.1 0.9-0.8 1-1.4 0.9-1.3 0.9-1.4 1-0.5 0.9-0.9 1-0.2 1 0.1 1 0.8 1 1.9 1 2 1 1.3 1.9 1.6 1 0.6 3 1 0.9 0.5 1 0.9 1 1 1 0.7 1 0.5 1 0.7 1 0.8 1 1 1.9 0.3 1 0.1 1 0.6 1 0.2 0.6 0 0.6-0.1 0.6-0.2 0.5-0.6 0.6-0.9 0.6-0.7 0.6-2.2 0.6-1.7 1.7-17.4 3.6-39.9 1.2-11.2 0.6-4.2 0.6-2.8 0.6-1.8 0.6-0.9 0.7-0.3 0.6-0.1 0.6-0.4 0.4-0.1 1.5 0.1 1.4 0.4 3 0.7 1.4 0.2 1.5 0.3 1.5 0.4 1.4 0.4 1.5 0.5 1.5 0.2 1.4 0.4 1.5 0.5 1.5 0.8 2.9 1.7 4.4 2.9 4.5 3.6 2.9 2.7 1.5 1.4 1.4 1.7 1.5 2 4.4 6.8 6.6 10.7 0 0" stroke="#b32c8e"/>
<path d="M70.7 381.4l0.2-13.1 0.1-2.3 0.2 2.1 0.1-3.2 0.2 1 0.2 0.5 0.3 1.1 0.2 1.6 0-5 0.4 4.5 0.1-0.5 0.2-0.1 0.2 0.1 0.2-1.2 0.2 2.5 0.2-1.2 0.1-1.7 0.3 3.7 0.2-1.7 0.2 2.2 0.1-1.8 0.2-0.6 0.3 2 0-4.7 0.4 6.1 0.1-1.5 0.7 3.5 0.5 3.2 0.2 0.8 0.4 0.7 0.4 0.5 0.3-0.4 1 0.6 1.9 0.9 0.9-0.4 1 0.2 0.9-0.2 1 0.3 0.9 0.3 1 0.3 0.9 0.1 1-0.1 1.9 0.5 1 0.6 1.9 0.9 1-0.3 0.9-0.1 1 0 0.9 0 1-0.3 0.9-1.7 0.9-1.4 1-1 0.9-0.9 1-1.4 1.9-0.9 1 0.5 1 0.2 1 1.8 1 2.3 2 3.7 0.9 0.6 1 0.4 1 0.2 1 1.2 2 1 0.9 0.3 1 0.5 1 1 1 0.9 1 0.7 1 0.2 0.9 0.6 2 1.4 1 0.6 1-0.2 1.6-0.2 0.6 0.5 0.6-0.2 0.5-0.5 0.6-1 0.6-1.4 0.6-2.4 0.6-1.9 1.2-10.7 3.5-37.7 1.2-10 0.6-4.8 0.6-3.6 0.6-2.1 0.7-1.5 0.6-0.9 0.6-0.2 1.2-0.2 0.5 0.1 1.4-0.1 1.5 0.3 1.4 0.2 1.5 0.4 2.9 0.6 1.4 0.3 1.5 0.5 1.5 0.5 2.9 0.6 1.5 0.6 1.4 0.8 1.5 0.7 1.5 0.6 2.9 1.8 5.9 4.6 2.9 2.3 1.5 1.3 4.4 5.5 1.4 2 1.5 2.1 5.8 9.2 0.8 1.1 0 0" stroke="#b7318a"/>
<path d="M71.8 380.4l0.1-8.7 0.1-3 0.3 1.1 0.1-0.9 0.2 0.6 0.2-2 0.2 0.2 0.1-1.1 0.2 0.8 0.3 1.8 0.1-0.3 0.2-1.7 0.2-0.2 0.3 3.6 0.1-1.2 0.1-2.3 0.3 2.7 0.2-1.2 0.2 1.7 0.1-3.3 0.2 2.6 0.2 0.3 0.2-1.5 0.2 1.2 0.2-0.7 0.1-1.4 0.3 3.1 0.7 3 0.4 2.9 0.2 0.7 0.4 0.6 0.8 0.9 0.9-0.1 1 0.3 0.9-0.3 1 0.5 1.9 0.7 0.9 0 1 0 1.9 0.6 0.9 0 2 0.9 0.9 0.1 1-0.2 0.9 0.1 1 0.2 1 0.4 0.9-0.5 1 0.3 0.9-0.3 1-0.8 0.9-1.8 0.9-1.3 1-1.1 0.9-0.8 1-0.7 1-0.2 0.9 0.7 1 1.2 1 1.7 1 2.3 1 1.4 1 1 1 0.6 0.9 0.2 2 1.6 1 0.4 1 0 1 0.5 0.9 0.6 1 1 2 1.2 1 1 1.9 1.1 1 0.1 1 0.7 1 0.1 1-0.4 0.6-0.1 0.6 0.2 0.6 0.1 0.5-0.8 0.6-0.2 0.6-1.3 1.2-4 1.2-10.6 3.5-37.9 1.8-15.6 0.7-4 0.6-2.7 0.6-1.6 0.6-1 0.6-0.1 1.3-0.2 0.4-0.4 1.4 0.2 1.5 0.3 1.4 0.5 1.5 0.2 2.9 0.6 1.5 0.4 1.4 0.2 1.5 0.3 2.9 1 1.5 0.8 1.5 0.6 1.4 0.8 1.5 0.9 2.9 2.2 1.5 1 2.9 2.5 4.4 4.3 1.5 1.4 1.4 2 2.9 4.6 2.9 4.6 2.9 5.1 3.7 6.6 0 0" stroke="#bc3587"/>
<path d="M73 379.4l0.1-8.8 0.1-2.9 0.1-1.8 0.3 2.2 0.1-0.8 0.1-3.7 0.3 1.5 0.3 4 0.1-0.8 0.2-2.1 0.2 1.4 0.1-1.4 0.3 2.8 0.1-1.7 0.4-1 0.2 1 0.2 0.4 0.2 0.1 0.2-0.9 0.1-0.2 0.3 2.5 0.2 0.2 0.1-1.4 0.3 2.2 0.1-1.2 0.2 0.5 0.7 3.1 0.5 2.9 0.2 0.7 0.4 0.7 0.3 0.4 0.4 0.6 1 0.2 0.9 0.3 1 0 0.9 0.2 1 0.2 0.9-0.3 1 0.4 0.9-0.4 1 0.9 0.9 0 1 0.3 0.9-0.1 1 0.1 0.9 0 1 0.1 0.9 0 1 0.6 1 0.4 0.9 0.2 1-0.5 1 0.5 0.9-1.3 0.9-1.1 1-1.5 0.9-1 1.9-1.7 1 0 1 0.6 0.9 0.3 2 4 1 1.6 1 0.8 1 0.6 1 0.3 0.9 0.5 1 1.3 1 0.7 1 0.5 1-0.1 0.9 0.7 1 0.6 1 0.9 1 0.6 1 0.8 1 0.4 0.9 0.3 1 0.5 2 0.4 1 0.4 1.2-0.2 0.6-0.7 0.5-0.4 0.6-0.8 0.6-1 0.6-2 0.6-1.6 1.2-11.3 1.7-19.1 1.8-20.2 1.2-11.5 0.7-5.8 0.6-4.3 0.6-2.8 0.6-1.7 0.6-1 1.3-0.4 0.6 0 0.4 0 1.5 0.3 1.4 0.2 1.5-0.1 1.4 0.1 1.5 0.3 1.5 0.6 1.4 0.3 1.5 0.5 1.4 0.3 1.5 0.5 1.5 0.3 1.4 0.7 1.5 0.6 1.5 0.8 1.5 0.7 1.4 0.9 1.5 1.1 1.5 1.1 5.8 4.4 3 2.5 7.3 10.7 5.7 9.1 0.9 1.4 0 0" stroke="#c13b82"/>
<path d="M74.1 378.5l0.1-8.3 0.2-2.9 0.2 1.5 0.1-1.5 0.2-0.7 0.2 0 0.2-0.5 0.1-2.7 0.2 1.4 0.3 2.4 0.1-1.6 0.2 2.1 0.2-2.7 0.2 2.6 0.2-0.4 0.2 2.3 0.2-1.4 0.1-4.4 0.4 8.2 0-4.2 0.3 1 0.1 0 0.2-3.1 0.2 3.7 0.3 1.5 0.1-2.2 0.2 0.6 0.6 2.9 0.5 2.8 0.2 0.7 0.4 0.6 0.4 0.4 0.4 0.2 1.9 0.4 0.9 0.3 1 0.8 0.9 0.1 1 0.1 0.9-0.6 0.9 0.2 1 0.6 1-0.1 0.9 0.5 1 0.1 0.9 0.7 1 0 0.9 0.2 1-0.2 1 0.7 0.9-0.2 1 0.2 0.9-0.9 1 0 0.9-1.1 1-0.8 0.9-0.7 0.9-1 1-0.7 1-0.9 0.9-0.5 1 0.3 1 0.6 2 3.7 1.9 2.5 1 0.5 1 0.4 0.9 0.2 1 1.3 1 0.6 1 1 1 0 1 0.6 0.9 0.6 1 0.9 2 1 1 0.1 0.9 0.3 1 0.4 2 1.4 1 0.4 0.6 0.3 0.6 0.5 0.6-0.8 0.5-0.6 0.6-0.8 0.6-1.1 0.6-2.5 0.6-2.1 1.2-10.1 1.1-12.1 3.1-30.9 1.2-10.2 0.6-4.1 0.6-2.8 0.6-1.6 0.7-1 1.2-0.5 1-0.4 1.5 0.2 2.9 0.9 1.4 0.4 2.9 0.6 1.5 0.1 2.9 0.7 1.5 0.5 1.4 0.4 1.5 0.8 1.5 0.5 2.9 1.6 7.3 5.7 2.9 2.7 1.5 1.5 1.5 1.6 1.4 2.3 1.5 2 1.4 2.4 1.4 2.1 1.5 2.6 1.4 2.4 2.9 5.1 2.3 3.9 0 0" stroke="#c5407e"/>
<path d="M75.3 377.5l0.2-10.3 0.2 0.8 0.2-2.1 0.2 1.1 0.2 0.4 0.1-0.5 0.2-0.7 0.2 1.6 0.1-4.5 0.3 3.7 0.2 0.1 0.1-3 0.2 0.1 0.4 0.9 0.3 5.4 0.1-2.3 0.2-0.3 0.2 0.9 0.1-3.9 0.2 1.1 0.3 3.3 0.2 1 0.2 0.5 0.2-0.4 0.2-1.4 0.6 2.9 0.4 2.7 0.3 0.7 0.3 0.6 0.4 0.4 0.4 0.2 1 0.4 0.9 0.7 1 0.3 0.9-0.2 0.9-0.3 1-0.2 0.9 0.1 1-0.1 0.9 0.6 1.9 0.9 1 0.1 0.9-0.1 1 0 1 0.1 0.9 0.6 1 1.1 1 0.4 0.9-0.2 1-0.4 0.9-0.3 0.9-1.1 1-1.5 1.9-2.5 0.9-0.7 1-0.3 0.9 0.2 1-0.2 1 0.8 1 1.5 1 2.2 1.9 2.1 1 0.8 1 0.4 1 0.4 2.9 2.1 1 0.4 1 0.6 0.9 0.9 1 0.8 1 0.9 1 0.8 1 0.6 1.9-0.4 1 0.3 1 0.9 1 0.6 0.6 0.4 0.6 0 0.6-0.4 1.1-1.8 0.6-1.2 0.6-2 0.6-1.6 1.2-10.5 2.3-25.4 1.3-12.9 1.2-11.4 0.6-5.8 0.6-4.3 0.6-3 0.7-1.6 0.6-0.9 0.6-0.1 0.6-0.1 0.6-0.1 1.9 0 1.5 0.2 1.4 0.2 1.5 0.4 1.4 0.5 1.5 0.3 1.4 0.6 1.5 0.3 1.4 0.4 1.5 0.1 1.5 0.4 1.4 0.7 1.5 0.6 1.5 0.9 1.4 0.7 1.5 1.1 1.5 0.8 1.4 1.3 1.5 1.2 1.4 1.4 1.5 1.2 1.5 1.3 1.4 1.5 1.5 1.5 5.8 8.6 1.4 2.2 2.9 5 1.4 2.6 2.3 4 0 0" stroke="#c9447a"/>
<path d="M76.4 376.5l0.2-13.2 0.2 1.4 0.1-2 0.2 0.7 0.1-3.5 0.3 4 0.1-2.7 0.2 0.2 0.2-2.1 0.2 2.2 0.2 0.8 0.2-0.2 0.2 0.7 0.2 0.2 0.1-1.6 0.4 5.1 0.1-1.3 0.3-4.6 0.2 2.7 0.3 0.9 0.1 0 0.3 2 0.1-2.8 0.2-1.1 0.2 2.9 0.7 3.6 0.4 3.3 0.2 0.8 0.4 0.8 0.4 0.4 0.4 0.7 1 0.3 0.9-0.1 0.9-0.2 1.9 0.4 1 0.5 0.9-0.3 1 0.3 0.9 0 1 0.7 0.9 0 1-0.1 0.9 0.3 1 0 1 0.6 0.9 0 1 0.7 0.9-0.2 1-0.6 1.9-0.5 0.9-1 0.9-2.1 1-1.4 1.9-2.4 0.9-0.8 1-0.3 1 0.5 1 1.1 0.9 1.9 1 2.4 1 1.2 1 1.6 1 1.2 1 0.4 0.9 0 1 0.7 1 0.7 1 0.9 1 0.7 0.9 1 1 0.5 2 0.8 5.9 3.5 1 0.2 0.6 0.3 0.5 0.1 1.8-2.5 0.6-0.2 1.2-4.7 1.8-18.3 2.4-26 0.6-6.2 0.6-5.5 1.2-9.9 0.6-3.5 0.7-2.1 0.6-1.6 0.6-0.9 0.6-0.2 1.3-0.2 0.4-0.2 2.9 0.5 1.4 0.3 1.5 0.2 4.3 1 1.5 0.2 1.5 0.5 1.4 0.3 2.9 1.1 3 1.4 2.9 2 2.9 1.6 3 2.1 2.9 2.4 1.4 1.4 1.5 1.3 1.5 1.9 1.4 2 1.4 2.1 1.5 2 5.8 8.6 2.2 3.7 0 0" stroke="#cd4a76"/>
<path d="M77.5 375.6l0.3-10.9 0.1-3 0.3 4.6 0.1-2.2 0.3 2.1 0.1-0.3 0.1-3.6 0.3 1.7 0.1-3 0.2 1.1 0.2 0.7 0.2 0.4 0.3 2.6 0.1-0.2 0.2-0.5 0.2 0.8 0.2-0.8 0.1-3.3 0.2 2.6 0.3 1.2 0.2 0.4 0.1-1 0.2-2 0.2 2.3 0.2 1 0.2 0.3 0.6 2.9 0.5 2.7 0.2 0.7 0.4 0.6 0.4 0.4 0.4 0.2 0.9 0.1 1.9 0.5 0.9 0.4 1 0.2 0.9-0.1 1-0.2 0.9 0.3 1 0.1 1.9 0.5 1.9 1.1 0.9 0.1 1 0.5 0.9-0.2 1 0.7 1 0 0.9 0.4 1-0.6 0.9-0.2 1-0.9 0.9-1.2 0.9-1.7 1.9-2.4 1 0 1-0.2 0.9 0.2 1 0.6 1 1.9 1 2 1 1 0.9 0.5 1 1.2 2 1.7 0.9 0.5 1 1 1 0.3 2 1 0.9 0.6 1 1 1 0.2 1 0.6 0.9-0.2 1 0.9 2 1.3 1 0.2 1-0.1 0.5 0.3 0.6-0.3 0.6-0.2 0.6-1 0.6-0.5 0.6-1.1 0.6-1.7 0.6-2 1.2-10.7 1.8-18.1 1.8-18.9 1.2-10.7 0.6-5.4 0.7-4.2 0.6-2.9 0.6-1.6 0.6-0.8 0.6 0 0.7-0.2 1-0.5 2.9 0.6 1.4 0.3 1.5 0.1 2.9 0.8 7.3 1.8 2.9 1.2 2.9 1.1 4.4 2.5 2.9 1.8 1.5 1 1.5 0.9 1.4 1.1 1.5 0.9 7.3 8 2.9 3.5 1.4 1.8 2.3 2.8 0 0" stroke="#d14e72"/>
<path d="M78.6 374.6l0.2-12.9 0.2-2.5 0.2 2.5 0.2-1.2 0.1-0.7 0.3 1.3 0.2 0.6 0.1-2.5 0.2-0.6 0.3 4.6 0.3-2.7 0.1-1.8 0.2-1 0.3 4.1 0.1-2.2 0.2-0.2 0.3 3.4 0.1-1 0.2 1 0.2-2 0.2 1.7 0.2-1.2 0.2 2.4 0.2 0.8 0.2-0.9 0.6 3.5 0.5 3.3 0.2 0.8 0.4 0.7 0.4 0.5 0.4 0 0.9 0.7 1.9 0.1 0.9 0.3 1-0.4 0.9 0.2 1.9 0.9 1-0.1 0.9-0.4 1.9 0.6 1 0.6 0.9 0.2 1 0.4 0.9 0.2 1 0.4 1.9-0.2 1-0.5 0.9 0 1.9-2.8 0.9-2 1.9-2.6 1-0.5 0.9-0.2 1 0.4 1 1.3 1 1.6 1 2.3 0.9 1.1 1 1.6 1 0.9 1 0.5 1 0.4 0.9 0.7 1 0.4 1 0.4 1 0.8 0.9 1.2 1 1 1 0.5 1 0.3 1 0.5 0.9 0.7 2 1.4 2 1.2 0.9-0.2 0.6 0 0.6-0.3 0.6 0.1 0.6-1 0.6-0.8 0.6-1.3 0.6-1.9 0.6-2.1 4.8-49 0.6-5.4 1.3-9.6 0.6-3.4 0.6-2.1 0.6-1.5 0.6-1 0.7-0.2 0.6-0.1 0.6-0.2 0.4 0.1 1.4 0.1 1.5 0.3 1.4 0 1.5 0.1 2.9 1 1.4 0.5 1.5 0.3 2.9 0.8 1.5 0.4 1.4 0.5 1.5 0.7 1.4 0.9 1.5 0.9 1.4 1.1 1.5 0.8 2.9 2.2 2.9 2.6 1.5 1.3 2.9 2.8 5.8 8.8 5.7 9.7 2.2 4.2 0 0" stroke="#d5536f"/>
<path d="M79.8 373.7l0.2-12.3 0.2-0.2 0.1-1 0.2-0.6 0.2 0.1 0.2 2.1 0.3 1.1 0.1-1.1 0.2-0.1 0.3-1.2 0.3 1.1 0.1-2 0.5 4.4 0-4.9 0.3 0.7 0.2 2.3 0.1-2.1 0.4 6.6 0.1-4 0.2 2.5 0.1-3.1 0.2 0.6 0.2 0 0.4 1.8 0.5 2.2 0.4 3.1 0.2 0.8 0.4 0.7 0.4 0.4 0.4 1 0.9 0.1 1-0.1 0.9-0.4 1-0.1 1.9 0.8 0.9 0.6 0.9-0.2 1-0.1 1.9 0.3 0.9 0.5 1-0.2 0.9 0.2 1-0.2 0.9 0.3 1 0.4 1 0.9 0.9-0.3 1 0.1 0.9-0.5 1-1.2 0.9-1.8 0.9-1.5 1-1.1 0.9-0.6 1-0.9 1 0.5 0.9 0.1 1 0.8 1 1.2 1 2.1 1 1.8 0.9 1.1 1 1.2 1 0.5 1 0.3 0.9 0.4 1 0.3 1 0.9 1 0.4 0.9 1.1 1 0.9 1 0.9 1 0.7 1.9 0.7 1 0.2 1 0.4 1 0.6 0.9-0.2 1 0 1.2 0.9 0.6 0.1 0.6-1.4 0.6-0.9 0.6-1.2 1.1-3.5 1.2-11.1 3.7-37.5 0.6-5.9 1.3-10.1 0.6-3.5 0.6-2.2 0.6-1.5 0.6-0.9 0.7-0.4 0.6-0.2 0.6-0.4 0.4 0.1 1.5 0.1 1.4 0.3 2.9 0.4 4.3 1.3 5.9 1.5 1.4 0.7 4.4 2.1 2.9 1.8 4.4 3.3 1.4 1.3 1.5 1.2 2.9 2.5 1.5 2 1.4 1.8 2.9 4 2.8 4.7 1.5 2.3 2.9 4.3 0.8 1.3 0 0" stroke="#d9586a"/>
<path d="M80.9 372.7l0.2-12.5 0.2-0.7 0.2 0.5 0.1-2.2 0.3 4.2 0.1-4.7 0.2 3 0.2-1.7 0.2 1.1 0.2 1.9 0.3-5.6 0.3 3.6 0.2 0.6 0.2 1.3 0.1-1.1 0.2-1.8 0.3 4.7 0.1-3.5 0.2 2.9 0.2-3.1 0.1-0.9 0.5 4.7 0.2-1.5 0.2 0.3 0.6 3.3 0.4 3 0.2 0.8 0.4 0.7 0.8 0.8 0.9 0.1 1 0.3 0.9 0.5 1-0.2 0.9-0.2 1 0 0.9 0.3 1 0.6 0.9 0.3 1-0.1 1.9 0.2 0.9 0.4 1 0.2 0.9 0.1 1 0.9 0.9 0.1 1 0.5 0.9-0.3 1-0.1 0.9-0.3 1-1.1 0.9-1.8 0.9-1.3 1-1.9 1.9-2.1 0.9 0 1 0.6 1 0.7 1 2.3 1 2 1 1.6 0.9 0.7 1 1 1 0.2 0.9 0.8 1 0.6 1 0.8 1 0.3 0.9 0.8 1 0.3 1 0.6 1 0.6 1.9 2.1 1 0.6 2.9 1.2 1 0.4 1 0.3 0.6 0.4 0.6 0.1 1.7-2.6 0.6-0.9 1.2-4.2 1.2-11.6 3.7-38.5 1.2-10.8 0.7-5.1 0.6-3.7 0.6-2.4 0.6-1.7 0.7-1 1.8-0.7 0.4-0.1 1.5 0.1 1.4 0.3 1.5 0.2 1.4 0.4 1.5 0.2 4.3 1.3 1.5 0.4 1.4 0.1 1.5 0.4 1.4 0.6 3 1.7 1.4 0.8 1.5 1 1.4 1 2.9 2.4 5.9 5.4 1.4 1.4 1.4 2.1 4.4 6.8 2.8 5 1.4 2.4 1.5 2.3 1.4 2.6 0.8 1.5 0 0" stroke="#dc5d67"/>
<path d="M82 371.8l0.3-11.7 0.2 0 0.1-2 0.2 2.3 0.1-4.3 0.3 5.3 0.2-1.1 0.1-3.9 0.5 4.8 0.1-2.9 0.2 0 0.2 1.3 0.2 0.3 0.1-2.6 0.3 4.4 0.1-2.1 0.2 0.5 0.3 3.5 0.1-3.1 0.3 1.7 0.1-2.4 0.2-0.3 0.1-1.6 0.3 4.5 0.2-0.4 0.6 3.1 0.5 3 0.2 0.7 0.4 0.7 0.3 0.4 0.4-0.4 1 0.3 0.9 0.6 0.9-0.2 1 0.4 0.9 0 1 0.7 0.9 0.1 1 0.3 0.9-0.3 1 0.1 2.8 0.9 1 0.2 0.9 0.4 1.9 0.3 1 0.3 0.9-0.2 1.9-0.5 1-1.4 0.9-1.2 1-1.4 0.9-0.4 0.9-1.3 1-0.4 1 0 1.9 1.1 1 1 1 2 0.9 1.3 1 1.5 1 1.1 1 0.4 1.9 1.1 1 0.7 1 0.3 1.9 1 1 1.3 2.9 1.5 1 0.9 1 0.3 0.9 0.1 1 0.5 1 0.7 1 0.2 0.6-0.5 0.6-0.2 0.5-0.5 0.6-0.7 0.6-0.4 0.6-1.1 0.6-1.7 0.6-2.2 2.4-22.6 1.9-19.5 1.2-11.6 1.3-10 0.6-3.8 0.6-2.7 0.6-1.7 0.7-1 0.6-0.1 0.6-0.3 1-0.1 1.5 0.3 1.4 0.2 1.5 0.3 1.4 0.1 1.4 0.4 1.5 0.3 1.4 0.5 1.5 0.2 1.4 0.4 3 0.6 1.4 0.5 1.5 0.5 2.9 1.5 1.4 0.9 1.5 0.6 5.8 3.2 4.4 3 1.5 1.4 2.9 3.1 1.4 1.5 1.5 1.7 1.4 1.8 1.5 1.7 1.4 1.9 1.5 1.6 0.8 1.1 0 0" stroke="#df6263"/>
<path d="M83.1 370.8l0.2-9.4 0.1-3.2 0.3 0.3 0.2-1.8 0.2 0.8 0.2-0.5 0.2 3.2 0.2-0.5 0.1-4.7 0.2 1.3 0.2 0.6 0.1-1.8 0.3 2.6 0.1-1.8 0.3 2.8 0.1-4.4 0.3 7.8 0.1-3.8 0.3 4.1 0.1-4.4 0.2-0.9 0.2 0.8 0.2 0.5 0.2 0.3 0.2 1 0.2 0.4 0.6 3.3 0.5 3 0.2 0.8 0.4 0.7 0.3 0.4 0.4-0.2 1 0.4 0.9 0.5 1 0.4 0.9-0.1 0.9 0.3 1 0.5 0.9 0 1-0.1 0.9-0.3 1 0.5 0.9 0 1 0.4 0.9-0.3 1 0.5 0.9-0.4 1 0.6 0.9 0.1 1 0.4 0.9 0 1-0.2 0.9-0.1 1-1.1 0.9-1.4 0.9-1.2 1-1.6 1.9-1.9 1 0.2 0.9 0.5 1 1.2 1 1.2 1 2.3 1.9 2.6 1 1 1 0.3 0.9 0.7 1 0.4 1 1 0.9 0.5 1 0.3 1 0.4 1 0.6 0.9 0.7 1 0.5 1 0.8 1 0.5 1.9 0.7 1 0.7 1 0.7 1 0.4 0.5-0.2 0.6 0.3 0.6-0.5 1.2-1.5 0.6-1.2 1.2-4 1.2-10.7 1.2-12.1 1.2-12.7 1.9-17.3 1.3-9.5 0.6-3.4 0.6-2.2 0.6-1.6 0.7-1 0.6-0.2 0.6 0 0.6-0.1 0.4 0.1 1.5 0.1 1.4 0.2 4.3 1.1 1.5 0.2 2.9 0.7 2.9 0.4 1.4 0.5 1.5 0.7 1.4 0.9 1.5 0.6 1.4 0.8 1.5 0.6 1.4 0.8 1.5 0.9 1.4 1.1 1.5 0.8 2.9 2.1 1.5 1.3 1.4 1.1 5.8 7 1.4 1.9 2.9 4 2.9 3.9 0.8 1.3 0 0" stroke="#e3685f"/>
<path d="M84.2 369.9l0.2-8.7 0.1-3 0.4-0.4 0.2 1.6 0.1-3.8 0.3 3.5 0.1-0.6 0.2-0.2 0.3-2.1 0.3 3.7 0.2-0.7 0.1-2.2 0.2 0 0.2 0.3 0.2-1.4 0.1-0.8 0.3 3.8 0.2 1.8 0.2-0.2 0.2-0.9 0.1-1.7 0.3 3.1 0.1-1.6 0.2-0.5 0.4 2.1 0.5 2.1 0.4 2.8 0.2 0.7 0.4 0.7 0.4 0.4 0.3-0.1 1.9 0.8 1 0.8 0.9-0.1 1 0 0.9-0.2 0.9 0 1-0.1 0.9 0.2 1 0.6 0.9 0.3 1-0.1 1.9 0.5 0.9 0.8 1 0.1 0.9 0.3 1 0.1 0.9 0.4 1-0.4 0.9-0.1 1-2 0.9-0.7 1-1.4 0.9-0.2 1-1.4 0.9-1 1-0.2 0.9 0.6 1 1.1 1 1.3 1.9 3.2 1 1.1 1 1.2 1 0.2 0.9 0.2 1 0.5 1 0.3 0.9 0.8 1 0.7 1 0.4 1 1 0.9 0.3 1 1.2 1 0.2 1.9 1.2 2 0.8 1 0.1 0.9 0.2 0.6-0.2 0.6 0.2 0.6-0.1 0.6-0.5 0.6-0.7 0.6-1.3 1.2-3.8 0.6-4.9 1.2-11.5 3.1-31.2 1.2-10.7 0.7-5.2 0.6-3.9 0.6-2.6 0.6-1.6 0.7-1 0.6 0 0.6-0.3 0.6-0.1 0.4-0.2 1.5 0.2 1.4 0.3 2.9 0.4 2.9 0.8 1.4 0.4 1.5 0.2 1.4 0.4 1.5 0.3 1.4 0.4 1.5 0.6 1.4 0.8 2.9 1.3 2.9 1.6 1.5 0.8 1.4 1.1 1.5 1 1.5 1.2 1.4 0.9 1.5 1.3 1.4 1.2 2.9 3.3 1.4 1.8 1.5 1.8 1.4 2.1 1.4 1.8 5.2 7.2 0 0" stroke="#e66c5c"/>
<path d="M85.3 369l0.2-10.2 0.1-3.4 0.2-0.2 0.1-1.2 0.2 1.6 0.3 1 0.1-2.6 0.2-0.4 0.2 0.9 0.2 2.9 0.1-3.8 0.2-0.6 0.2 2.9 0.2-0.7 0.2 0 0.2 0.5 0.2-0.4 0.1-1.6 0.2 0.8 0.3 4.1 0.1-2.4 0.2-0.1 0.3 1.7 0.2 2.5 0.1-5.7 0.2 1 0.2 1.7 0.6 3.5 0.5 3.2 0.2 0.8 0.4 0.7 0.7 0.9 1.9 0 1 0.3 1.8-0.3 1 0.1 2.8 1.5 1 0.1 0.9 0.1 1-0.3 0.9 0.3 1 0.4 0.9 0.4 1 0 0.9 0 2.9 0.2 0.9 0 1.9-3.1 0.9-1.4 1-1 0.9-1.4 1-0.8 0.9 0 1 0.5 1 0.2 0.9 1.5 1 2.5 1 1.8 1 1.1 1 0.5 0.9 0.2 1 0.9 1.9 1.9 2 0.7 1 0.6 0.9 0.7 1 0.5 1 0.7 1 1 0.9 0.8 1 0.6 1 0.2 1 0.1 0.9 0.2 1 0.3 0.6 0.4 0.6 0.1 0.6-0.5 0.6-0.9 0.5-0.5 0.6-1.5 0.6-1.7 0.6-2.1 1.2-11 1.3-12.6 1.2-12.1 1.9-17.9 1.3-10 0.6-3.4 0.6-2 0.6-1.6 0.7-0.9 1.8-0.3 0.4-0.1 1.5 0 2.8 0.5 1.5 0.2 1.4 0.3 1.5 0.6 1.4 0.5 1.5 0.3 1.4 0.2 1.5 0.3 1.4 0.4 1.5 0.7 1.4 0.8 1.5 0.5 4.3 2.4 2.9 1.9 1.5 1 2.9 2.3 1.4 1.2 1.5 1.1 2.9 3.7 1.4 2.1 1.4 1.8 7.2 10.1 0.8 1.3 0 0" stroke="#e97158"/>
<path d="M86.5 368l0.2-11.7 0.2-1.3 0.2 1 0.2 0.2 0.1-3.4 0.2 2.4 0.2 0.1 0.3 4.2 0.1-4.4 0.2 0.6 0.2 1.4 0.2-0.5 0.1-1.5 0.3 2.6 0.1-1.4 0.3 3.2 0.2-1.8 0.1-0.1 0.2-0.9 0.1-4.5 0.2-1.1 0.3 8.1 0.1-4.8 0.2 0.8 0.2-0.4 0.2 3.4 0.7 3.1 0.4 2.9 0.2 0.7 0.4 0.7 0.8 0.8 1.8 0.3 1 0.4 0.9-0.3 1 0.5 0.9-0.2 1 0.5 0.9-0.3 0.9 0.4 1.9 0.6 1-0.3 0.9 0.1 2.9 0.9 0.9 0.1 1 0.7 0.9 0.1 1-0.1 0.9-0.6 1-1.2 0.9-1.1 0.9-1.5 1.9-1.9 1-0.7 0.9-0.5 1 0.3 1 1.2 1 1.7 0.9 2.3 1 0.8 1 1.3 1.9 1.4 1 0.4 1 0.2 0.9 0.7 1 0.4 1 0.6 3.9 3 1.9 1.1 1 0.2 0.9 0.3 1 0.6 1 0.3 1.6 0.9 0.5-0.3 0.6-0.5 0.6-1.3 0.6-0.1 0.6-1.2 0.6-1.7 0.6-2.6 1.8-16.4 3.8-35.8 1.2-10 0.7-4 0.6-2.4 0.6-1.6 0.7-0.9 0.6-0.3 0.6-0.1 1-0.1 1.4 0.1 1.5 0.2 1.4 0.1 2.9 0.8 1.4 0.5 1.5 0.2 2.9 0.6 2.9 1 4.3 1.9 2.9 1.3 2.9 1.7 1.5 1.1 1.4 1 1.5 1.2 1.4 1.1 1.5 1.2 1.4 0.9 2.9 3.4 1.4 1.8 1.5 1.7 1.4 1.9 2.9 4.2 2.8 3.9 0.8 1.2 0 0" stroke="#ec7754"/>
<path d="M87.6 367.1l0.3-15.5 0.3 4.9 0.2-3.6 0.6 2.7 0.2 0 0.1-3.6 0.2 0.4 0.2 3.3 0.2 0.3 0.2-1.1 0.2-0.5 0.1-0.1 0.5 3.4 0.2 0.4 0.1-1.5 0.2-3.1 0.2 3.4 0.2-1.5 0.2 1.4 0.2-0.8 0.1-1.5 0.3 2.7 0.6 3.2 0.4 3 0.2 0.7 0.4 0.7 0.8 0.8 0.9 0.6 1-0.1 0.9 0.1 0.9-0.4 1 0.4 0.9 0.2 1 0.5 1.8 0 1 0.2 0.9 0 1 0.6 0.9 0.2 1 0.4 0.9-0.5 1 0.1 0.9 0.4 1 0.7 0.9 0.2 1-0.6 0.9 0.1 0.9-1.6 1.9-2.6 1-0.9 0.9-1.4 1-0.7 0.9 0 1 0.6 1 0.4 0.9 1.7 1 2.1 1 1.2 2.9 2.9 1 0.2 0.9 0.7 1 0.5 1 1 0.9 0.4 1 0.6 1 0 1 0.8 0.9 0.4 1 0.9 1.9 1.1 1 0.8 1 0.5 1 0.3 0.9-0.1 1.2 0.7 0.6-0.3 0.6-0.9 0.6-0.8 0.6-1.6 0.6-2 0.6-2.2 0.6-5 1.2-11.7 1.9-19 1.9-18.4 1.3-10.4 0.6-3.9 0.6-2.6 0.6-1.4 0.7-1 0.6-0.2 0.6-0.3 1-0.2 1.5 0.1 2.8 0.6 8.7 2.1 1.4 0.2 2.9 1 2.9 1.4 1.5 0.9 2.9 1.6 1.4 0.7 1.5 0.9 2.9 1.9 1.4 0.9 1.5 1.1 1.4 1.2 1.5 1.8 4.3 5 1.4 1.9 5.7 8 0.9 0.9 0 0" stroke="#ef7c51"/>
<path d="M88.7 366.1l0.1-9.2 0.1-3.2 0.2-0.1 0.1-4.2 0.3 4.1 0.3-1.9 0.2 0.9 0.1-3.7 0.3 5.1 0.2-0.4 0.2 0.1 0.2-1.8 0.2 3 0.2-0.6 0.2 0.1 0.1-1.8 0.4 0.8 0.2-0.6 0.2 0 0.2 1.9 0.2-0.4 0.1-0.8 0.2-2.1 0.3 4.6 0.1-0.3 0.7 3.2 0.4 3.1 0.2 0.7 0.4 0.7 0.4 0.4 0.4 0.9 0.9-0.3 0.9 0 1 0.4 0.9 0.2 1 0.1 0.9-0.2 0.9 0.5 1.9 0.4 1 0 0.9 0.2 0.9-0.3 1 0.7 1 0.4 0.9 0.8 1-0.2 0.9 0.3 1 0.3 0.9 0 0.9-0.5 1-0.4 0.9-1.3 1-1.3 0.9-2 0.9-1.4 1-0.8 1-0.2 0.9 0.1 1-0.2 0.9 0.5 1 1.5 1 2.5 1 1.6 0.9 1 1 1 1 0.7 0.9 0.9 1 0.5 1 0.4 0.9 0.6 1 0.3 1 0.3 1 0.7 0.9 0.8 1 1.1 1 0.7 0.9 0.3 1 0.5 1 0 1 0.8 1.9 0.1 0.6-0.4 1.2 0.6 0.5-0.3 0.6-0.7 0.6-1.4 1.2-4.5 1.2-11.1 1.3-12.4 1.3-12.8 1.9-18.6 1.2-10.4 0.7-3.9 0.6-2.7 0.6-1.9 0.7-0.9 1.8-0.3 0.4-0.2 5.8 1 8.6 1.9 1.5 0.5 5.8 2.5 2.9 1.4 2.9 1.7 2.9 2.1 1.4 1 1.5 0.9 1.4 1 1.5 1.7 1.4 1.9 4.3 5.1 1.5 1.9 2.8 3.4 2.3 2.9 0 0" stroke="#f1814d"/>
<path d="M89.8 365.2l0.1-9.5 0.3-6.4 0.2 0.6 0.2 3 0.1-3.8 0.2 1.9 0.3 3.3 0.1-5.3 0.2 4 0.6-2.4 0.2 1 0.1-2.4 0.3 4.7 0.1-0.9 0.2-0.2 0.1-3.5 0.2 0.5 0.3 5 0.1-3.8 0.3 2.1 0.2 4.4 0.1-5.9 0.3 4.8 0.1-2.1 0.7 3.3 0.4 3.1 0.2 0.7 0.4 0.7 0.4 0.5 0.4 0.2 0.9-0.1 1.9 0.3 0.9 0.6 0.9 0.2 1 0.4 0.9-0.1 1-0.2 0.9 0 0.9 0.3 1 0.5 1.9 0.7 0.9 0.2 1 0 0.9 0.1 1.9 1 1-0.1 0.9-1 1-0.3 0.9-1.3 1-0.9 0.9-1.8 1.9-1.8 0.9-0.6 1-0.4 1 0.1 0.9 1.1 1 1.7 1 2.4 0.9 1.2 1 1 1 0.9 0.9 0.1 1 0.5 1 0.7 0.9 1.1 1 0.9 2 0.8 0.9 0.2 2 2.3 0.9 0.6 1-0.6 1-0.1 0.9 0.5 1 1.2 1 0.6 1.6 0.4 0.5 0.2 0.6-0.3 0.6-0.6 1.2-1.5 1.2-4.7 2.5-22.9 1.2-12.5 1.3-12.1 0.6-5.2 1.3-9.7 0.6-3.5 0.7-2.3 0.6-1.6 0.6-0.9 1.9-0.5 0.4-0.2 2.8 0.3 1.5 0.3 1.4 0.3 2.9 0.8 1.4 0.2 1.5 0.3 1.4 0.2 4.3 1.6 1.5 0.7 1.4 0.7 1.5 1.1 4.3 2.5 1.5 1.2 7.1 6.5 4.3 6 1.4 2 1.5 2.2 1.4 2.5 1.4 2.1 1.4 2.3 1.4 2.2 0.8 1.4 0 0" stroke="#f48849"/>
<path d="M90.9 364.3l0.3-10.7 0.2 1.4 0.1-2.8 0.3 1.8 0.1-1.7 0.2 1.3 0.1-2.7 0.3 3.2 0.2-0.2 0.2-0.5 0.2 1.3 0.2-0.1 0.1-1.8 0.2-0.4 0.1-1.8 0.3 4.5 0.1-3.5 0.2 1.2 0.2-0.4 0.2 0.1 0.2 0.7 0.2 0 0.1-1.9 0.3 3.1 0.2-0.1 0.4 2 0.4 2 0.4 2.7 0.2 0.7 0.4 0.6 0.4 0.4 0.4 0.7 0.9-0.3 0.9 0.3 1 0.6 0.9 0 1 0.3 0.9-0.7 0.9 0.2 1-0.2 0.9 0.3 0.9 0.1 1 0.4 0.9 0.7 1 0.4 0.9-0.1 1 0.6 1.9 0.5 0.9 0.1 1 0 0.9 0.2 1-0.3 0.9-1.5 1.9-2.7 0.9-1.1 1.9-1.4 1-0.1 0.9 0 1 0.8 1 2 1 2.1 0.9 1.4 1 1.2 1 0.7 0.9 0.3 1 0.1 1 0.9 3.8 1.9 1 1.1 1 0.6 0.9 1.1 2 0.8 0.9-0.1 1 0 1 0.6 0.9 0.7 1 0.3 1.8-0.6 1.2-0.8 0.5-1 1.2-4.2 0.6-4.7 1.3-11 1.9-18.7 1.9-17.7 1.3-10.3 0.6-3.7 0.7-2.7 0.6-1.7 0.6-1.1 0.6-0.2 0.6 0.1 1-0.2 1.5 0 1.4 0.2 1.4 0.3 2.9 0.8 1.5 0.2 5.7 1.3 1.5 0.5 1.4 0.8 1.4 0.6 1.5 0.4 2.9 1.3 1.4 0.8 1.5 0.8 8.6 5.9 1.5 1.5 1.4 1.4 1.5 1.5 1.4 1.7 2.8 3.8 2.9 3.2 2.2 2.8 0 0" stroke="#f68d45"/>
<path d="M92 363.4l0.1-9.7 0.1-3.3 0.2-1.4 0.2 2.8 0.2-3.4 0.2 0.6 0.1 0.1 0.3 2.2 0.2 0.7 0.1-3 0.2-0.8 0.2 0.6 0.2-0.4 0.4 2.7 0.1-2.9 0.2 1.1 0.2-1.2 0.2 3.5 0.4-2.6 0.2 3.3 0.1-2.5 0.3 1.4 0.2 2.1 0.2 1.2 0.1-2.3 0.7 3.4 0.4 3.2 0.2 0.8 0.4 0.7 0.4 0.4 0.3 0.6 1-0.3 0.9-0.5 0.9 0.3 1 0.8 0.9 0.7 1-0.2 0.9-0.4 0.9-0.1 1 0.4 0.9 0.3 1 0.6 0.9 0.5 1 0.3 1.9 0 1.8 0.5 1.9 0 1-0.5 0.9-0.2 1.9-2.9 0.9-1.2 2.9-2.9 1-0.3 0.9 0.2 1 0.5 0.9 1.7 1 2.2 1 1.9 1 0.8 0.9 1.1 2 1.4 0.9 0.5 1 0.4 0.9 0.6 1 0.6 1 0.6 0.9 0.8 1 0.5 2 1.5 0.9 0.8 1 0.5 1 0.2 0.9 0.2 1 0.4 1 0.1 0.6 0.6 0.5 0.2 0.6-0.4 1.2-1.9 0.6-1.3 1.2-4 0.6-5.2 1.9-18.6 1.3-13.3 1.3-12.8 0.6-5.6 1.3-9.8 0.6-3.6 0.7-2.4 0.6-1.8 0.6-1 1.2-0.3 0.7-0.1 0.4-0.1 1.4 0 4.3 0.6 2.9 0.7 1.4 0.4 4.4 1.2 1.4 0.4 1.4 0.7 2.9 1.2 2.9 1.4 1.5 0.7 1.4 1 2.9 2.1 1.4 1.1 4.4 3.3 2.8 3.5 5.7 7.3 1.5 2.1 1.4 1.8 2.2 3.2 0 0" stroke="#f79342"/>
<path d="M93.1 362.4l0.1-9.4 0.2-3.1 0.2 3.4 0-7.6 0.3 4.8 0.2-1.7 0.1-0.7 0.3 3.6 0.1-2.2 0.3 3.4 0.1-3.3 0.2-0.5 0.2 1.4 0.2-1.1 0.2 2.3 0.2 0.8 0.1-3.4 0.2-0.1 0.2 0.8 0.2 1.9 0.2 0.1 0.2-1.7 0.2 0.3 0.2 1.8 0.2 1.1 0.1-3.2 0.2 1.6 0.7 3.3 0.4 3 0.2 0.8 0.4 0.7 0.4 0.4 0.3 0.1 1 0.2 0.9-0.1 0.9 0.5 1 0.2 0.9 0.2 1 0.6 0.9 0 0.9 0.4 1-0.5 0.9 0.2 1-0.1 0.9 0.5 0.9 0.1 1 0.3 0.9 0.1 1 0.3 0.9 0.4 1-0.2 0.9 0.3 1-0.4 0.9 0 0.9-1.9 1-1.1 0.9-1 1-0.6 0.9-1.6 1-1 0.9-0.2 1 0.7 1 0.7 1.9 3.8 1 1.4 0.9 0.5 1 1.4 1 0.4 0.9 0.9 1 0.4 0.9 0.6 1 0.3 1 0.8 0.9 1.1 1 0.7 1 0.5 0.9-0.1 1 0.7 1 0.1 1 0.7 0.9 1 1 0.8 1 0 0.9-0.5 0.6 0.5 0.6 0.1 0.6-0.4 0.6-1.5 0.6-0.9 0.6-0.8 0.6-1.4 0.6-1.7 1.2-11.3 1.3-12.2 2.5-25.4 1.3-10.4 0.7-5 0.6-3.9 0.6-2.2 0.7-1.5 0.6-0.9 0.6-0.2 0.6-0.2 0.6 0 0.4-0.2 1.5 0.1 1.4 0.2 2.9 0.7 1.4 0.1 1.4 0.2 1.5 0.4 1.4 0.5 1.5 0.4 1.4 0.3 1.4 0.3 1.5 0.7 2.9 1.5 2.9 1.4 1.4 0.8 2.9 2.2 5.7 4.8 1.5 1.4 4.2 5.8 2.9 4.2 4.2 6.4 2.2 3.8 0 0" stroke="#f99a3e"/>
<path d="M94.1 361.5l0.4-10.3 0.2-1 0.2 3.8 0.3-4.7 0.2 0.9 0.2-0.8 0.2 2 0.2-1.2 0.2 2 0.1-2.4 0.2 0.3 0.5 3.4 0.1-0.4 0.2-2.2 0.2 0 0.4 1.5 0.1 0.1 0.3 0.8 0.2 1.6 0.1-4.7 0.2 0.7 0.1-0.2 0.3 2.3 0.6 2.8 0.4 2.7 0.2 0.6 0.4 0.7 0.4 0.3 0.3 0.3 1 0.1 0.9 0.4 1 0.4 0.9-0.1 0.9 0 1 0.2 0.9 0.4 0.9-0.3 1 0.1 1.9 0.5 0.9 0 0.9 0 1 0.5 1.9 0.5 0.9 0.4 1 0.2 1.9 0.1 0.9 0.3 0.9-1.3 1-1.2 0.9-1.4 1-0.9 0.9-1.2 1-0.2 0.9-0.3 1.9 0.4 2 4.4 0.9 1.2 1 1 1 1.2 0.9 0.5 1 0.6 1 0.1 0.9 0.6 1-0.4 1.9 1.4 1 0.8 0.9 0.9 1 0.7 1 0.4 0.9 0.1 1 0.3 1 0.8 0.9 0.3 1 0.5 1 0 0.6 0.2 0.5-0.6 0.6-0.1 0.6-1.1 0.6-0.5 0.6-1.1 0.6-1.4 0.6-1.8 1.2-10.5 2.6-24.5 1.3-13.4 1.3-10.9 0.6-5.6 0.7-4.4 0.6-3.1 0.6-1.7 0.7-0.9 0.6 0.1 0.6-0.2 0.6 0 0.4-0.3 2.9 0.3 1.4 0.3 1.4 0.1 2.9 0.9 1.4 0.5 1.5 0.2 2.9 0.3 1.4 0.3 1.5 0.9 4.3 2 5.7 3.8 5.8 4.2 1.4 1.2 1.5 2 1.4 1.7 2.8 3.6 1.4 2.1 5.7 7.9 0.8 1.2 0 0" stroke="#fb9f3a"/>
<path d="M95.2 360.6l0.2-8.6 0.2-2.9 0.2 3.7 0-8.8 0.3 3.3 0.3 5.9 0.1-2.2 0.2 0.4 0.1-6.6 0.3 5 0.3-2.1 0.2 3 0.2-2.1 0.2 1.6 0.2-1.3 0.2 0.2 0.1-1.9 0.3 4.2 0.1-3.8 0.2 0.9 0.2-0.5 0.2 2.2 0.2 0.4 0.2-0.8 0.2 0.9 0.1 0.2 0.7 3 0.4 2.8 0.2 0.7 0.4 0.6 0.3 0.4 0.4 0 0.9 0.3 1 0.2 0.9-0.1 1 0.6 1.8 1 1.9-0.7 0.9 0.3 1 0.2 0.9 0.3 1-0.1 0.9-0.2 0.9 0.6 1 0.4 0.9 0.9 1-0.1 0.9 0.4 1 0.1 1.9-0.3 2.8-4.1 1.9-1.7 0.9-1.2 1-0.6 0.9 0.7 1 0.8 1 1.7 0.9 1.9 1 1.5 1.9 2 1 0.4 0.9 0.6 1 0.2 1.9 1 1 0.7 1 0.5 0.9 0.5 1 0.7 1 0.7 0.9 0.9 2 0.6 0.9 0 2 1.1 0.9 0.3 1.2 1.1 0.6-0.1 0.6-1.1 0.6-1.4 0.6-1.6 0.6-2 0.6-1.8 0.6-4.8 1.2-11.4 3.9-38.4 1.3-11.2 0.7-4.3 0.6-2.8 0.6-1.6 0.7-1 1.2-0.4 1-0.2 1.4 0.3 4.3 0.5 1.5 0.3 2.9 0.7 1.4 0.3 2.9 0.5 1.4 0.5 2.9 1.2 1.4 0.7 1.5 1 1.4 0.7 1.5 0.5 1.4 0.6 4.3 3.1 1.5 0.8 1.4 0.8 1.5 0.9 1.4 1.5 4.3 5 2.8 3.6 5.1 6 0 0" stroke="#fca537"/>
<path d="M96.3 359.7l0.2-10.1 0.1-3.4 0.2-0.9 0.2 1 0.2-0.9 0.1-0.3 0.1-4.1 0.3 3.9 0.2 1.1 0.1-2.8 0.3 2.8 0.2 0 0.1-1.9 0.2 2.1 0.2-0.4 0.2-0.9 0.2 2.4 0.2-2.3 0.2 0.6 0.2 1.3 0.2-0.1 0.1-0.4 0.3 2.1 0.1-0.8 0.2-1.5 0.2-0.4 0.2 2.3 0.6 3.4 0.4 3.2 0.2 0.8 0.4 0.7 0.4 0.5 0.4 0.1 0.9 0 0.9-0.2 1 0.3 0.9 0.6 1 0.4 1.8 0.2 1-0.1 0.9 0 0.9-0.2 1 0.5 0.9 0 1 0.5 0.9 0 1 0.4 0.9 0.1 0.9 0.5 1 0.5 0.9 0.1 1-1.2 0.9-0.7 1-1.2 0.9-1.2 0.9-1.4 1-1.3 0.9-0.4 1-0.7 0.9-0.2 1-0.1 1 1.2 0.9 1.6 1 2.2 1 1.2 0.9 1.4 1 1 0.9 0.6 1 0.1 1.9 0.8 1 0.5 1 0.9 1.9 1.4 0.9 0.3 2 1.3 0.9 1 2 1.1 2.9 1 1.1 0 0.6-0.8 1.2-0.9 0.6-1.1 1.2-4.4 1.3-10.9 4.5-42.7 1.3-9.6 0.6-3.3 0.7-2.1 0.6-1.4 0.6-1 1.2-0.5 2.5 0 1.4 0 1.4 0.3 1.5 0.4 4.3 0.9 2.8 0.7 1.5 0.2 1.4 0.4 4.3 2 1.5 0.8 2.8 1.8 1.5 0.9 2.8 2.3 4.3 3.4 1.5 1.3 1.4 1.7 2.8 3.7 1.4 2 2.9 4.4 1.4 2.1 2.8 4 0.8 1.2 0 0" stroke="#fdac33"/>
<path d="M97.4 358.8l0.2-10.4 0.2-6.2 0.3 1.7 0.3 1 0.2-2 0.2 3 0.2-3.4 0.1-0.5 0.2 0.7 0.5 3.4 0.1-2.7 0.4 3.1 0.1-4 0.3 3.3 0.2-0.9 0.1-0.1 0.2-3 0.5 6.1 0.1-1.5 0.2 0.2 0.2 2.5 0.2-2.3 0.6 3.5 0.4 3.3 0.2 0.8 0.4 0.7 0.4 0.5 0.4 0 0.9-0.1 2.8 0.4 0.9 0.3 1 0.6 1.8 0.8 1-0.1 0.9 0 1-0.1 0.9 0.2 0.9-0.4 1 0.3 0.9 0.4 1 0.7 0.9 0.2 1 0 0.9 0.1 0.9-0.6 1-0.3 0.9-1.7 1.9-2.6 2.9-2.8 0.9-0.5 1 0 0.9 1.1 1 1.8 1 2.1 0.9 1.1 1 1.2 0.9 1.4 1 0.3 1.9 1.6 1 0.6 0.9 0.5 2 1.4 0.9 0.3 1 1.1 1.9 1.8 1-0.1 1 0.5 0.9 0.7 1 0.4 1 0.2 0.9-0.2 1.2 0.3 1.2-1.3 0.6-0.5 0.5-1.1 0.6-1.8 0.6-2.3 1.3-11 1.3-12.2 1.3-12.8 1.9-16.7 1.3-9.4 0.7-3.1 0.6-1.8 0.6-1.6 0.7-0.9 1.2-0.2 1-0.6 4.3 0.9 1.4 0.1 2.9 0.7 2.8 0.9 1.5 0.3 1.4 0.1 1.4 0.4 1.5 0.5 1.4 0.6 1.4 0.8 1.5 0.8 1.4 0.9 2.9 1.4 5.7 3.6 2.9 2.1 2.9 3.3 2.8 3 5.7 7.6 2.2 2.9 0 0" stroke="#fdb22f"/>
<path d="M98.5 357.8l0.3-12.6 0.2-2.4 0.1 0.2 0.2 0.8 0.2 1.2 0.2-0.4 0.3 2.2 0.1-2.8 0.1-1.3 0.3 1.9 0.1-0.8 0.2 0.6 0.4-1 0.2 3.7 0.2-0.6 0.2-2.5 0.2 3.2 0.1-3.5 0.3 3.3 0.1-2.6 0.2-0.1 0.2 2.5 0.2-0.8 0.2 3.4 0.2-2.3 0.6 3.3 0.4 3.2 0.2 0.8 0.4 0.7 0.4 0.4 0.4 1 0.9-0.3 0.9 0 1 0.3 1.8 0.2 1 0.1 0.9 0.1 1.9 0.6 0.9 0.5 0.9-0.4 1.9 0.1 1 0.8 0.9 0 0.9 0.4 1 0.3 0.9 0.4 1 0.1 0.9-0.3 1-0.6 1.8-3.8 1.9-2.2 1-0.8 0.9-0.9 1-0.1 0.9 0.3 1 1.1 1 2 0.9 1.7 1 1.3 1.9 2.2 1 0.2 0.9 0.5 1.9 1.2 1 0.2 1 0.9 0.9 0.7 1 0.9 0.9 0.2 1 1 1 0.8 0.9 0.9 2 0.7 1.9 0.4 1 0 0.5-0.1 0.6 0.2 0.6-0.7 0.6-0.1 0.6-0.8 0.6-1 0.6-2.4 0.6-2.2 0.6-5.5 0.6-5 1.3-12.1 0.7-6.9 1.9-17.8 0.7-5 1.3-9 0.6-3.4 0.7-2 0.6-1.5 0.6-1 0.6-0.3 0.6-0.2 1.1-0.1 2.8 0.5 1.4 0.4 1.5 0.1 1.4 0.4 1.4 0.1 1.4 0.4 1.5 0.2 1.4 0.4 1.4 0.2 1.5 0.5 1.4 0.7 1.4 0.8 2.9 1.3 1.4 0.8 1.5 0.8 1.4 0.7 1.5 0.9 1.4 1 1.4 1.2 2.9 2.3 1.4 1 1.4 1.8 1.4 1.7 1.5 1.8 1.4 1.7 1.4 1.9 1.4 2 1.4 1.9 1.4 2 1.4 1.9 0.8 1.1 0 0" stroke="#feb82c"/>
<path d="M99.6 356.9l0.3-11 0.2-0.1 0.1-2.6 0.2 0.8 0.2-0.7 0.2 0.8 0.5 3.6 0.1-3.8 0.2 0.7 0.1-0.8 0.3 2.7 0.1-2.3 0.2 0.8 0.2 1.3 0.2-1.1 0.2 3.4 0.1-6.2 0.3 5.5 0.2 0 0.1-4.3 0.2 2.4 0.2-1.3 0.2 2.6 0.2 0.4 0.2 0 0.6 3 0.4 2.7 0.2 0.7 0.4 0.6 0.4 0.4 0.3-0.5 1 0.4 0.9 0.2 0.9 0.8 1 0 0.9 0.2 0.9-0.2 1 0 0.9 0.2 0.9 0.6 1 0.4 0.9 0.2 1-0.1 0.9 0.1 0.9 0.7 1 0.1 0.9 0.5 1-0.4 0.9-0.1 0.9-0.1 1.9 0.4 1-1.1 0.9-1.5 1-0.7 0.9-1.3 0.9-0.6 1-1.3 0.9 0.2 1 0.4 1 0.5 0.9 1.4 1.9 3.6 1 1 1 1.2 4.7 1.8 1 0.4 1 0.6 0.9 0.8 1 0.5 1.9 1.6 1 0.6 1.9 0.2 1.9 1 1-0.1 1.2 0.8 0.5-0.1 1.2-2 0.6-1.2 1.2-3.7 1.3-10.7 4.5-42.5 1.4-10.9 0.6-4.1 0.7-2.7 0.6-1.5 0.6-1 2.2-0.2 1.5-0.1 2.8 0.2 1.5 0.3 1.4 0.5 1.4 0.4 1.4 0.3 1.5 0.4 1.4 0.2 1.4 0.5 1.5 0.2 1.4 0.8 2.9 1.1 1.4 0.7 1.5 0.9 1.4 0.8 2.9 1.9 1.4 1.2 1.4 0.9 1.4 1.2 1.5 1 1.4 1.1 2.8 3.6 1.5 1.8 1.4 1.7 2.8 4 1.4 2.1 1.4 1.8 2.2 3.1 0 0" stroke="#fec029"/>
<path d="M100.6 356l0.2-10.1 0.2-3.4 0.1-0.6 0.2-3.4 0.3 6.1 0.1-4.2 0.2 1.9 0.2 0.4 0.3-2.1 0.3 4.4 0.1-4.5 0.2 0.4 0.1-1.5 0.3 5.6 0.1-5 0.3 3.4 0.2 1.2 0.1-3.3 0.2 0.8 0.2 3.6 0.2 1.1 0.2-1.4 0.2-1.9 0.1-2.6 0.2 1.3 0.2 2.2 0.6 3.4 0.5 3.2 0.2 0.8 0.3 0.7 0.4 0.4 0.4 0.6 0.9 0 1 0.3 0.9-0.1 0.9 0 0.9 0 1.9 0.5 1 0.4 0.9-0.3 0.9 0.3 1-0.2 0.9 0.6 0.9-0.1 1 0.1 0.9 0 1 0.4 0.9 0.8 1 0.2 0.9-0.1 0.9-0.4 1-0.2 1.9-3.3 0.9-1.5 0.9-1 1-1.4 0.9-0.5 1-0.1 0.9 1.1 1 0.5 1 1.7 1.9 3.1 0.9 1.3 1 1.5 1 0.1 0.9 0 1 0.5 0.9 0.9 1 1 1 0.6 1.9 1 0.9 0.5 2 1.3 0.9 0.8 1 0.4 0.9 0.9 1 0 1 0.7 0.9-0.4 0.6 0.5 0.6-0.2 0.6-0.4 0.6-1.1 0.6-0.5 0.6-1.1 0.6-1.7 0.6-2.3 1.2-11.2 4-38.2 0.6-5.6 1.4-10.2 0.6-3.7 0.6-2.3 0.7-1.7 0.6-0.9 0.6-0.2 0.6 0 1-0.2 1.5 0 1.4 0.2 2.8 0.6 1.5 0.3 2.8 0.6 1.5 0.4 4.3 0.8 1.4 0.6 1.4 0.7 2.9 1.6 1.4 0.7 1.5 0.8 1.4 1 2.9 2.3 2.8 2.6 1.5 1.1 1.4 1 2.8 3.7 1.4 2 1.4 1.9 1.4 2.2 1.4 2.1 1.4 2.3 1.4 2.1 1.4 2.2 0.8 1.1 0 0" stroke="#fdc627"/>
<path d="M101.7 355.1l0.2-8.4 0.2-2.8 0.1-1.3 0.2-2.7 0.2 3 0.2-0.5 0.2 0.3 0.2 3.6 0.1-4.2 0.2-0.6 0.5 5.6 0.1-3 0.2-1.5 0.2 0.2 0.1-0.8 0.3 3.7 0.1-2.8 0.2 2 0.2 0.5 0.2 1.3 0.2-4.8 0.2 3.4 0.2-0.5 0.2 2.6 0.1-4 0.2 2.3 0.6 2.9 0.4 2.7 0.2 0.7 0.4 0.6 0.4 0.4 0.4 0.1 0.9 0.2 0.9 0.2 1.9 0.5 1.9 0.1 0.9 0 0.9 0.3 1-0.3 0.9 0.3 0.9 0.3 1 0.8 0.9 0.4 1 0.2 0.9-0.3 0.9 0.1 1 0.2 0.9 0.3 1-0.1 0.9-0.5 0.9 0.3 1-1.3 0.9-1 1-1.3 0.9-0.9 1-0.6 0.9-0.9 1-0.2 0.9 0.3 1 1.2 1.9 4.4 0.9 0.9 1 0.4 0.9 1 1 0.3 1 0 0.9-0.2 1 0.1 0.9 0.8 1 0.5 1 1.1 0.9 0.6 1 1.1 1.9 1.9 0.9 0.4 1 0 2.9 1.2 1 0.5 0.5 0.1 0.6 0.3 0.6-0.6 0.6-0.9 0.6-0.6 0.6-1.4 1.2-3.7 0.6-4.8 0.7-5.3 4.5-41.9 1.4-10 0.6-4 0.7-2.6 0.6-1.7 0.6-0.8 0.6-0.2 1.2-0.2 0.4 0 1.5 0.1 1.4 0.1 2.8 0.7 1.4 0.5 1.5 0.2 1.4 0.3 1.4 0.2 4.3 1.1 1.5 0.6 1.4 0.6 2.8 1.5 1.5 0.6 1.4 0.6 2.9 1.7 4.3 2.8 1.4 0.8 1.4 1 1.5 1.4 2.8 3.2 1.4 1.9 1.4 1.7 1.4 1.6 2.9 3.5 2.2 2.9 0 0" stroke="#fccd25"/>
<path d="M102.8 354.2l0.2-9.6 0.1-3.2 0.2 0.9 0.2-0.4 0.2-1.8 0.2 0.2 0.2 3.2 0.1-2.5 0.2-0.6 0.1-4.3 0.3 6.7 0.2 0.2 0.1-2.9 0.3 1.8 0.1-2.9 0.3 4.9 0.1-3.2 0.4 2.8 0.1-3.2 0.2 0 0.2-0.3 0.2 0.5 0.2 2.7 0.2-1.1 0.2 0.1 0.8 4.4 0.4 3 0.2 0.8 0.4 0.7 0.7 0.9 1 0.2 0.9 0 0.9 0.1 1 0.2 0.9 0.3 1.9 0.3 0.9-0.2 1.9-0.1 0.9 0.7 0.9 0.1 1 0.5 0.9 0.2 1 0.6 0.9 0.2 0.9 0.1 1 0 1.9-0.7 0.9 0 0.9-1.5 1-1.8 0.9-1.7 1-0.7 0.9-0.8 1-0.9 0.9 0.1 1 0 0.9 0.7 1 1.4 0.9 2.6 1 1.5 0.9 0.7 1 0.8 1 0.3 0.9 1.2 1 0.6 0.9 1 1 0.3 0.9 0.5 2 1.3 0.9 0.6 1 0.3 0.9 0.5 1 1 1 0.6 0.9 0.4 1 0.7 0.9 0.2 1 0.4 1.2-0.6 0.6-0.6 0.5-0.7 0.6-0.4 0.6-1 1.2-4.1 1.3-10.8 1.3-11.7 1.3-12.2 1.4-12.1 0.6-5.5 1.3-9.4 0.7-3.1 0.6-2.1 0.6-1.4 0.6-1 0.7-0.1 0.6-0.2 1-0.1 1.4 0.2 4.3 1 1.4 0.1 1.4 0.3 1.4 0.2 1.5 0.5 1.4 0.1 1.4 0.2 1.5 0.4 2.8 1.4 1.4 0.5 2.9 1.2 1.4 0.8 1.5 0.8 2.8 1.8 1.5 0.7 2.8 1.8 1.5 1.1 2.8 3 1.4 1.5 2.8 3.2 1.4 1.7 1.5 1.6 3.6 4.3 0 0" stroke="#fbd524"/>
<path d="M103.9 353.3l0.3-12.3 0.2-2.3 0.2 1.8 0.1-2.2 0.2 0.5 0.2 1.9 0.3 3.2 0.1-3.5 0.2-2 0.2 4 0.1-3.4 0.2 2.1 0.3 1.3 0.1-1.4 0.2 2.8 0.2-4 0.1-2.4 0.2 2.6 0.5 2.7 0.1-0.6 0.2-2.1 0.2 0.6 0.2 1.1 0.1-1.3 0.3 2.5 0.6 3.2 0.4 3.1 0.2 0.7 0.4 0.7 0.3 0.5 0.4 0.1 0.9 0.1 1 0.3 0.9 0.3 0.9 0.2 1 0 0.9-0.1 0.9-0.1 1 0.6 0.9 0 0.9 0.4 1-0.3 1.8 0.9 1 0.4 0.9 0.4 1.9 0 0.9-0.4 1-0.1 1.9 0.5 0.9-1.5 0.9-1.9 1-1.5 0.9-0.8 1.9-1.4 1 0.1 0.9-0.4 1 0.9 0.9 1.4 1 3.1 0.9 0.9 1 1.1 1.9 1.7 0.9 0.4 1 0.2 1 0.5 1.9 1.6 0.9 0.6 1 0.5 1.9 1.1 1 1.3 0.9 0.5 1 0.4 0.9 0.2 1 0.5 1 0.7 0.9-0.1 0.6 0.1 1.2-1.4 0.6-0.7 0.6-0.3 0.5-1 0.6-2.1 0.7-2.5 2.5-22.4 0.7-6.9 2.7-24.3 1.3-10.2 0.7-3.8 0.6-2.3 0.6-1.5 0.6-1 0.7-0.2 1.6-0.2 1.4 0 1.4 0.1 1.4 0.1 1.5 0.2 1.4 0.5 1.4 0.3 1.4 0.5 1.5 0.4 1.4 0.5 1.4 0.1 1.5 0.4 1.4 0.6 1.4 0.7 1.5 0.4 1.4 0.7 1.4 0.5 2.9 1.4 2.8 2.1 1.5 0.9 1.4 1.1 2.9 1.8 1.4 1.5 1.4 1.6 9.8 12.5 0.9 0.8 0 0" stroke="#f9dc24"/>
<path d="M104.9 352.4l0.4-10.6 0.2-0.5 0.2 0.3 0.2 0.1 0.1-2 0.2 1.8 0.2-1.1 0.2 0 0.2-0.2 0.2 0.1 0.1-1.3 0.3 4.8 0.2-0.2 0.1-2.5 0.2-0.5 0.2-0.8 0.2 3 0.2 1.8 0.2-2 0.3 0.5 0.2-0.8 0.2 0.8 0.2-0.7 0.2 1 0.2 0.1 0.6 2.9 0.4 2.7 0.2 0.6 0.3 0.7 0.4 0.4 0.4 0.5 1.8-0.2 1-0.1 0.9 0.4 0.9 0.2 1 0.1 1.8 0.6 1 0.5 0.9-0.1 0.9-0.1 1 0.2 0.9 0.5 0.9 0.8 1 0.2 0.9 0 0.9-0.5 1 0.4 0.9-0.1 1 0.1 0.9-0.6 0.9-1 1-1.2 0.9-0.6 1.9-1.9 1-0.8 0.9-0.1 1 0.3 0.9 0.8 1 1.7 0.9 2.3 1 0.7 0.9 0.7 1 0.9 0.9 0.8 1 0.6 0.9 0.2 1 0.2 1 0.5 0.9 0.7 1 1 0.9 0.5 1.9 0.7 1 0.8 1.9 0.8 1 0.7 0.9 1.4 1 0.6 0.9-0.1 0.6-0.9 0.6-0.2 0.6-0.3 0.6-0.3 0.6-0.8 0.6-1.1 1.2-4.2 1.9-16.3 2-19.2 2-19.7 1.4-11.2 0.6-4.3 0.7-3.1 0.6-1.7 0.6-0.9 0.6-0.2 0.7-0.2 2.4-0.1 2.8 0.2 1.5 0.4 1.4 0.3 1.4 0.4 4.3 1 1.4 0.3 1.5 0.5 5.7 2.5 2.8 1.4 1.5 0.7 2.8 1.9 4.3 3.1 1.5 0.9 2.8 3.3 2.8 3.4 4.2 5.5 1.4 1.7 1.4 1.9 0.8 1.2 0 0" stroke="#f7e225"/>
<path d="M106 351.5l0.2-8.5 0.2-3 0.2 0.6 0.1-4.6 0.2 2.5 0.2-0.5 0.2 0.5 0.2 0.2 0.2 2.5 0.1-2.4 0.2-0.3 0.2 0.5 0.2 1 0.1-2.8 0.3 4.7 0.1-3.7 0.2-1.9 0.2 3.6 0.2-1.3 0.2 1.1 0.2-1.1 0.2 2 0.2 1.1 0.2 1.8 0.3-3.2 0.2 1.5 0.6 3 0.4 2.9 0.2 0.7 0.4 0.6 0.4 0.4 0.3-0.5 1 0.9 0.9 0.1 0.9 0.4 0.9-0.3 1-0.1 0.9 0 0.9 0.1 1 0.9 0.9 0.4 0.9 0.2 1 0.1 0.9-0.1 0.9 0.6 1-0.1 0.9 0.3 1-0.1 0.9 0.1 0.9 0 1 0.3 0.9-0.1 1 0.1 0.9-1.6 0.9-1.2 1-1.5 0.9-0.9 1-1.3 0.9-0.5 1 0.4 0.9 0.8 1 1.1 0.9 1.3 1 2.4 1.9 1.7 0.9 0.3 1 0.6 0.9 0.8 1 0.7 0.9 0.5 1.9 1.4 1 0.5 1 0.1 0.9 0.4 1.9 1.3 1 0.4 1.9 1.1 1 0.7 0.9 0.2 1-0.2 0.6 0 1.1 0.3 0.6-0.3 0.6-0.5 0.6-1.6 1.2-4.1 1.3-10.6 4.6-41.2 1.4-9.8 0.6-3.7 0.7-2.4 0.6-1.7 0.6-0.9 0.6-0.2 0.6-0.1 0.6-0.2 0.4-0.1 1.4 0.2 1.5 0.3 1.4 0.4 1.4 0.3 1.4 0.3 1.4 0.1 1.5 0.2 1.4 0.4 2.8 0.6 2.9 1 1.4 0.5 1.4 0.7 1.5 0.8 4.3 2.1 4.2 2.8 2.9 1.6 1.4 0.8 2.8 2.9 1.5 1.6 4.2 5 1.4 1.5 1.4 1.7 1.4 1.6 0.8 1.1 0 0" stroke="#f5eb27"/>
<path d="M107.1 350.6l0.3-11.6 0.2-1.1 0.2 0 0.2-0.9 0.1 0.2 0.3 1.5 0.1-1 0.3 3.4 0.1-2.6 0.2 2.7 0.2-3.7 0.2 3.4 0.1-2.9 0.2 1.1 0.2-0.3 0.2 3.2 0.2-1.7 0.2-2.4 0.2 2.4 0.4 0.6 0.1-0.5 0.2-2.5 0.2-0.8 0.2 3.3 0.2 0.4 0.6 3.1 0.4 2.8 0.2 0.7 0.3 0.7 0.4 0.4 0.4 0.5 0.9 0 1.9 0.2 0.9 0.2 0.9 0.4 1 0.5 0.9 0 0.9-0.2 1 0 0.9 0.1 0.9 0.6 1 0.3 1.8 0.1 3.8 0.9 0.9-0.3 1 0 0.9-0.7 0.9-1 1-1.8 0.9-0.8 1-1 0.9-1.2 1-0.8 0.9-0.2 1.9 1.2 1 2 0.9 2.2 2.9 2.6 1.9 1.8 0.9 1 1 0.1 0.9-0.3 1 0 0.9 1 1 1.1 0.9 0.5 1 0.6 1 0.3 0.9 0.6 1.9 1.9 1 0.5 0.9-0.2 2.2 0.1 0.5-0.5 1.2-1.2 0.6-1.4 0.6-1.9 0.6-2.3 1.3-10.5 2-17.5 2.7-24.1 1.3-10.2 0.7-3.8 0.6-2.7 0.7-1.4 0.6-1.1 0.6 0 0.6-0.4 0.6-0.1 0.4-0.1 2.8 0.4 2.9 0.7 1.4 0.4 2.8 0.5 1.5 0.2 1.4 0.5 1.4 0.3 1.4 0.5 1.5 0.4 1.4 0.6 1.4 0.8 2.9 1.9 1.4 0.6 2.8 1.7 2.9 2.2 1.4 1 2.8 2.4 1.4 1.9 1.4 1.7 2.8 3.5 1.4 2.2 1.4 2 4.2 5.8 0.8 1.3 0 0" stroke="#f2f227"/>
<path d="M108.1 349.7l0.2-9.8 0.3-5.9 0.2-0.2 0.2 3.2 0.2-3.4 0.2 1.7 0.2-0.2 0.2 4 0.2-2.4 0.1-0.6 0.2 0.7 0.5-3.7 0.2 0.8 0.3 5.5 0.1-4.6 0.2 3.2 0.2 0.2 0.2-3.2 0.2 2.4 0.2-0.6 0.2 2.5 0.1-1.3 0.2-0.4 0.2 0.7 0.6 3.5 0.4 3.2 0.2 0.8 0.4 0.7 0.7 0.9 1-0.1 0.9 0.1 0.9-0.1 0.9 0 1 0.2 0.9 0.3 0.9 0.7 1-0.1 0.9 0 0.9-0.5 1 0.7 0.9 0.3 0.9 0.5 1 0.2 0.9 0.1 0.9 0.2 1-0.3 0.9 0.2 1-0.4 0.9 0 0.9-0.3 1-1 1.9-2.8 0.9-1.5 0.9-1.2 1-0.6 0.9 0.1 1 0.4 0.9 0.9 1 1.8 0.9 2.2 1 1 0.9 0.8 1 1.4 0.9 0.6 1 0.3 1-0.1 0.9 0.8 1.9 2 1 0.6 0.9 0.8 1 0.4 1.9 1.2 0.9 0.1 1 0.5 1 0.7 1.9 1 0.9-0.1 0.6 0.5 0.6 0 0.6-0.5 0.6-0.8 0.5-0.4 0.6-1.1 1.3-4.9 1.3-11 4-36.4 0.6-5.1 1.4-9.5 0.6-3.4 0.7-2 0.6-1.6 0.6-0.9 0.6-0.1 0.6-0.1 0.6-0.2 0.4 0.1 1.5-0.1 1.4 0.3 1.4 0 1.4 0.5 4.3 0.8 1.4 0.3 4.3 0.9 5.7 3 2.8 1.7 1.4 0.6 1.4 0.8 1.5 0.8 1.4 1 1.4 1 1.4 0.9 1.5 1 4.2 5.1 1.4 1.6 2.8 3.9 1.4 1.9 1.4 1.8 1.3 1.9 0.8 1 0 0" stroke="#f0f921"/></g></g>
<g id="pd"><rect x="316.4" y="265.2" width="223.8" height="176.1" fill="#fff" stroke="#262626" stroke-width="0.5"/>
<path d="M330.7 441.3v-2.2M330.7 265.2v2.2M364.3 441.3v-2.2M364.3 265.2v2.2M398.0 441.3v-2.2M398.0 265.2v2.2M431.6 441.3v-2.2M431.6 265.2v2.2M465.2 441.3v-2.2M465.2 265.2v2.2M498.8 441.3v-2.2M498.8 265.2v2.2M532.5 441.3v-2.2M532.5 265.2v2.2M316.4 441.3h2.2M540.2 441.3h-2.2M316.4 416.1h2.2M540.2 416.1h-2.2M316.4 391.0h2.2M540.2 391.0h-2.2M316.4 365.8h2.2M540.2 365.8h-2.2M316.4 340.7h2.2M540.2 340.7h-2.2M316.4 315.5h2.2M540.2 315.5h-2.2M316.4 290.3h2.2M540.2 290.3h-2.2M316.4 265.2h2.2M540.2 265.2h-2.2" stroke="#262626" stroke-width="0.5"/>
<g font-family="Liberation Sans" font-size="7" fill="#262626"><text x="330.7" y="451.8" text-anchor="middle">400</text><text x="364.3" y="451.8" text-anchor="middle">500</text><text x="398.0" y="451.8" text-anchor="middle">600</text><text x="431.6" y="451.8" text-anchor="middle">700</text><text x="465.2" y="451.8" text-anchor="middle">800</text><text x="498.8" y="451.8" text-anchor="middle">900</text><text x="532.5" y="451.8" text-anchor="middle">1000</text><text x="313.2" y="443.8" text-anchor="end">0</text><text x="313.2" y="418.6" text-anchor="end">0.1</text><text x="313.2" y="393.5" text-anchor="end">0.2</text><text x="313.2" y="368.3" text-anchor="end">0.3</text><text x="313.2" y="343.2" text-anchor="end">0.4</text><text x="313.2" y="318.0" text-anchor="end">0.5</text><text x="313.2" y="292.8" text-anchor="end">0.6</text><text x="313.2" y="267.7" text-anchor="end">0.7</text></g>
<path d="M316.4 437.5L316.9 426.2 317.6 416.1 318.2 411.9 319.1 410.9 319.9 412.1 321.3 413.1 323.0 414.6 324.3 416.9 325.6 421.2 327.0 425.7 328.3 427.7 330.7 427.5 337.4 426.7 347.5 425.7 360.0 424.2 364.3 423.7 367.7 422.7 371.0 420.7 374.4 416.1 377.8 411.4 380.5 408.6 383.2 407.6 385.8 408.6 388.5 411.9 391.2 415.4 394.6 417.4 401.3 418.7 408.0 419.4 411.7 420.4 416.4 421.7 421.5 422.4 426.5 421.7 429.2 419.9 430.9 416.1 432.3 409.9 433.9 394.8 437.0 367.1 440.0 342.4 443.0 320.8 446.0 310.0 448.4 306.7 450.8 305.4 455.1 304.9 465.2 304.4 475.3 303.9 486.1 303.3 492.1 303.7 498.8 304.2 505.6 305.4 514.6 308.5 520.7 310.5 527.4 313.5 532.5 315.5 535.2 317.0 536.8 315.5 538.5 315.8 540.0 315.6" fill="none" stroke="#55b6e8" stroke-width="1" stroke-linejoin="round"/>
<path d="M316.4 441.3L316.9 433.8 317.6 423.7 318.6 416.1 319.6 412.9 320.3 412.4 321.6 413.1 323.3 414.9 324.6 417.4 326.0 423.7 327.3 429.5 328.3 431.7 330.7 431.0 337.4 429.7 347.5 428.7 360.0 428.0 364.3 427.5 367.7 426.2 371.0 423.2 374.4 417.9 377.8 412.4 380.5 409.1 383.2 407.8 385.8 409.1 388.5 412.9 391.2 417.4 394.6 419.9 401.3 421.9 408.0 424.2 414.8 426.2 421.5 428.0 426.5 427.2 429.2 425.2 430.9 421.2 432.3 414.9 433.9 399.8 437.0 370.9 440.0 345.7 443.0 324.3 446.0 312.5 448.4 308.5 450.8 306.7 455.1 305.9 465.2 305.2 475.3 304.7 486.1 304.2 492.1 304.9 498.8 306.2 505.6 307.2 514.6 309.5 519.0 311.7 524.1 315.5 529.1 318.0 534.2 319.3 537.5 320.5 540.0 321.5" fill="none" stroke="#f59e82" stroke-width="1" stroke-linejoin="round"/>
<rect x="480.3" y="270.6" width="54.8" height="18.4" fill="#fff" stroke="#262626" stroke-width="0.5"/>
<path d="M483.4 275.8H503.2" stroke="#55b6e8" stroke-width="1"/><path d="M483.4 283.6H503.2" stroke="#f59e82" stroke-width="1"/>
<g font-family="Liberation Sans" font-size="6.6" fill="#262626"><text x="504.6" y="278.2">healthy</text><text x="504.6" y="286">gray mold</text></g>
<text x="428.3" y="461.3" font-family="Liberation Sans" font-size="7.6" text-anchor="middle" fill="#262626">wavelength(nm)</text>
<text transform="translate(301.3,353) rotate(-90)" font-family="Liberation Sans" font-size="7.5" text-anchor="middle" fill="#262626">reflectance</text></g>
<g font-family="Liberation Serif" font-size="14.5" fill="#000" text-anchor="middle">
<text x="444.5" y="244">(b)</text><text x="159" y="481.5">(c)</text><text x="444.6" y="481">(d)</text></g>
</svg>
</body></html>
